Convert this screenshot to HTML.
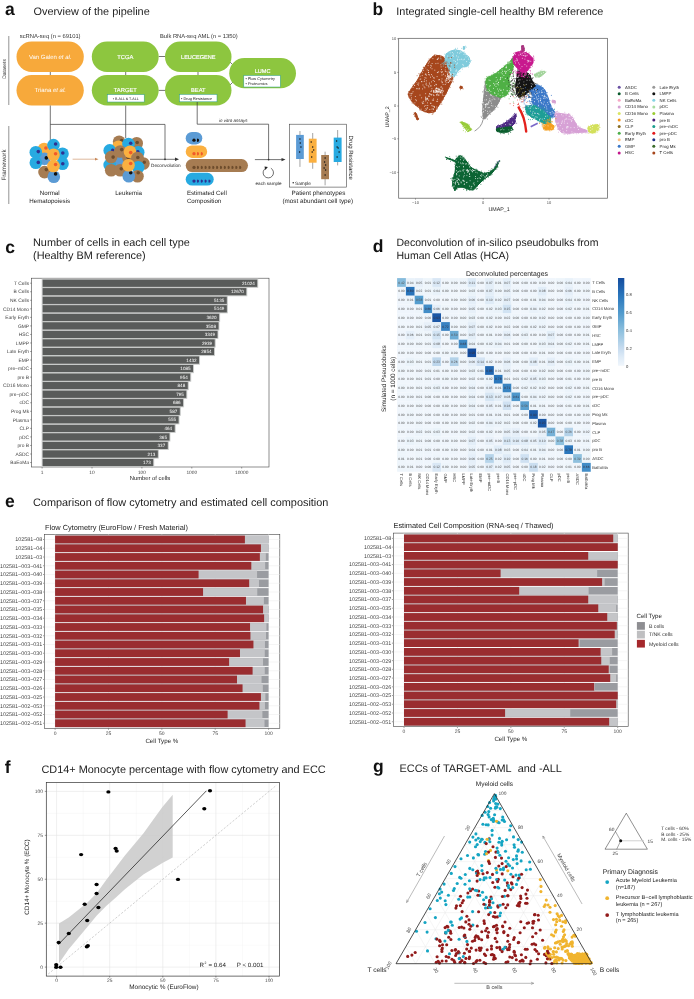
<!DOCTYPE html>
<html><head><meta charset="utf-8"><style>
html,body{margin:0;padding:0;background:#fff;}
svg{display:block;font-family:"Liberation Sans",sans-serif;will-change:transform;text-rendering:geometricPrecision;}
</style></head><body>
<svg width="694" height="999" viewBox="0 0 694 999">
<rect width="694" height="999" fill="#fff"/>
<text x="4.9" y="15.2" font-size="17.5" fill="#111" font-weight="bold">a</text>
<text x="33.5" y="14.75" font-size="10.9" fill="#222">Overview of the pipeline</text>
<line x1="8.8" y1="36" x2="8.8" y2="105" stroke="#666" stroke-width="0.7"/>
<line x1="8.8" y1="126" x2="8.8" y2="204" stroke="#666" stroke-width="0.7"/>
<text x="6.4" y="69" font-size="5.0" fill="#333" text-anchor="middle" transform="rotate(-90 6.4 69)">Datasets</text>
<text x="6.2" y="165" font-size="6.2" fill="#333" text-anchor="middle" transform="rotate(-90 6.2 165)">Framework</text>
<text x="19.8" y="38" font-size="5.8" fill="#333">scRNA-seq (n = 69101)</text>
<text x="160" y="38" font-size="5.8" fill="#333">Bulk RNA-seq AML (n = 1350)</text>
<line x1="50.3" y1="72" x2="50.3" y2="75" stroke="#3a3a3a" stroke-width="0.7"/>
<line x1="125.7" y1="72" x2="125.7" y2="75" stroke="#3a3a3a" stroke-width="0.7"/>
<line x1="198" y1="72" x2="198" y2="75" stroke="#3a3a3a" stroke-width="0.7"/>
<line x1="158.7" y1="56.5" x2="165" y2="56.5" stroke="#3a3a3a" stroke-width="0.7"/>
<line x1="158.7" y1="90.4" x2="165" y2="90.4" stroke="#3a3a3a" stroke-width="0.7"/>
<line x1="229" y1="61" x2="234" y2="66" stroke="#3a3a3a" stroke-width="0.7"/>
<line x1="229" y1="86" x2="234" y2="81" stroke="#3a3a3a" stroke-width="0.7"/>
<rect x="16.5" y="41.5" width="67.3" height="30.5" rx="15.25" fill="#f7a93b"/>
<rect x="16.5" y="75" width="67.3" height="30.5" rx="15.25" fill="#f7a93b"/>
<rect x="91.8" y="41.5" width="66.9" height="30.5" rx="15.25" fill="#8dc63f"/>
<rect x="91.8" y="75" width="66.9" height="30.5" rx="15.25" fill="#8dc63f"/>
<rect x="165" y="41.5" width="66.5" height="30.5" rx="15.25" fill="#8dc63f"/>
<rect x="165" y="75" width="66.5" height="30.5" rx="15.25" fill="#8dc63f"/>
<rect x="229.2" y="58" width="66.8" height="30.3" rx="15.15" fill="#8dc63f"/>
<text x="50.2" y="58.6" font-size="6.0" fill="#fff" text-anchor="middle">Van Galen <tspan font-style="italic">et al.</tspan></text>
<text x="50.2" y="92.2" font-size="6.0" fill="#fff" text-anchor="middle">Triana <tspan font-style="italic">et al.</tspan></text>
<text x="125.3" y="58.6" font-size="5.8" fill="#fff" text-anchor="middle" stroke="#fff" stroke-width="0.15">TCGA</text>
<text x="125.3" y="92.1" font-size="5.8" fill="#fff" text-anchor="middle" stroke="#fff" stroke-width="0.15">TARGET</text>
<text x="198.3" y="58.6" font-size="5.6" fill="#fff" text-anchor="middle" stroke="#fff" stroke-width="0.15">LEUCEGENE</text>
<text x="198.3" y="92.1" font-size="5.8" fill="#fff" text-anchor="middle" stroke="#fff" stroke-width="0.15">BEAT</text>
<text x="262.6" y="73.2" font-size="5.6" fill="#fff" text-anchor="middle" stroke="#fff" stroke-width="0.15">LUMC</text>
<rect x="107.3" y="94.6" width="36.9" height="7.4" fill="#fff" stroke="#2a9d8f" stroke-width="0.5"/>
<text x="125.7" y="99.8" font-size="3.6" fill="#222" text-anchor="middle">• B-ALL &amp; T-ALL</text>
<rect x="179.5" y="94.4" width="37.5" height="7.4" fill="#fff" stroke="#2a9d8f" stroke-width="0.5"/>
<text x="181" y="99.7" font-size="3.9" fill="#222">• Drug Resistance</text>
<rect x="243.8" y="75.5" width="36.5" height="11.5" fill="#fff" stroke="#2a9d8f" stroke-width="0.5"/>
<text x="245.5" y="80.4" font-size="3.9" fill="#222">• Flow Cytometry</text>
<text x="245.5" y="85.4" font-size="3.9" fill="#222">• Proteomics</text>
<polyline points="50.3,105.5 50.3,141" fill="none" stroke="#3a3a3a" stroke-width="0.7"/>
<polyline points="125.7,105.5 125.7,138" fill="none" stroke="#3a3a3a" stroke-width="0.7"/>
<polyline points="50.3,124.4 165,124.4 165,159.3" fill="none" stroke="#3a3a3a" stroke-width="0.7"/>
<polyline points="197.2,102 197.2,124.2 268.6,124.2 268.6,159.6" fill="none" stroke="#3a3a3a" stroke-width="0.7"/>
<polyline points="150,159.3 176,159.3" fill="none" stroke="#3a3a3a" stroke-width="0.7"/>
<path d="M179,159.3 L175,157.6 L175,161 Z" fill="#333"/>
<circle cx="165" cy="159.3" r="0.9" fill="#333"/>
<text x="151" y="166.6" font-size="4.7" fill="#222">Deconvolution</text>
<polyline points="254.9,159.6 282,159.6" fill="none" stroke="#3a3a3a" stroke-width="0.7"/>
<path d="M285.5,159.6 L281.5,157.9 L281.5,161.3 Z" fill="#333"/>
<circle cx="268.6" cy="159.6" r="0.9" fill="#333"/>
<text x="219" y="121.8" font-size="4.5" fill="#222" font-style="italic">in vitro assays</text>
<path d="M270.9,168.2 A5.2,5.2 0 1 1 265.7,168.2" fill="none" stroke="#222" stroke-width="0.65"/>
<path d="M267.9,167 L265.3,169.9 L264.5,166.6 Z" fill="#222"/>
<text x="268.6" y="184.6" font-size="4.6" fill="#222" text-anchor="middle">each sample</text>
<line x1="72.6" y1="159.2" x2="96" y2="159.2" stroke="#c8895a" stroke-width="0.6"/>
<path d="M98.5,159.2 L95,157.8 L95,160.6 Z" fill="#c8895a"/>
<circle cx="44.1" cy="149" r="6.3" fill="#fbb040"/>
<circle cx="45.9" cy="148" r="1.8" fill="#f15a29"/>
<circle cx="44.5" cy="158.8" r="6.3" fill="#5b9bd5"/>
<circle cx="46.3" cy="157.9" r="1.8" fill="#111"/>
<circle cx="35.8" cy="152.3" r="6.3" fill="#27aae1"/>
<circle cx="38.3" cy="151.6" r="1.8" fill="#2e3192"/>
<circle cx="35.8" cy="162.7" r="6.3" fill="#27aae1"/>
<circle cx="38.3" cy="162.4" r="1.8" fill="#2e3192"/>
<circle cx="62.5" cy="153.7" r="6.3" fill="#27aae1"/>
<circle cx="62.8" cy="153" r="1.8" fill="#2e3192"/>
<circle cx="62.5" cy="163.8" r="6.3" fill="#27aae1"/>
<circle cx="62.8" cy="163.8" r="1.8" fill="#2e3192"/>
<circle cx="53.5" cy="145.1" r="6.3" fill="#27aae1"/>
<circle cx="55.6" cy="144" r="1.8" fill="#2e3192"/>
<circle cx="44.5" cy="172.1" r="6.3" fill="#a67c52"/>
<circle cx="46.3" cy="169.6" r="1.8" fill="#6d4c2c"/>
<circle cx="53.8" cy="176.8" r="6.3" fill="#5b9bd5"/>
<circle cx="55.6" cy="173.9" r="1.8" fill="#111"/>
<circle cx="53.5" cy="154.8" r="6.3" fill="#fbb040"/>
<circle cx="55.6" cy="153.7" r="1.8" fill="#f15a29"/>
<circle cx="53.5" cy="166" r="6.3" fill="#fbb040"/>
<circle cx="55.6" cy="164.5" r="1.8" fill="#f15a29"/>
<circle cx="119.1" cy="141.7" r="6.3" fill="#a67c52"/>
<circle cx="121.7" cy="140.6" r="1.8" fill="#6d4c2c"/>
<circle cx="136.7" cy="143.2" r="6.3" fill="#a67c52"/>
<circle cx="137.2" cy="142.5" r="1.8" fill="#6d4c2c"/>
<circle cx="119.1" cy="161.2" r="6.3" fill="#5b9bd5"/>
<circle cx="118.4" cy="146.8" r="6.3" fill="#fbb040"/>
<circle cx="109.7" cy="150.4" r="6.3" fill="#27aae1"/>
<circle cx="112.7" cy="150.4" r="1.8" fill="#2e3192"/>
<circle cx="109.7" cy="165" r="6.3" fill="#27aae1"/>
<circle cx="111.2" cy="170.2" r="6.3" fill="#a67c52"/>
<circle cx="143.4" cy="163.5" r="6.3" fill="#a67c52"/>
<circle cx="144.2" cy="162.3" r="1.8" fill="#6d4c2c"/>
<circle cx="138.2" cy="152.2" r="6.3" fill="#27aae1"/>
<circle cx="137.8" cy="151.9" r="1.8" fill="#2e3192"/>
<circle cx="128.5" cy="144" r="6.3" fill="#27aae1"/>
<circle cx="130.7" cy="143.2" r="1.8" fill="#2e3192"/>
<circle cx="120.2" cy="151.5" r="6.3" fill="#a67c52"/>
<circle cx="121.7" cy="149.6" r="1.8" fill="#6d4c2c"/>
<circle cx="128.5" cy="157.8" r="6.3" fill="#a67c52"/>
<circle cx="128.2" cy="157.5" r="1.8" fill="#6d4c2c"/>
<circle cx="130" cy="151.8" r="6.3" fill="#fbb040"/>
<circle cx="130.7" cy="152.6" r="1.8" fill="#f15a29"/>
<circle cx="111.2" cy="157.1" r="6.3" fill="#a67c52"/>
<circle cx="113.1" cy="157.1" r="1.8" fill="#6d4c2c"/>
<circle cx="137.5" cy="158" r="6.3" fill="#a67c52"/>
<circle cx="137.8" cy="157.5" r="1.8" fill="#6d4c2c"/>
<circle cx="138.2" cy="167.2" r="6.3" fill="#27aae1"/>
<circle cx="120.2" cy="170.2" r="6.3" fill="#a67c52"/>
<circle cx="121.3" cy="168.7" r="1.8" fill="#6d4c2c"/>
<circle cx="137.5" cy="176.2" r="6.3" fill="#a67c52"/>
<circle cx="138.2" cy="172.8" r="1.8" fill="#6d4c2c"/>
<circle cx="128.8" cy="176.2" r="6.3" fill="#5b9bd5"/>
<circle cx="130.7" cy="172.8" r="1.8" fill="#111"/>
<circle cx="128.5" cy="165.3" r="6.3" fill="#fbb040"/>
<circle cx="130.7" cy="163.5" r="1.8" fill="#f15a29"/>
<text x="49.7" y="194.6" font-size="6.2" fill="#222" text-anchor="middle">Normal</text>
<text x="49.7" y="202.6" font-size="6.2" fill="#222" text-anchor="middle">Hematopoiesis</text>
<text x="128.6" y="194.6" font-size="6.2" fill="#222" text-anchor="middle">Leukemia</text>
<rect x="185.7" y="131.9" width="16.6" height="12.5" rx="6.25" fill="#5b9bd5"/>
<rect x="185.7" y="145.4" width="21.5" height="12.5" rx="6.25" fill="#fbb040"/>
<rect x="185.7" y="159.1" width="62.3" height="13" rx="6.5" fill="#a67c52"/>
<rect x="185.7" y="172.8" width="28" height="12.8" rx="6.4" fill="#27aae1"/>
<circle cx="194" cy="140.2" r="1.65" fill="#111"/>
<path d="M197.40,138.50 A1.7,1.7 0 0 1 197.40,141.90 A0.5,1.7 0 0 1 197.40,138.50 Z" fill="#111"/>
<circle cx="194" cy="153.7" r="1.65" fill="#f15a29"/>
<path d="M197.40,152.00 A1.7,1.7 0 0 1 197.40,155.40 A0.5,1.7 0 0 1 197.40,152.00 Z" fill="#f15a29"/>
<path d="M201.24,152.00 A1.7,1.7 0 0 1 201.24,155.40 A0.5,1.7 0 0 1 201.24,152.00 Z" fill="#f15a29"/>
<circle cx="194" cy="167.4" r="1.65" fill="#6d4c2c"/>
<path d="M197.40,165.70 A1.7,1.7 0 0 1 197.40,169.10 A0.5,1.7 0 0 1 197.40,165.70 Z" fill="#6d4c2c"/>
<path d="M201.24,165.70 A1.7,1.7 0 0 1 201.24,169.10 A0.5,1.7 0 0 1 201.24,165.70 Z" fill="#6d4c2c"/>
<path d="M205.08,165.70 A1.7,1.7 0 0 1 205.08,169.10 A0.5,1.7 0 0 1 205.08,165.70 Z" fill="#6d4c2c"/>
<path d="M208.92,165.70 A1.7,1.7 0 0 1 208.92,169.10 A0.5,1.7 0 0 1 208.92,165.70 Z" fill="#6d4c2c"/>
<path d="M212.76,165.70 A1.7,1.7 0 0 1 212.76,169.10 A0.5,1.7 0 0 1 212.76,165.70 Z" fill="#6d4c2c"/>
<path d="M216.60,165.70 A1.7,1.7 0 0 1 216.60,169.10 A0.5,1.7 0 0 1 216.60,165.70 Z" fill="#6d4c2c"/>
<path d="M220.44,165.70 A1.7,1.7 0 0 1 220.44,169.10 A0.5,1.7 0 0 1 220.44,165.70 Z" fill="#6d4c2c"/>
<path d="M224.28,165.70 A1.7,1.7 0 0 1 224.28,169.10 A0.5,1.7 0 0 1 224.28,165.70 Z" fill="#6d4c2c"/>
<path d="M228.12,165.70 A1.7,1.7 0 0 1 228.12,169.10 A0.5,1.7 0 0 1 228.12,165.70 Z" fill="#6d4c2c"/>
<path d="M231.96,165.70 A1.7,1.7 0 0 1 231.96,169.10 A0.5,1.7 0 0 1 231.96,165.70 Z" fill="#6d4c2c"/>
<path d="M235.80,165.70 A1.7,1.7 0 0 1 235.80,169.10 A0.5,1.7 0 0 1 235.80,165.70 Z" fill="#6d4c2c"/>
<path d="M239.64,165.70 A1.7,1.7 0 0 1 239.64,169.10 A0.5,1.7 0 0 1 239.64,165.70 Z" fill="#6d4c2c"/>
<circle cx="194" cy="181.1" r="1.65" fill="#2e3192"/>
<path d="M197.40,179.40 A1.7,1.7 0 0 1 197.40,182.80 A0.5,1.7 0 0 1 197.40,179.40 Z" fill="#2e3192"/>
<path d="M201.24,179.40 A1.7,1.7 0 0 1 201.24,182.80 A0.5,1.7 0 0 1 201.24,179.40 Z" fill="#2e3192"/>
<path d="M205.08,179.40 A1.7,1.7 0 0 1 205.08,182.80 A0.5,1.7 0 0 1 205.08,179.40 Z" fill="#2e3192"/>
<path d="M208.92,179.40 A1.7,1.7 0 0 1 208.92,182.80 A0.5,1.7 0 0 1 208.92,179.40 Z" fill="#2e3192"/>
<text x="186.9" y="195.2" font-size="6.2" fill="#222">Estimated Cell</text>
<text x="186.9" y="203.3" font-size="6.2" fill="#222">Composition</text>
<rect x="289.4" y="124.2" width="57.1" height="62.9" fill="none" stroke="#444" stroke-width="0.6"/>
<line x1="299.95000000000005" y1="131" x2="299.95000000000005" y2="166.9" stroke="#666" stroke-width="0.6"/>
<rect x="296.1" y="134.9" width="7.699999999999989" height="24.099999999999994" fill="#5b9bd5"/>
<circle cx="299.95000000000005" cy="139" r="0.75" fill="#111"/>
<circle cx="300.25000000000006" cy="143" r="0.75" fill="#111"/>
<circle cx="300.95000000000005" cy="147" r="0.75" fill="#111"/>
<circle cx="299.65000000000003" cy="152" r="0.75" fill="#111"/>
<line x1="312.70000000000005" y1="133" x2="312.70000000000005" y2="168.8" stroke="#666" stroke-width="0.6"/>
<rect x="308.8" y="138.7" width="7.800000000000011" height="24.0" fill="#fbb040"/>
<circle cx="311.20000000000005" cy="142" r="0.75" fill="#111"/>
<circle cx="312.70000000000005" cy="147" r="0.75" fill="#111"/>
<circle cx="313.70000000000005" cy="150" r="0.75" fill="#111"/>
<circle cx="312.20000000000005" cy="152" r="0.75" fill="#111"/>
<circle cx="311.70000000000005" cy="157" r="0.75" fill="#111"/>
<line x1="325.1" y1="151.7" x2="325.1" y2="185.3" stroke="#666" stroke-width="0.6"/>
<rect x="321.2" y="155" width="7.800000000000011" height="24.19999999999999" fill="#a67c52"/>
<circle cx="325.1" cy="158" r="0.75" fill="#111"/>
<circle cx="324.6" cy="162" r="0.75" fill="#111"/>
<circle cx="325.6" cy="165" r="0.75" fill="#111"/>
<circle cx="324.1" cy="168" r="0.75" fill="#111"/>
<circle cx="325.6" cy="170" r="0.75" fill="#111"/>
<circle cx="325.1" cy="175" r="0.75" fill="#111"/>
<line x1="337.65" y1="130" x2="337.65" y2="165.4" stroke="#666" stroke-width="0.6"/>
<rect x="333.7" y="137.6" width="7.900000000000034" height="24.400000000000006" fill="#27aae1"/>
<circle cx="336.65" cy="141" r="0.75" fill="#111"/>
<circle cx="337.15" cy="147" r="0.75" fill="#111"/>
<circle cx="338.15" cy="148" r="0.75" fill="#111"/>
<circle cx="339.15" cy="152" r="0.75" fill="#111"/>
<circle cx="337.15" cy="157" r="0.75" fill="#111"/>
<circle cx="293.2" cy="182.8" r="0.7" fill="#111"/>
<text x="295" y="184.6" font-size="4.7" fill="#222">Sample</text>
<text x="318.4" y="195.3" font-size="6.3" fill="#222" text-anchor="middle">Patient phenotypes</text>
<text x="317.8" y="203.4" font-size="6.3" fill="#222" text-anchor="middle">(most abundant cell type)</text>
<text x="348.6" y="157.8" font-size="6.0" fill="#222" text-anchor="middle" transform="rotate(90 348.6 157.8)">Drug Resistance</text>
<text x="372.6" y="15" font-size="17.5" fill="#111" font-weight="bold">b</text>
<text x="396.3" y="14.9" font-size="10.9" fill="#222">Integrated single-cell healthy BM reference</text>
<rect x="398.7" y="38.3" width="208.7" height="159.89999999999998" fill="none" stroke="#555" stroke-width="0.7"/>
<line x1="397.2" y1="38.8" x2="398.7" y2="38.8" stroke="#555" stroke-width="0.5"/>
<text x="396.2" y="40.199999999999996" font-size="4.0" fill="#444" text-anchor="end">10</text>
<line x1="397.2" y1="72.4" x2="398.7" y2="72.4" stroke="#555" stroke-width="0.5"/>
<text x="396.2" y="73.80000000000001" font-size="4.0" fill="#444" text-anchor="end">5</text>
<line x1="397.2" y1="106" x2="398.7" y2="106" stroke="#555" stroke-width="0.5"/>
<text x="396.2" y="107.4" font-size="4.0" fill="#444" text-anchor="end">0</text>
<line x1="397.2" y1="138.8" x2="398.7" y2="138.8" stroke="#555" stroke-width="0.5"/>
<text x="396.2" y="140.20000000000002" font-size="4.0" fill="#444" text-anchor="end">−5</text>
<line x1="397.2" y1="172.4" x2="398.7" y2="172.4" stroke="#555" stroke-width="0.5"/>
<text x="396.2" y="173.8" font-size="4.0" fill="#444" text-anchor="end">−10</text>
<line x1="415.5" y1="198.2" x2="415.5" y2="199.7" stroke="#555" stroke-width="0.5"/>
<text x="415.5" y="204.0" font-size="4.0" fill="#444" text-anchor="middle">−10</text>
<line x1="483.2" y1="198.2" x2="483.2" y2="199.7" stroke="#555" stroke-width="0.5"/>
<text x="483.2" y="204.0" font-size="4.0" fill="#444" text-anchor="middle">0</text>
<line x1="549" y1="198.2" x2="549" y2="199.7" stroke="#555" stroke-width="0.5"/>
<text x="549" y="204.0" font-size="4.0" fill="#444" text-anchor="middle">10</text>
<text x="499" y="210.8" font-size="5.3" fill="#222" text-anchor="middle">UMAP_1</text>
<text x="388.5" y="117" font-size="5.3" fill="#222" text-anchor="middle" transform="rotate(-90 388.5 117)">UMAP_2</text>
<polygon points="434.6,55.0 441.5,56.1 446.1,59.6 450.7,66.5 453.3,73.4 452.4,79.2 449.6,86.1 445.5,94.2 441.5,101.1 436.9,108.0 434.6,112.0 428.8,112.9 421.9,110.3 415.0,104.6 409.2,97.6 408.3,93.6 411.5,88.4 417.3,80.3 423.1,70.0 428.8,60.7" fill="#a6461c" stroke="#a6461c" stroke-width="1.0" stroke-linejoin="round" opacity="1"/>
<path d="M437.6 59.2h0M432.4 76.2h0M427.4 102.9h0M434.3 78.0h0M446.9 71.8h0M422.2 102.3h0M416.4 88.7h0M437.1 76.6h0M432.9 58.6h0M438.9 79.8h0M422.4 88.9h0M428.7 72.4h0M444.0 95.5h0M419.3 88.3h0M431.9 105.7h0M441.1 71.7h0M427.1 98.8h0M410.1 93.7h0M442.7 88.2h0M447.7 73.2h0M439.6 89.4h0M434.4 81.4h0M429.6 93.5h0M411.0 95.6h0M445.3 71.5h0M425.7 93.7h0M411.0 99.5h0M425.9 105.5h0M433.0 106.1h0M420.8 79.0h0M424.4 106.2h0M418.8 83.1h0M434.8 70.2h0M424.9 87.8h0M431.5 90.8h0M438.7 58.1h0M426.0 78.1h0M413.0 91.7h0M435.9 63.6h0M429.3 83.0h0M423.7 70.3h0M445.6 64.3h0M432.1 63.5h0M432.1 111.7h0M420.1 76.2h0M415.8 99.7h0M432.3 100.1h0M418.5 85.0h0M420.0 95.1h0M451.3 80.9h0M451.3 76.1h0M436.4 107.1h0M446.1 82.8h0M437.7 101.3h0M412.1 93.2h0M442.1 82.7h0M416.3 100.7h0M423.3 101.4h0M452.0 77.9h0M426.4 109.8h0M440.9 64.8h0M414.9 102.9h0M424.1 86.8h0M432.0 109.1h0M427.8 105.5h0M445.5 67.2h0M419.1 89.0h0M420.0 79.3h0M424.2 81.5h0M434.6 107.4h0M427.2 108.1h0M430.9 85.8h0M428.1 65.6h0M416.1 82.4h0M440.9 87.2h0M423.0 85.0h0M433.3 100.4h0M413.1 87.4h0M443.1 84.4h0M433.6 99.0h0M449.4 80.7h0M435.9 84.3h0M431.3 95.1h0M428.7 85.9h0M429.8 109.5h0M450.7 70.0h0M433.5 109.6h0M446.1 62.9h0M411.6 93.8h0M415.3 96.5h0M438.0 63.3h0M426.2 83.2h0M431.5 74.6h0M440.8 56.1h0M433.2 80.5h0M436.4 84.7h0M427.3 107.8h0M445.2 70.0h0M434.0 95.6h0M439.3 79.6h0M436.8 101.4h0M428.7 74.6h0M433.2 108.7h0M432.0 68.8h0M422.3 72.7h0M442.5 71.8h0M430.8 65.3h0M441.3 86.9h0M416.8 82.5h0M445.2 80.0h0M430.6 103.3h0M426.0 84.3h0M423.7 103.2h0M440.1 91.8h0M426.5 75.1h0M411.5 97.9h0M421.5 81.6h0M422.2 75.6h0M429.7 84.1h0M417.3 84.2h0M434.7 85.6h0M442.1 93.1h0M425.8 73.9h0M440.9 92.2h0M414.6 85.3h0M431.0 103.3h0M434.6 106.7h0M439.0 95.1h0M433.4 91.3h0M436.5 94.4h0M430.9 86.0h0M438.0 58.8h0M441.5 69.6h0M441.1 66.9h0M430.5 77.2h0M429.9 94.6h0M442.8 90.7h0M437.2 59.5h0M441.7 72.6h0M438.5 95.1h0M438.7 71.8h0M431.5 81.9h0M429.3 61.9h0M448.5 66.5h0M428.5 70.6h0M417.8 88.7h0M414.7 85.3h0M445.2 84.5h0M418.7 107.0h0M428.6 72.5h0M422.5 103.6h0M446.1 62.0h0M448.9 71.8h0M425.0 77.7h0M424.5 79.8h0M421.2 109.2h0M431.3 66.0h0M425.1 110.4h0M436.7 107.9h0M440.7 57.9h0M441.3 81.1h0M442.2 92.3h0M429.5 74.9h0M421.7 97.8h0M437.8 72.4h0M433.4 77.8h0M430.7 67.7h0M428.5 63.1h0M433.9 106.4h0M442.0 78.9h0M426.9 85.3h0M425.3 74.6h0M431.0 91.5h0M447.1 67.5h0M426.3 80.8h0M409.8 96.1h0M448.6 82.4h0M425.9 108.7h0M431.8 94.5h0M437.4 99.3h0M428.9 86.9h0M437.3 72.6h0M436.9 95.4h0M431.9 88.7h0M425.8 67.9h0M435.3 55.6h0M421.9 81.7h0M448.1 82.5h0M430.7 94.1h0M427.2 69.9h0" stroke="#fff" stroke-width="0.8" stroke-linecap="round" fill="none"/>
<path d="M439.8 55.4h0M434.3 55.8h0M439.8 57.3h0M439.1 55.8h0M440.7 57.6h0M436.5 56.8h0M443.9 56.8h0M442.5 57.7h0M445.0 58.3h0M443.9 59.8h0M442.5 56.7h0M449.4 61.2h0M451.6 64.6h0M448.4 63.8h0M450.8 65.0h0M447.3 62.8h0M447.6 60.8h0M448.2 61.9h0M450.8 67.1h0M453.3 71.3h0M450.0 67.0h0M453.4 73.6h0M453.9 72.9h0M452.8 71.8h0M452.7 67.5h0M451.3 66.3h0M452.7 77.6h0M452.6 78.4h0M453.0 75.3h0M453.7 77.1h0M453.1 79.0h0M453.2 81.9h0M451.3 82.8h0M451.5 82.4h0M450.0 83.1h0M449.6 84.0h0M450.5 82.6h0M452.7 81.2h0M448.8 88.2h0M446.2 92.8h0M446.7 93.2h0M450.1 87.4h0M446.1 92.1h0M446.9 88.6h0M447.3 91.1h0M449.5 86.4h0M446.2 91.7h0M444.7 96.2h0M445.8 94.5h0M442.0 98.2h0M443.7 99.3h0M443.3 98.7h0M444.3 95.9h0M442.6 100.7h0M441.8 104.2h0M439.6 104.8h0M436.9 107.3h0M438.3 106.3h0M438.3 104.8h0M440.2 104.1h0M439.3 102.1h0M441.4 102.6h0M435.6 111.4h0M436.8 107.7h0M437.5 108.8h0M435.4 109.9h0M433.3 111.3h0M432.2 114.3h0M432.0 111.9h0M434.2 110.1h0M433.0 113.7h0M429.3 112.4h0M426.3 111.0h0M422.2 110.7h0M427.5 112.5h0M423.6 111.2h0M425.7 111.9h0M424.8 111.9h0M419.5 109.8h0M415.4 105.2h0M416.4 104.8h0M422.3 109.6h0M414.4 104.0h0M420.9 108.8h0M420.1 106.6h0M420.8 110.1h0M411.7 101.3h0M413.3 101.0h0M413.4 103.7h0M415.0 104.0h0M410.3 100.0h0M412.2 103.0h0M412.0 100.8h0M413.7 101.7h0M412.3 102.7h0M408.0 94.6h0M409.1 96.0h0M409.6 96.4h0M410.0 95.9h0M408.4 91.6h0M410.9 91.3h0M410.0 91.5h0M412.5 89.1h0M411.8 91.8h0M411.8 90.5h0M413.0 85.0h0M411.0 89.1h0M413.0 86.7h0M416.9 82.6h0M417.0 81.6h0M414.3 84.5h0M413.7 88.7h0M415.9 82.6h0M416.9 82.8h0M419.8 75.2h0M418.9 73.7h0M419.2 79.2h0M419.8 75.6h0M422.3 69.7h0M421.2 72.6h0M423.2 73.1h0M417.1 75.7h0M420.3 73.6h0M417.8 80.4h0M419.9 74.4h0M428.6 62.1h0M426.9 63.9h0M425.8 67.2h0M423.3 67.3h0M423.5 67.4h0M424.5 68.5h0M425.0 69.3h0M428.2 61.0h0M425.9 67.6h0M425.5 65.8h0M432.7 57.6h0M430.5 59.1h0M431.3 58.0h0M429.2 60.2h0M432.5 57.4h0M429.1 58.9h0M432.7 56.5h0M430.5 59.2h0" stroke="#a6461c" stroke-width="0.8" stroke-linecap="round" fill="none"/>
<polygon points="446.1,53.8 450.7,51.0 455.3,49.8 461.1,51.0 464.6,53.8 469.2,57.3 470.3,61.9 468.0,65.9 462.2,67.1 457.6,71.1 454.2,76.9 450.7,74.6 448.4,67.7 445.0,59.6" fill="#7fcbdc" stroke="#7fcbdc" stroke-width="1.0" stroke-linejoin="round" opacity="1"/>
<path d="M456.8 69.9h0M456.4 55.9h0M447.7 56.1h0M446.0 58.9h0M451.7 64.8h0M456.0 71.2h0M458.2 57.0h0M450.5 73.6h0M451.0 70.0h0M453.3 73.7h0M453.3 56.3h0M469.8 62.5h0M466.7 61.6h0M463.3 65.3h0M452.8 55.5h0M460.8 51.9h0M468.5 59.1h0M459.9 59.6h0M450.2 52.8h0M452.3 52.5h0M450.2 58.4h0M455.7 50.4h0M451.5 57.5h0M463.1 59.8h0M453.1 75.9h0M455.4 61.6h0M464.6 59.2h0M462.8 64.4h0M450.5 73.2h0M450.1 70.5h0M457.4 63.1h0M465.2 54.8h0M457.5 59.2h0M466.0 56.9h0M468.9 57.5h0M450.4 68.8h0M457.6 52.8h0M461.1 52.0h0M454.0 60.7h0M455.0 73.9h0M451.7 74.2h0M457.7 60.1h0M467.4 56.1h0M456.7 64.2h0M461.4 59.2h0M453.3 54.0h0M463.8 54.4h0M456.1 70.8h0M459.7 53.2h0" stroke="#fff" stroke-width="0.8" stroke-linecap="round" fill="none"/>
<path d="M448.7 52.1h0M446.5 54.6h0M450.3 51.9h0M446.7 54.1h0M446.6 53.9h0M455.1 49.4h0M455.8 50.4h0M455.6 48.4h0M453.1 51.7h0M456.2 50.8h0M454.2 50.8h0M458.0 50.6h0M458.8 51.3h0M457.5 48.3h0M461.3 51.5h0M462.8 53.6h0M464.4 52.1h0M463.5 52.2h0M466.2 56.6h0M463.7 54.9h0M467.4 55.8h0M465.3 55.6h0M465.5 53.4h0M468.5 56.9h0M467.2 59.2h0M468.7 57.3h0M471.1 60.5h0M469.1 61.8h0M467.4 64.7h0M467.5 65.1h0M468.5 67.0h0M465.8 65.9h0M462.1 67.3h0M466.3 66.3h0M464.3 67.1h0M465.9 67.0h0M459.8 69.7h0M461.5 67.1h0M462.3 69.1h0M457.8 69.6h0M460.0 71.6h0M459.5 67.2h0M454.1 76.0h0M456.9 75.5h0M456.8 72.6h0M456.3 74.2h0M458.4 72.2h0M456.7 73.5h0M451.4 76.4h0M450.5 77.0h0M452.8 75.5h0M451.1 74.3h0M448.7 68.7h0M451.9 74.1h0M450.5 73.2h0M450.3 72.2h0M451.7 72.6h0M451.3 72.7h0M448.0 67.5h0M446.0 60.8h0M444.6 61.8h0M447.8 63.4h0M447.5 66.0h0M447.7 64.1h0M446.9 66.6h0M446.6 63.3h0M444.4 61.1h0M446.2 55.0h0M445.8 57.1h0M445.6 55.7h0M444.8 54.2h0M446.4 57.6h0" stroke="#7fcbdc" stroke-width="0.8" stroke-linecap="round" fill="none"/>
<path d="M443.6 66.8h0M454.7 67.3h0M448.1 63.4h0M451.8 63.1h0M446.4 66.8h0M450.3 63.3h0M447.1 67.7h0M444.7 63.5h0M448.5 73.2h0M447.1 68.7h0M449.5 70.7h0M454.3 65.1h0M450.7 62.5h0M449.0 69.1h0M446.4 63.1h0M450.2 64.9h0M448.9 57.8h0M449.1 65.6h0M449.9 66.4h0M452.5 74.4h0M446.6 62.3h0M451.6 57.5h0M446.8 62.4h0M446.8 61.6h0M446.3 62.6h0" stroke="#a6461c" stroke-width="1.0" stroke-linecap="round" fill="none"/>
<path d="M448.0 66.3h0M442.1 63.3h0M448.5 63.1h0M452.0 63.2h0M450.8 59.7h0M443.2 66.1h0M447.9 58.2h0M446.9 64.5h0M444.7 63.2h0M443.1 63.8h0M447.9 61.6h0M446.2 61.7h0M451.0 65.7h0M441.0 58.9h0M446.5 62.2h0M444.0 64.6h0M454.8 58.8h0M443.9 62.5h0M450.5 64.6h0M447.4 63.7h0" stroke="#7fcbdc" stroke-width="1.0" stroke-linecap="round" fill="none"/>
<polygon points="460.0,86.5 462.5,86.8 462.0,88.5 459.8,88.2" fill="#a6461c" stroke="#a6461c" stroke-width="1.0" stroke-linejoin="round" opacity="1"/>
<path d="M461.4 86.5h0M460.7 86.5h0M462.2 88.4h0M460.5 89.7h0M463.1 88.9h0M460.8 85.8h0" stroke="#a6461c" stroke-width="0.8" stroke-linecap="round" fill="none"/>
<polygon points="414.2,112.5 416.0,113.0 418.5,119.5 417.0,120.0" fill="#a6461c" stroke="#a6461c" stroke-width="1.0" stroke-linejoin="round" opacity="1"/>
<path d="M414.2 112.6h0" stroke="#fff" stroke-width="0.8" stroke-linecap="round" fill="none"/>
<path d="M415.5 112.5h0M416.7 114.5h0M417.8 118.6h0M416.1 115.0h0M418.7 118.7h0M416.1 114.4h0M415.9 116.8h0M417.3 118.8h0M418.4 118.7h0M415.4 114.0h0M417.0 115.2h0M415.0 116.4h0M413.5 114.3h0M416.6 114.5h0M416.9 117.9h0M414.4 116.0h0" stroke="#a6461c" stroke-width="0.8" stroke-linecap="round" fill="none"/>
<polygon points="463.5,46.5 464.8,46.8 464.2,49.5 463.2,49.2" fill="#7fcbdc" stroke="#7fcbdc" stroke-width="1.0" stroke-linejoin="round" opacity="1"/>
<path d="M466.3 47.2h0M465.1 48.1h0M465.6 46.2h0M464.2 48.9h0M461.7 48.4h0M463.3 46.6h0" stroke="#7fcbdc" stroke-width="0.8" stroke-linecap="round" fill="none"/>
<polygon points="485.8,81.5 490.7,88.4 496.5,94.2 500.7,97.6 498.8,102.2 495.4,108.0 490.7,112.6 486.1,117.2 483.5,119.8 482.7,111.5 483.5,100.0 484.5,90.0" fill="#8c8c8c" stroke="#8c8c8c" stroke-width="1.0" stroke-linejoin="round" opacity="1"/>
<path d="M483,120 Q481.5,127 474.6,131.1" fill="none" stroke="#8c8c8c" stroke-width="0.9"/>
<path d="M486.9 104.7h0M494.9 99.3h0M486.4 91.3h0M486.9 103.7h0M492.1 99.8h0M486.2 88.4h0M495.3 95.4h0M492.9 96.9h0M483.5 119.7h0M485.5 104.4h0M488.9 101.4h0M491.5 103.2h0M487.4 111.3h0M486.0 84.7h0M483.6 102.8h0M498.4 99.1h0M483.9 104.4h0M492.9 106.0h0M489.8 98.7h0M483.5 111.6h0M495.5 106.3h0M485.3 110.4h0M488.1 104.2h0M488.5 91.3h0M484.9 99.9h0M485.7 90.6h0M485.3 107.5h0M482.9 109.0h0M486.2 82.9h0M494.0 98.8h0M488.8 113.0h0M491.3 105.6h0M485.3 90.0h0M483.7 108.8h0M487.6 113.7h0M488.7 87.9h0M491.5 93.7h0M486.5 99.8h0M487.9 91.4h0M486.3 95.5h0M483.7 109.3h0M483.0 112.4h0" stroke="#fff" stroke-width="0.8" stroke-linecap="round" fill="none"/>
<path d="M487.5 83.9h0M489.3 87.1h0M488.5 84.2h0M489.0 85.9h0M489.4 86.2h0M487.2 82.7h0M488.1 85.5h0M488.4 84.1h0M494.2 92.1h0M493.7 93.4h0M491.3 88.0h0M496.3 92.5h0M491.7 87.9h0M495.7 94.0h0M495.2 93.6h0M492.8 90.5h0M497.7 96.3h0M496.6 93.0h0M499.5 98.4h0M498.1 95.2h0M501.2 96.9h0M498.6 99.7h0M501.3 97.6h0M500.9 98.8h0M499.5 101.4h0M496.5 106.4h0M495.8 105.2h0M497.9 107.4h0M496.8 106.5h0M496.4 105.1h0M498.0 103.2h0M492.9 110.3h0M492.7 110.1h0M492.3 111.5h0M494.0 109.0h0M495.0 109.3h0M493.9 110.4h0M490.3 114.4h0M487.2 115.2h0M488.2 112.6h0M486.4 117.8h0M487.1 116.3h0M489.4 113.4h0M487.6 119.1h0M485.3 118.7h0M485.4 118.1h0M483.0 119.0h0M482.8 115.3h0M482.3 111.7h0M481.1 116.4h0M482.8 118.6h0M481.5 117.5h0M483.0 116.5h0M483.3 115.7h0M482.6 110.9h0M482.9 108.6h0M483.8 104.2h0M482.8 104.5h0M482.2 103.6h0M482.4 104.6h0M483.1 109.8h0M482.9 107.0h0M483.4 106.9h0M482.4 105.1h0M483.1 101.6h0M485.3 99.2h0M484.8 95.9h0M483.9 95.2h0M485.2 97.4h0M483.2 99.2h0M482.9 92.1h0M482.9 91.6h0M484.3 91.5h0M483.8 90.2h0M483.7 98.7h0M484.6 82.9h0M484.9 81.4h0M486.4 82.5h0M484.0 87.1h0M485.2 84.7h0M484.6 85.8h0M486.1 82.5h0M485.4 86.9h0" stroke="#8c8c8c" stroke-width="0.8" stroke-linecap="round" fill="none"/>
<polygon points="513.4,57.3 508.8,63.0 503.1,67.7 496.1,73.4 486.9,78.0 485.8,81.5 486.9,88.4 491.5,94.2 500.7,97.6 506.5,95.3 510.0,88.4 508.8,78.0 512.3,70.0 514.6,63.0" fill="#4fb045" stroke="#4fb045" stroke-width="1.0" stroke-linejoin="round" opacity="1"/>
<path d="M490.0 80.5h0M513.4 65.5h0M498.1 94.0h0M502.1 77.3h0M500.7 78.1h0M505.5 73.0h0M496.1 81.3h0M495.9 95.5h0M505.3 78.5h0M497.3 79.9h0M502.3 92.8h0M498.5 82.5h0M501.1 90.2h0M500.5 77.6h0M503.9 81.6h0M497.6 89.0h0M494.6 85.1h0M500.1 79.6h0M493.5 83.4h0M502.3 73.9h0M500.8 90.5h0M503.5 89.8h0M508.0 70.3h0M506.4 71.6h0M502.6 71.4h0M498.8 72.8h0M502.6 96.0h0M498.5 82.3h0M494.9 93.5h0M509.3 69.5h0M503.2 96.0h0M500.1 95.6h0M506.5 66.2h0M494.7 92.6h0M499.8 89.2h0M501.2 72.8h0M489.4 90.6h0M504.9 71.1h0M490.3 85.7h0M509.8 62.5h0M498.6 91.0h0M509.0 63.7h0M496.0 86.4h0M496.7 95.9h0M506.1 67.8h0M510.9 62.2h0M500.6 79.2h0M493.6 88.4h0M496.9 83.8h0M502.1 69.8h0M490.9 91.6h0M495.0 84.0h0M488.9 79.9h0M496.2 77.5h0M489.4 86.2h0M486.7 84.7h0M504.9 71.5h0M497.7 83.9h0M505.9 67.3h0M510.2 71.5h0M506.9 86.0h0M506.4 67.6h0M498.3 84.9h0M509.8 88.6h0M489.0 89.2h0M491.9 94.2h0M505.8 73.2h0M507.3 90.7h0M507.1 90.7h0M503.9 75.5h0" stroke="#fff" stroke-width="0.8" stroke-linecap="round" fill="none"/>
<path d="M512.8 56.7h0M511.5 60.0h0M511.2 62.0h0M509.6 63.0h0M508.2 62.0h0M513.0 59.0h0M511.7 60.4h0M507.7 62.3h0M507.5 65.2h0M507.0 64.8h0M507.5 64.1h0M504.8 67.1h0M505.7 65.0h0M504.2 65.6h0M498.0 71.7h0M500.7 69.8h0M502.6 68.6h0M497.8 71.8h0M500.0 69.7h0M502.0 68.7h0M496.2 73.0h0M499.2 71.6h0M501.4 68.4h0M494.2 74.2h0M486.9 76.6h0M487.1 77.1h0M494.0 74.7h0M489.4 76.3h0M493.3 72.9h0M488.3 79.0h0M488.4 76.4h0M494.8 73.5h0M491.9 74.8h0M486.0 81.2h0M485.1 78.8h0M487.9 79.3h0M485.8 84.9h0M485.8 83.4h0M487.1 87.1h0M487.1 88.3h0M486.8 85.9h0M486.8 80.0h0M489.9 93.3h0M489.0 92.2h0M487.2 90.9h0M491.1 92.9h0M487.2 90.5h0M488.6 90.8h0M486.1 90.9h0M501.5 95.5h0M499.1 96.3h0M491.5 93.3h0M492.2 94.2h0M495.5 95.2h0M494.8 95.2h0M492.8 94.0h0M491.8 93.8h0M495.9 96.7h0M503.6 96.6h0M502.6 96.5h0M501.8 96.8h0M500.6 97.2h0M502.9 96.3h0M504.8 97.0h0M509.4 91.7h0M505.1 95.5h0M508.1 90.0h0M508.3 94.4h0M507.3 93.8h0M508.2 93.8h0M510.2 91.1h0M510.0 88.7h0M509.5 87.9h0M509.4 84.4h0M507.6 77.9h0M510.9 81.6h0M509.8 85.8h0M508.4 78.9h0M508.8 88.2h0M508.8 78.3h0M510.2 82.8h0M513.2 72.9h0M511.1 73.2h0M511.0 73.4h0M509.6 77.1h0M512.1 72.6h0M509.5 74.9h0M510.1 76.1h0M512.0 70.4h0M512.0 70.3h0M514.6 65.3h0M513.1 71.3h0M513.1 65.9h0M513.2 68.1h0M514.0 63.7h0M513.5 69.6h0M514.4 59.8h0M513.0 61.2h0M514.1 60.9h0M513.8 59.9h0M514.3 60.4h0M515.1 93.0h0M516.1 90.9h0M510.8 88.5h0M510.8 81.0h0M511.5 78.2h0M511.4 93.6h0M512.8 94.4h0M513.3 74.7h0M511.7 94.6h0M515.2 84.1h0M512.6 92.2h0M514.0 83.8h0M515.3 85.4h0M511.1 76.4h0M509.1 98.8h0M513.5 95.0h0M513.4 85.8h0M513.5 86.6h0M510.5 84.9h0M515.0 97.9h0M512.2 87.6h0M514.4 93.8h0M514.0 83.3h0M516.4 86.9h0M513.3 102.0h0M510.2 85.1h0M511.0 93.9h0M511.3 86.3h0M513.8 83.4h0M512.9 82.8h0" stroke="#4fb045" stroke-width="0.8" stroke-linecap="round" fill="none"/>
<path d="M514.8 92.1h0M512.8 89.7h0M511.4 85.0h0M510.8 81.9h0M519.0 80.0h0M515.5 86.6h0M513.5 72.9h0M513.4 76.6h0M511.7 80.7h0M512.3 95.5h0M516.3 74.8h0M512.3 80.4h0M513.3 75.2h0M510.2 84.5h0M511.5 91.1h0M512.4 86.2h0M512.1 89.5h0M515.3 84.5h0M512.0 88.3h0M513.2 90.5h0M513.2 85.5h0M514.5 80.2h0M510.6 87.6h0M512.6 88.5h0M514.5 87.1h0M511.8 94.0h0M508.5 80.5h0M510.6 96.4h0M512.3 83.8h0M514.1 92.1h0M514.9 84.6h0M513.3 78.7h0M513.5 83.3h0M508.7 86.2h0M512.8 89.6h0M514.2 85.5h0M512.6 94.3h0M513.4 90.9h0M513.8 92.8h0M514.9 78.5h0M514.1 94.2h0M515.6 83.1h0M516.2 90.2h0M514.3 81.1h0M513.8 87.9h0M509.0 82.2h0M510.1 74.5h0M513.4 90.2h0M513.0 76.3h0M510.5 90.1h0M512.6 86.8h0M512.5 85.9h0M511.7 81.1h0M510.3 85.3h0M512.9 91.7h0M517.5 86.2h0M507.6 78.0h0M515.6 87.9h0M512.7 79.7h0M514.0 86.9h0" stroke="#222" stroke-width="0.8" stroke-linecap="round" fill="none"/>
<polygon points="531.6,85.2 538.5,85.2 544.6,89.5 548.0,97.3 550.6,105.9 555.0,112.9 556.7,116.3 551.5,117.2 546.3,113.7 540.3,108.5 534.2,105.1 531.6,101.6 532.5,95.6 529.9,90.4" fill="#3b78c8" stroke="#3b78c8" stroke-width="1.0" stroke-linejoin="round" opacity="1"/>
<path d="M547.2 98.1h0M545.0 98.3h0M554.5 115.4h0M536.7 93.6h0M541.5 92.6h0M553.0 113.0h0M538.8 100.7h0M548.2 104.3h0M542.0 103.7h0M550.8 112.8h0M530.6 88.8h0M553.5 116.5h0M551.1 107.3h0M536.1 99.0h0M532.7 85.8h0M543.0 89.5h0M541.4 90.9h0M532.9 96.5h0M539.3 92.1h0M534.6 93.7h0M531.7 86.6h0M543.5 98.3h0M544.8 96.8h0M547.4 102.6h0M544.6 107.3h0M538.4 98.6h0M540.2 98.3h0M546.3 97.3h0M536.4 91.5h0M550.9 114.3h0M538.6 105.9h0M544.6 95.3h0M549.9 112.5h0M543.6 104.2h0M546.8 109.0h0M540.1 108.0h0M540.4 102.0h0M546.3 106.9h0M538.5 105.3h0M544.5 92.3h0M546.3 93.7h0M549.2 101.9h0M542.7 92.3h0M544.1 102.0h0M544.0 111.2h0M536.3 90.7h0M547.1 111.7h0M553.9 113.0h0M552.2 111.4h0M533.2 90.1h0" stroke="#fff" stroke-width="0.8" stroke-linecap="round" fill="none"/>
<path d="M534.0 85.7h0M536.2 85.1h0M529.8 87.1h0M535.4 85.5h0M537.1 84.7h0M535.6 86.0h0M539.4 86.8h0M541.4 86.9h0M542.5 87.9h0M542.8 89.1h0M540.2 85.9h0M542.8 87.5h0M541.4 85.8h0M546.8 92.7h0M545.7 91.6h0M545.0 91.4h0M544.9 93.0h0M548.6 99.0h0M546.1 96.0h0M547.1 92.7h0M544.8 92.3h0M550.4 104.8h0M548.6 102.6h0M549.3 105.0h0M549.3 105.3h0M549.9 100.5h0M549.7 103.8h0M548.3 102.6h0M550.5 104.4h0M551.1 106.1h0M551.0 105.4h0M550.2 105.0h0M554.0 109.7h0M549.7 107.2h0M554.5 111.3h0M552.0 108.2h0M554.8 113.5h0M555.5 115.7h0M555.0 114.7h0M554.5 114.8h0M553.0 116.5h0M556.7 116.8h0M553.7 116.9h0M552.6 118.0h0M556.7 115.9h0M550.8 118.0h0M548.6 115.5h0M550.3 115.5h0M548.2 113.6h0M550.0 115.2h0M547.8 114.5h0M544.2 110.9h0M545.4 113.0h0M539.3 108.3h0M542.7 109.9h0M544.9 113.8h0M546.0 112.6h0M547.0 114.1h0M533.4 105.9h0M539.9 106.9h0M540.7 108.5h0M540.4 107.7h0M538.2 107.3h0M538.0 108.2h0M533.6 103.5h0M533.0 102.2h0M533.2 105.9h0M533.2 104.2h0M531.9 97.9h0M533.5 98.6h0M534.4 99.5h0M531.7 95.8h0M531.9 98.5h0M533.3 96.6h0M529.3 90.5h0M532.7 95.7h0M530.5 90.4h0M531.3 91.0h0M528.8 92.4h0M531.8 87.2h0M530.7 89.5h0M530.4 88.7h0M529.6 89.9h0M531.1 86.4h0" stroke="#3b78c8" stroke-width="0.8" stroke-linecap="round" fill="none"/>
<polygon points="518.0,71.1 526.1,72.3 529.6,74.6 531.9,80.3 535.3,86.1 531.6,88.6 525.6,94.7 518.6,97.3 516.9,94.2 515.7,86.1 516.9,78.0" fill="#151515" stroke="#151515" stroke-width="1.0" stroke-linejoin="round" opacity="1"/>
<path d="M525.8 73.6h0M528.4 74.6h0M527.0 80.3h0M523.0 88.5h0M518.9 75.5h0M525.1 75.0h0M517.5 94.1h0M518.0 84.1h0M526.2 74.2h0M524.9 75.4h0M526.2 84.4h0M522.9 76.3h0M523.6 76.4h0M518.2 77.4h0M532.8 84.2h0M531.2 86.0h0M529.2 77.1h0M520.9 71.9h0M523.4 84.7h0M521.4 94.4h0M517.4 86.3h0M520.3 86.7h0M516.5 87.3h0M522.4 92.3h0M523.8 81.8h0M517.4 77.5h0M530.1 88.9h0M518.7 80.1h0M518.5 76.3h0M520.0 79.8h0M531.2 83.7h0M525.4 91.5h0M528.2 76.3h0M529.8 80.2h0M518.9 96.4h0M528.9 90.6h0M518.3 92.8h0M531.4 86.6h0M524.2 92.7h0M519.6 83.1h0" stroke="#fff" stroke-width="0.8" stroke-linecap="round" fill="none"/>
<path d="M518.0 71.5h0M523.3 71.1h0M524.7 70.7h0M526.0 71.4h0M517.7 69.8h0M519.3 70.5h0M525.5 72.1h0M519.4 72.2h0M526.8 72.7h0M527.5 73.9h0M528.5 73.7h0M526.2 73.9h0M529.8 75.7h0M529.8 75.0h0M531.8 79.9h0M531.4 80.5h0M530.2 78.5h0M528.3 76.9h0M534.2 83.2h0M535.3 86.1h0M532.9 82.2h0M533.7 82.3h0M534.0 83.0h0M534.0 85.2h0M532.9 87.6h0M534.3 85.6h0M530.9 89.5h0M532.2 88.4h0M528.4 92.1h0M529.7 90.8h0M526.1 92.6h0M528.9 89.4h0M527.2 92.8h0M531.1 92.3h0M527.0 95.0h0M529.0 92.4h0M519.9 96.1h0M520.0 97.8h0M523.9 95.6h0M519.6 96.0h0M518.5 95.9h0M524.3 96.4h0M520.0 96.0h0M516.5 96.7h0M518.3 96.2h0M518.8 96.6h0M518.7 90.6h0M515.9 94.7h0M516.2 93.5h0M516.7 94.2h0M517.1 90.9h0M517.5 92.0h0M514.9 86.2h0M517.4 92.9h0M515.0 81.8h0M516.5 80.8h0M516.1 78.5h0M516.4 82.5h0M516.3 84.7h0M516.8 83.0h0M517.0 84.6h0M516.2 79.2h0M518.4 72.9h0M518.9 73.3h0M517.8 72.3h0M517.9 70.7h0M517.6 74.5h0M517.9 75.9h0" stroke="#151515" stroke-width="0.8" stroke-linecap="round" fill="none"/>
<path d="M518.1 94.4h0M525.7 94.1h0M523.2 95.9h0M520.0 96.8h0M527.5 91.4h0M520.4 93.6h0M521.1 93.9h0M528.0 90.6h0M525.2 93.5h0M520.8 90.6h0M515.4 95.0h0M529.3 92.1h0M526.5 91.1h0M525.5 93.9h0M522.2 90.5h0M521.6 93.4h0M529.0 96.7h0M525.4 92.9h0M524.7 97.1h0M529.0 97.5h0M531.1 94.1h0M520.1 98.6h0M530.9 97.5h0M523.8 95.2h0M522.5 93.8h0M523.8 96.0h0M519.2 96.3h0M524.4 94.2h0M524.9 93.7h0M524.9 99.2h0M522.1 97.3h0M521.5 94.1h0M524.7 93.0h0M527.9 90.4h0M523.0 94.8h0M524.2 94.3h0M519.8 94.9h0M529.2 96.6h0M523.2 91.1h0M520.1 97.1h0" stroke="#151515" stroke-width="1.0" stroke-linecap="round" fill="none"/>
<polygon points="515.7,52.7 521.5,51.0 528.4,53.8 533.0,58.4 533.0,63.0 529.6,67.7 526.1,72.3 521.5,72.3 516.9,67.7 513.4,63.0 513.4,57.3" fill="#c8198e" stroke="#c8198e" stroke-width="1.0" stroke-linejoin="round" opacity="1"/>
<path d="M524.9 55.8h0M514.8 61.2h0M516.0 60.7h0M526.8 66.1h0M522.3 58.3h0M517.1 59.6h0M518.9 55.1h0M527.8 62.0h0M522.0 55.2h0M527.2 55.2h0M518.6 62.9h0M530.3 66.4h0M525.8 56.6h0M520.4 54.5h0M525.8 72.1h0M519.4 51.9h0M516.8 58.6h0M522.3 53.2h0M515.5 54.3h0M528.6 61.0h0M529.0 61.1h0M515.5 63.0h0M523.4 55.5h0M522.0 66.6h0M520.9 68.3h0M524.9 59.1h0M528.8 60.9h0M523.9 52.5h0M519.7 64.3h0M530.8 61.3h0M525.9 55.4h0M520.9 53.2h0M525.0 53.7h0M517.3 60.7h0M524.9 64.6h0M527.3 60.4h0" stroke="#fff" stroke-width="0.8" stroke-linecap="round" fill="none"/>
<path d="M516.0 52.3h0M517.3 52.7h0M519.9 52.8h0M519.2 51.6h0M520.7 51.0h0M517.7 52.2h0M524.6 50.5h0M525.9 52.5h0M523.8 51.0h0M522.4 51.3h0M528.2 54.9h0M526.6 52.1h0M523.4 51.9h0M533.8 58.8h0M532.3 58.6h0M528.7 54.5h0M533.6 56.1h0M529.1 52.9h0M530.9 57.6h0M533.1 60.8h0M532.3 58.4h0M534.5 60.3h0M533.8 57.1h0M532.4 66.1h0M531.9 64.2h0M528.9 67.3h0M532.5 61.7h0M530.8 67.5h0M528.6 68.6h0M529.0 70.3h0M530.0 67.9h0M526.3 70.3h0M527.0 70.5h0M524.4 71.6h0M523.9 71.4h0M524.1 72.6h0M520.5 73.1h0M521.6 71.1h0M518.2 69.8h0M519.7 71.1h0M520.8 70.1h0M517.3 66.3h0M516.9 67.0h0M515.9 66.6h0M517.6 65.3h0M515.9 64.6h0M514.1 62.5h0M516.9 66.5h0M512.6 60.3h0M514.0 58.4h0M511.3 58.8h0M514.6 60.0h0M513.9 57.8h0M514.2 55.9h0M513.4 53.4h0M512.5 57.0h0M515.0 52.6h0M514.0 56.4h0" stroke="#c8198e" stroke-width="0.8" stroke-linecap="round" fill="none"/>
<path d="M522.0 68.4h0M522.4 76.4h0M519.7 67.4h0M520.0 67.2h0M521.8 68.0h0M524.4 70.4h0M526.8 70.2h0M524.2 71.0h0M512.4 70.3h0M521.8 68.2h0M523.3 68.4h0M525.7 71.2h0M517.9 72.1h0M516.9 71.4h0M530.7 73.3h0M518.9 74.0h0M530.4 70.9h0M524.2 74.9h0M524.9 66.5h0M522.9 70.3h0M526.2 75.0h0M526.2 73.1h0M518.0 68.1h0M523.9 71.3h0M532.3 74.1h0M518.7 72.4h0M520.4 69.2h0M523.6 70.2h0M524.3 68.9h0M526.7 69.5h0M522.6 68.7h0M523.7 68.2h0M519.8 72.3h0M525.3 71.2h0M523.9 68.0h0M518.0 72.9h0M523.4 71.6h0M523.8 72.4h0M519.2 72.7h0M515.1 70.9h0" stroke="#c8198e" stroke-width="1.0" stroke-linecap="round" fill="none"/>
<polygon points="521.5,45.8 523.5,45.6 524.4,50.4 522.0,51.0" fill="#a8327f" stroke="#a8327f" stroke-width="1.0" stroke-linejoin="round" opacity="1"/>
<path d="M521.8 48.1h0" stroke="#fff" stroke-width="0.8" stroke-linecap="round" fill="none"/>
<path d="M523.3 45.9h0M522.8 46.3h0M524.1 47.9h0M521.8 47.7h0M524.6 48.5h0M522.5 48.5h0M522.4 50.6h0M521.5 50.9h0M522.3 49.6h0M521.8 52.6h0M521.7 48.3h0M521.5 49.2h0M521.4 47.9h0" stroke="#a8327f" stroke-width="0.8" stroke-linecap="round" fill="none"/>
<path d="M525.0 73.8h0M521.2 74.3h0M518.6 72.0h0M524.9 74.3h0M520.7 71.5h0M521.4 76.3h0M517.0 72.2h0M524.9 76.9h0M526.4 72.9h0M523.1 72.5h0M522.8 73.3h0M521.7 76.7h0M522.2 73.5h0M521.2 74.5h0M519.2 74.4h0M523.1 77.1h0M513.8 71.6h0M516.7 75.7h0M529.5 74.4h0M521.4 76.3h0M512.5 73.6h0M510.2 74.3h0M519.2 73.0h0M522.2 72.8h0M524.9 74.0h0M522.3 79.0h0M519.4 75.8h0M518.1 76.5h0M524.4 74.3h0M524.4 77.2h0M525.8 74.0h0M520.8 76.2h0M515.9 72.8h0M522.7 75.1h0M527.5 77.5h0M522.1 74.9h0M516.4 73.6h0M521.9 73.6h0M521.2 75.2h0M517.7 72.9h0" stroke="#c8198e" stroke-width="1.0" stroke-linecap="round" fill="none"/>
<path d="M518.2 91.7h0M521.8 77.6h0M530.8 84.9h0M531.8 84.2h0M537.5 89.5h0M527.7 86.6h0M526.0 90.0h0M536.9 83.9h0M521.6 89.0h0M532.3 78.6h0M523.6 81.1h0M529.8 88.5h0M523.4 80.4h0M530.4 75.8h0M530.2 85.2h0M536.5 90.9h0M524.1 84.6h0M525.6 82.4h0M527.4 90.8h0M519.6 84.9h0M534.4 89.7h0M523.0 82.0h0M522.8 78.1h0M532.7 86.3h0M523.6 78.9h0M525.1 83.5h0M535.5 83.7h0M527.6 91.3h0M530.3 85.1h0M516.3 92.9h0M529.9 83.9h0M526.6 81.3h0M522.6 78.7h0M529.5 88.5h0M527.9 89.8h0M529.6 86.6h0M522.7 88.9h0M532.8 89.1h0M533.1 83.7h0M522.2 92.1h0M524.1 87.2h0M526.1 86.1h0M525.7 83.4h0M518.2 95.4h0M528.0 76.6h0M522.5 80.5h0M523.4 73.5h0M529.8 94.0h0M525.8 89.6h0M529.9 79.9h0M533.0 77.7h0M524.2 84.2h0M533.2 86.6h0M526.4 82.1h0M527.4 86.2h0M530.6 92.8h0M530.6 86.1h0M526.3 93.8h0M528.0 85.9h0M535.8 93.7h0" stroke="#151515" stroke-width="0.9" stroke-linecap="round" fill="none"/>
<path d="M524.8 91.6h0M518.9 96.2h0M519.8 95.8h0M518.2 92.4h0M524.0 92.6h0M523.1 93.5h0M516.5 87.7h0M521.3 99.1h0M521.4 88.4h0M518.8 92.1h0M527.8 89.8h0M524.7 92.7h0M520.3 88.3h0M521.3 89.2h0M524.6 85.1h0M527.5 95.0h0M524.8 97.9h0M524.9 85.3h0M522.3 93.8h0M518.7 87.6h0M524.1 94.0h0M519.9 91.1h0M519.5 89.8h0M521.7 96.2h0M514.1 90.7h0M529.9 93.2h0M522.8 95.3h0M517.1 87.3h0M513.9 86.3h0M523.2 95.3h0" stroke="#8a7a2a" stroke-width="0.8" stroke-linecap="round" fill="none"/>
<path d="M526.0 96.7h0M530.0 103.0h0M529.3 90.7h0M525.3 87.7h0M529.2 95.9h0M524.8 107.3h0M534.4 102.3h0M529.3 100.8h0M525.1 99.8h0M537.3 95.7h0M524.8 100.8h0M532.3 104.1h0M523.3 99.4h0M526.7 94.0h0M528.4 97.7h0M532.5 102.1h0M524.2 100.4h0M526.3 96.9h0M525.6 105.2h0M526.0 91.7h0M524.2 103.9h0M538.5 94.9h0M526.3 98.4h0M521.2 102.0h0M527.8 101.4h0M538.9 98.7h0M531.9 104.1h0M524.9 97.1h0M535.6 103.5h0M528.7 94.7h0M532.3 102.6h0M538.7 107.2h0M531.9 101.3h0M528.3 97.3h0M529.5 101.2h0M531.2 105.3h0M529.5 97.4h0M531.9 107.5h0M523.9 102.0h0M530.7 102.6h0" stroke="#3b78c8" stroke-width="0.9" stroke-linecap="round" fill="none"/>
<path d="M522.0 101.6h0M519.6 108.6h0M526.7 96.6h0M510.1 103.7h0M517.4 100.0h0M513.8 103.4h0M519.8 99.9h0M523.5 111.5h0M525.7 106.6h0M518.4 104.6h0M519.9 106.5h0M522.3 101.9h0M522.1 99.2h0M523.1 107.8h0M518.6 104.2h0M513.5 105.6h0M523.4 98.0h0M526.8 102.4h0M513.3 96.7h0M523.4 100.9h0M524.3 96.0h0M519.6 105.8h0M517.4 104.6h0M518.6 103.3h0M521.3 110.7h0" stroke="#e3211c" stroke-width="0.7" stroke-linecap="round" fill="none"/>
<polygon points="534.2,74.6 540.0,72.0 544.6,71.1 545.5,72.5 540.0,76.9 535.0,76.5" fill="#a3d49c" stroke="#a3d49c" stroke-width="1.0" stroke-linejoin="round" opacity="1"/>
<path d="M538.8 74.8h0M537.0 76.4h0M543.4 72.6h0M541.6 73.3h0" stroke="#fff" stroke-width="0.8" stroke-linecap="round" fill="none"/>
<path d="M539.8 73.3h0M536.5 73.0h0M540.2 70.9h0M536.4 73.7h0M538.0 72.6h0M538.3 72.0h0M541.9 70.2h0M544.2 72.0h0M541.8 72.2h0M540.3 71.4h0M546.0 71.8h0M543.5 73.6h0M541.8 75.8h0M542.8 74.7h0M540.5 75.7h0M540.3 76.2h0M542.8 74.1h0M541.2 75.6h0M536.9 77.5h0M539.5 76.4h0M539.6 76.7h0M535.7 77.3h0M538.8 77.3h0M534.5 74.1h0M534.8 74.5h0" stroke="#a3d49c" stroke-width="0.8" stroke-linecap="round" fill="none"/>
<polygon points="525.6,106.8 532.5,105.1 538.5,107.7 544.6,112.0 550.6,117.2 550.6,123.2 544.6,124.1 538.5,120.6 531.6,117.2 526.4,112.9" fill="#1e9e96" stroke="#1e9e96" stroke-width="1.0" stroke-linejoin="round" opacity="1"/>
<path d="M535.1 118.6h0M533.1 111.4h0M539.3 114.6h0M539.6 120.2h0M539.4 119.5h0M548.1 122.2h0M545.7 113.2h0M540.7 110.0h0M532.5 113.1h0M538.4 114.0h0M532.0 114.9h0M540.2 118.8h0M544.3 118.6h0M546.6 122.7h0M537.1 117.2h0M530.6 108.2h0M535.9 116.8h0M533.2 108.2h0M531.1 106.7h0M530.4 111.1h0M538.2 108.6h0M537.6 113.5h0M529.2 108.3h0M534.5 113.2h0M534.4 118.2h0M535.4 108.0h0M547.2 116.0h0M543.8 111.8h0M535.6 113.3h0M533.1 115.6h0M542.2 119.1h0M545.4 116.3h0" stroke="#fff" stroke-width="0.8" stroke-linecap="round" fill="none"/>
<path d="M529.1 107.5h0M528.9 106.2h0M527.7 105.6h0M525.3 107.7h0M527.8 107.4h0M526.0 105.8h0M529.2 105.8h0M533.6 105.1h0M533.5 106.4h0M535.6 105.5h0M533.3 107.3h0M533.4 105.3h0M535.2 106.2h0M539.4 108.6h0M540.0 107.4h0M545.1 111.2h0M545.9 112.8h0M541.7 111.0h0M543.4 111.7h0M543.9 110.2h0M550.8 117.2h0M546.7 112.8h0M548.8 115.6h0M544.6 112.1h0M548.8 119.0h0M546.7 114.7h0M548.9 112.7h0M550.9 121.9h0M549.7 119.3h0M549.3 117.3h0M549.1 118.0h0M548.8 121.2h0M550.1 121.6h0M546.2 122.5h0M547.6 124.1h0M548.3 123.5h0M546.0 122.9h0M550.8 122.3h0M545.3 123.2h0M544.3 122.1h0M538.3 120.3h0M542.1 124.7h0M540.2 119.7h0M538.3 119.9h0M539.9 122.7h0M544.3 122.7h0M536.9 119.5h0M532.1 116.9h0M531.5 117.1h0M532.6 119.5h0M538.0 119.9h0M538.0 120.9h0M535.3 118.4h0M527.6 113.7h0M528.9 114.5h0M528.0 115.2h0M529.8 112.1h0M527.9 114.7h0M525.9 114.4h0M527.0 110.1h0M526.3 111.7h0M528.4 109.6h0M525.9 109.1h0M525.4 109.5h0M526.8 108.1h0" stroke="#1e9e96" stroke-width="0.8" stroke-linecap="round" fill="none"/>
<path d="M548.0 116.1h0M539.2 111.3h0M531.4 113.0h0M536.1 105.7h0M530.3 119.7h0M539.3 114.0h0M539.2 110.1h0M540.8 116.3h0M536.1 114.0h0M544.2 110.1h0M539.0 109.0h0M541.6 110.5h0M544.9 108.9h0M548.1 110.8h0M533.0 108.4h0M542.0 108.6h0M548.8 117.1h0M541.1 106.3h0M537.9 109.1h0M527.1 113.7h0M551.2 109.9h0M542.9 117.1h0M532.2 110.6h0M539.6 113.9h0M531.1 112.9h0M537.4 115.8h0M528.4 109.7h0M535.0 110.7h0M542.3 109.5h0M554.4 109.2h0M543.0 116.1h0M543.8 111.2h0M533.0 111.0h0M542.0 112.5h0M541.5 114.3h0M532.7 108.3h0M546.6 110.1h0M528.5 119.4h0M533.0 108.3h0M543.8 107.5h0" stroke="#1e9e96" stroke-width="1.0" stroke-linecap="round" fill="none"/>
<path d="M531.6 105.2h0M531.9 112.5h0M536.5 113.4h0M536.6 100.3h0M532.8 98.9h0M533.5 99.9h0M539.9 93.6h0M531.4 89.5h0M543.5 99.6h0M535.9 99.7h0M541.0 101.6h0M540.3 99.2h0M535.4 99.7h0M526.7 105.4h0M528.1 95.0h0M539.4 100.3h0M540.1 108.5h0M545.3 106.9h0M534.9 110.2h0M531.6 99.6h0M541.0 98.9h0M535.4 98.2h0M542.8 87.7h0M542.4 105.3h0M535.6 102.8h0M531.2 105.5h0M551.3 95.4h0M543.0 99.7h0M534.3 97.6h0M535.1 93.7h0M529.2 108.3h0M535.9 102.8h0M537.6 102.4h0M528.4 95.3h0M539.2 105.0h0M530.3 97.1h0M530.7 103.3h0M537.7 100.2h0M532.8 101.7h0M536.2 96.3h0M537.7 96.7h0M540.8 103.1h0M532.6 102.9h0M536.3 96.5h0M531.4 91.7h0M530.3 101.7h0M542.0 96.9h0M536.8 101.7h0M539.9 102.2h0M542.1 103.8h0" stroke="#3b78c8" stroke-width="1.0" stroke-linecap="round" fill="none"/>
<polygon points="555.0,112.9 561.9,113.7 568.8,114.6 572.0,117.0 575.0,122.0 578.0,127.5 586.5,130.3 588.0,131.8 578.0,132.5 569.0,133.2 561.9,132.7 558.4,129.3 555.8,121.5" fill="#d7a1d6" stroke="#d7a1d6" stroke-width="1.0" stroke-linejoin="round" opacity="1"/>
<path d="M569.0 119.2h0M571.9 131.9h0M563.1 116.0h0M565.1 119.5h0M569.2 116.3h0M556.5 115.4h0M560.2 125.6h0M556.9 123.2h0M566.1 115.0h0M562.3 121.0h0M561.5 114.7h0M566.1 118.3h0M568.2 126.9h0M569.2 116.1h0M557.3 123.9h0M587.7 131.6h0M558.3 123.1h0M571.1 116.8h0M577.6 127.1h0M574.1 132.7h0M574.2 127.6h0M566.5 127.0h0M567.1 127.4h0M564.1 132.8h0M558.0 127.6h0M560.1 130.6h0M567.6 126.5h0M555.1 113.8h0M566.7 130.7h0M561.5 123.4h0M570.9 119.7h0M567.3 123.3h0M564.2 123.1h0M571.6 121.4h0M572.6 118.5h0M563.2 131.7h0M571.9 120.5h0M564.6 121.1h0M578.4 129.5h0M570.9 127.7h0M562.0 122.1h0M566.8 119.1h0M566.9 128.2h0M562.7 128.8h0" stroke="#fff" stroke-width="0.8" stroke-linecap="round" fill="none"/>
<path d="M558.9 112.3h0M559.7 113.8h0M559.7 113.7h0M557.5 111.3h0M560.7 114.4h0M556.2 111.6h0M564.8 114.7h0M564.8 112.3h0M568.4 113.7h0M563.9 116.3h0M563.6 114.5h0M568.7 113.9h0M572.3 116.0h0M569.5 114.2h0M570.0 114.3h0M569.5 115.2h0M571.4 117.7h0M571.0 118.2h0M572.5 117.5h0M573.9 118.1h0M573.7 120.6h0M578.1 126.4h0M576.1 124.9h0M574.5 123.4h0M576.3 125.3h0M575.3 124.0h0M576.5 123.7h0M586.5 132.0h0M579.3 127.7h0M578.8 126.0h0M580.5 127.2h0M587.2 130.6h0M578.8 127.0h0M584.3 129.6h0M585.3 130.2h0M585.0 132.5h0M586.0 130.6h0M588.3 132.0h0M583.3 132.5h0M584.8 131.0h0M578.7 133.4h0M581.8 133.4h0M586.5 131.4h0M583.8 131.3h0M587.1 133.1h0M585.3 132.9h0M582.3 132.9h0M569.9 133.9h0M568.8 133.9h0M575.8 131.5h0M573.4 133.2h0M569.3 133.5h0M574.6 132.5h0M577.3 132.3h0M570.9 133.0h0M576.8 133.8h0M564.0 134.1h0M567.6 132.8h0M564.9 134.0h0M566.8 133.3h0M567.6 134.4h0M564.0 131.9h0M565.1 133.9h0M557.6 129.3h0M558.4 132.2h0M558.8 129.6h0M561.8 131.1h0M555.8 121.0h0M556.9 124.2h0M558.9 125.4h0M557.9 124.7h0M557.4 124.7h0M556.0 122.5h0M557.8 126.8h0M557.2 124.8h0M555.2 121.0h0M556.9 111.7h0M555.7 117.0h0M555.6 112.2h0M557.3 120.7h0M554.0 115.6h0M555.4 119.3h0M554.6 114.9h0" stroke="#d7a1d6" stroke-width="0.8" stroke-linecap="round" fill="none"/>
<polygon points="587.9,127.5 592.2,125.3 598.0,124.6 599.4,127.5 596.5,131.8 592.2,133.2 588.6,131.8" fill="#d3e05a" stroke="#d3e05a" stroke-width="1.0" stroke-linejoin="round" opacity="1"/>
<path d="M598.9 127.0h0M596.5 131.7h0M590.7 130.6h0M592.5 126.5h0M592.1 129.0h0M596.6 131.0h0M598.0 127.7h0M590.3 127.6h0" stroke="#fff" stroke-width="0.8" stroke-linecap="round" fill="none"/>
<path d="M590.5 125.1h0M591.3 128.0h0M588.3 126.4h0M588.6 126.2h0M597.5 125.1h0M595.0 125.0h0M595.8 125.8h0M592.4 124.6h0M595.9 124.3h0M600.0 127.5h0M599.4 124.2h0M599.3 125.7h0M598.0 130.2h0M598.2 128.5h0M599.3 129.9h0M598.6 129.6h0M598.1 130.9h0M593.2 132.9h0M595.0 133.2h0M597.1 132.4h0M593.4 132.4h0M588.9 133.5h0M590.2 132.3h0M590.5 132.7h0M588.0 128.5h0M588.2 129.0h0M588.2 128.0h0M589.0 131.1h0" stroke="#d3e05a" stroke-width="0.8" stroke-linecap="round" fill="none"/>
<polygon points="542.9,125.0 549.8,123.2 554.1,125.8 553.2,129.3 546.3,130.1 543.3,128.4" fill="#f59f1f" stroke="#f59f1f" stroke-width="1.0" stroke-linejoin="round" opacity="1"/>
<path d="M518.6,107.4 Q521.5,112 523.6,118 Q525.4,124 526.2,131.5" fill="none" stroke="#e3211c" stroke-width="2.4" stroke-linejoin="round" stroke-linecap="round"/>
<path d="M530.7,126.7 L537.7,123.2" stroke="#7b68c8" stroke-width="1.6"/>
<path d="M543.9 126.6h0M545.7 125.3h0M548.1 125.8h0M551.7 128.2h0M544.2 124.7h0M543.0 125.5h0" stroke="#fff" stroke-width="0.8" stroke-linecap="round" fill="none"/>
<path d="M543.1 123.3h0M549.8 123.4h0M546.4 124.7h0M545.5 124.6h0M548.5 123.2h0M546.1 122.5h0M546.6 125.0h0M552.5 126.2h0M551.1 124.9h0M549.2 123.2h0M548.9 124.8h0M555.3 125.8h0M554.1 127.2h0M553.5 127.6h0M553.8 129.6h0M548.6 129.7h0M549.6 130.7h0M551.8 130.5h0M551.4 128.8h0M549.6 129.3h0M550.1 130.8h0M546.1 129.2h0M544.9 130.4h0M545.8 130.2h0M544.0 127.2h0M543.5 129.3h0M542.1 126.0h0" stroke="#f59f1f" stroke-width="0.8" stroke-linecap="round" fill="none"/>
<path d="M542.7 124.1h0M547.7 122.4h0M552.2 121.9h0M549.9 119.6h0M541.7 122.9h0M547.6 122.7h0M543.8 120.6h0M555.9 118.6h0M548.4 124.8h0M547.1 121.4h0M539.6 123.3h0M546.3 124.8h0M547.6 120.0h0M549.7 120.3h0M546.0 125.5h0M551.9 121.4h0M551.2 123.4h0M550.3 121.2h0M548.3 122.2h0M550.2 122.1h0M545.8 120.8h0M549.8 118.2h0M548.0 123.2h0M548.7 120.2h0M547.9 119.6h0" stroke="#f59f1f" stroke-width="1.0" stroke-linecap="round" fill="none"/>
<polygon points="552.0,100.8 555.0,100.5 555.5,102.5 552.5,102.8" fill="#d6a2d0" stroke="#d6a2d0" stroke-width="1.0" stroke-linejoin="round" opacity="1"/>
<path d="M553.8 101.2h0M554.9 100.7h0M552.9 99.8h0M554.6 101.1h0M555.0 102.5h0M554.4 103.9h0M555.6 101.5h0M555.6 103.3h0M552.1 100.9h0M552.9 101.5h0" stroke="#d6a2d0" stroke-width="0.8" stroke-linecap="round" fill="none"/>
<polygon points="496.5,126.5 503.4,124.2 509.2,119.6 513.8,116.1 516.1,113.8 514.9,123.1 511.5,126.5 504.6,127.7 496.5,128.8" fill="#4f2a85" stroke="#4f2a85" stroke-width="1.0" stroke-linejoin="round" opacity="1"/>
<path d="M501.5 126.0h0M512.4 122.2h0M498.1 126.7h0M505.6 124.5h0M509.2 124.1h0M515.3 119.7h0M510.1 124.9h0M509.2 119.8h0M507.7 121.5h0M500.2 128.0h0M512.9 117.4h0M511.1 124.5h0" stroke="#fff" stroke-width="0.8" stroke-linecap="round" fill="none"/>
<path d="M503.9 122.7h0M498.6 124.9h0M497.6 127.0h0M503.1 123.5h0M498.3 127.1h0M497.7 126.4h0M497.4 125.5h0M507.5 121.8h0M505.1 123.7h0M502.7 124.5h0M504.0 123.5h0M504.0 124.0h0M505.3 123.1h0M506.6 120.4h0M509.8 121.1h0M512.8 118.2h0M509.9 119.0h0M513.0 115.8h0M511.9 117.2h0M515.0 115.8h0M513.9 114.5h0M514.7 113.4h0M515.4 121.3h0M516.5 116.5h0M515.3 116.0h0M514.2 121.4h0M515.1 121.6h0M515.6 117.3h0M514.8 113.7h0M515.0 114.4h0M516.6 115.8h0M516.7 123.3h0M513.7 123.4h0M514.9 123.6h0M514.5 123.4h0M506.3 128.3h0M509.6 125.7h0M507.5 128.0h0M507.1 127.9h0M507.5 128.2h0M504.9 128.5h0M511.7 126.7h0M501.9 127.0h0M497.4 127.7h0M500.8 128.4h0M502.2 127.8h0M499.5 129.0h0M502.5 129.0h0M497.8 128.3h0M501.6 126.4h0M498.3 127.6h0M496.2 129.3h0" stroke="#4f2a85" stroke-width="0.8" stroke-linecap="round" fill="none"/>
<polygon points="496.5,128.8 504.6,127.7 511.5,126.5 512.6,130.0 506.9,132.3 499.9,132.3 496.5,131.1" fill="#0c5e2e" stroke="#0c5e2e" stroke-width="1.0" stroke-linejoin="round" opacity="1"/>
<path d="M500.5 129.8h0M502.6 128.2h0M508.8 130.1h0M501.8 129.6h0M511.4 129.8h0M511.2 129.8h0M503.9 129.7h0" stroke="#fff" stroke-width="0.8" stroke-linecap="round" fill="none"/>
<path d="M503.6 127.8h0M499.6 127.4h0M502.4 128.0h0M499.3 128.2h0M504.2 128.2h0M503.0 128.8h0M498.0 127.5h0M500.9 129.2h0M511.6 124.4h0M505.4 127.3h0M507.2 126.8h0M508.8 124.9h0M504.6 128.7h0M512.0 128.1h0M505.4 126.6h0M511.3 127.2h0M511.2 128.3h0M513.3 129.7h0M510.7 132.5h0M508.4 134.0h0M508.0 131.9h0M507.8 131.6h0M508.4 130.5h0M508.7 131.8h0M501.7 131.9h0M501.4 130.7h0M502.8 133.0h0M504.3 133.6h0M500.7 133.7h0M503.3 133.4h0M501.4 132.7h0M499.1 131.0h0M497.4 131.7h0M499.1 131.5h0M496.5 130.5h0M497.1 129.9h0" stroke="#0c5e2e" stroke-width="0.8" stroke-linecap="round" fill="none"/>
<polygon points="460.7,121.9 465.4,123.1 468.8,125.4 471.1,130.0 467.7,131.7 465.4,128.8 463.1,125.4" fill="#98cc3a" stroke="#98cc3a" stroke-width="1.0" stroke-linejoin="round" opacity="1"/>
<path d="M467.6 130.5h0M465.0 126.3h0M468.1 129.6h0M466.2 128.8h0" stroke="#fff" stroke-width="0.8" stroke-linecap="round" fill="none"/>
<path d="M460.7 122.5h0M462.0 121.6h0M461.9 124.1h0M462.8 122.8h0M469.4 124.9h0M467.8 123.9h0M467.1 124.3h0M468.5 125.7h0M470.2 130.1h0M471.4 128.7h0M468.1 124.8h0M470.5 129.0h0M469.8 128.7h0M471.2 129.8h0M465.6 131.9h0M471.8 129.6h0M463.3 130.6h0M468.6 130.3h0M467.1 130.1h0M462.8 126.4h0M465.4 126.7h0M465.8 128.4h0M463.5 128.1h0M462.2 121.9h0M462.5 124.3h0M461.0 123.1h0M460.0 122.4h0" stroke="#98cc3a" stroke-width="0.8" stroke-linecap="round" fill="none"/>
<polygon points="445.8,157.3 455.0,160.7 457.3,157.3 460.2,155.6 464.2,158.4 467.7,163.1 471.1,167.7 478.0,171.1 483.8,173.4 489.6,172.3 494.2,168.8 497.6,163.1 499.4,160.7 496.5,167.7 490.7,174.6 483.8,179.2 478.0,185.0 473.4,190.1 468.8,189.6 463.1,187.3 457.3,187.3 455.0,190.7 452.7,186.1 452.7,179.2 455.0,172.3 456.1,163.1 455.0,161.3 446.9,158.4" fill="#0b6433" stroke="#0b6433" stroke-width="1.0" stroke-linejoin="round" opacity="1"/>
<line x1="494.2" y1="167.7" x2="499.4" y2="160.2" stroke="#5b3f99" stroke-width="0.8"/>
<path d="M474.9 170.5h0M459.2 166.7h0M472.3 171.3h0M458.5 183.0h0M469.5 174.5h0M462.0 157.9h0M475.5 178.6h0M457.8 157.1h0M485.3 177.6h0M460.8 171.2h0M458.3 162.1h0M455.5 184.2h0M470.1 180.7h0M464.4 183.9h0M477.7 178.6h0M466.9 175.3h0M481.8 174.3h0M463.7 163.7h0M469.6 186.1h0M462.0 163.8h0M486.6 175.7h0M466.6 182.6h0M462.7 162.9h0M487.8 174.9h0M457.5 172.2h0M456.8 174.4h0M477.8 181.2h0M456.4 166.5h0M464.2 159.0h0M464.5 181.2h0M461.0 181.9h0M483.1 175.3h0M463.5 166.9h0M456.4 170.7h0M460.4 163.0h0M459.2 175.9h0M469.7 166.3h0M474.0 182.8h0M475.9 172.3h0M463.5 160.3h0M474.5 184.9h0M464.6 173.1h0M498.5 162.2h0M460.5 159.7h0M455.2 183.5h0M457.5 182.4h0M471.0 188.3h0M463.9 169.6h0M456.5 174.8h0M486.0 176.7h0M484.8 176.9h0M469.3 176.5h0M460.3 157.0h0M453.7 187.1h0M481.4 176.1h0M473.3 183.8h0M452.8 186.4h0M468.3 164.9h0M458.6 171.7h0M480.5 175.6h0M463.4 166.6h0M471.8 186.4h0M475.5 176.5h0M464.2 184.5h0M487.6 173.7h0M480.5 178.6h0M477.4 172.9h0M486.4 175.7h0M468.4 170.8h0M466.8 170.6h0M469.9 176.4h0M465.5 164.0h0M496.1 165.6h0M459.5 180.1h0M466.6 163.8h0M471.2 186.9h0M468.4 164.4h0M464.2 175.7h0M463.2 171.0h0M463.4 176.9h0M479.2 178.0h0M459.8 171.0h0M456.1 160.2h0M457.3 167.3h0M467.0 182.3h0M467.4 172.3h0" stroke="#fff" stroke-width="0.8" stroke-linecap="round" fill="none"/>
<path d="M449.7 156.7h0M450.3 158.4h0M453.5 160.4h0M449.2 159.1h0M453.1 161.4h0M449.4 158.8h0M446.7 159.1h0M452.2 159.2h0M450.4 159.1h0M456.0 159.0h0M455.8 160.3h0M454.7 161.1h0M456.2 156.2h0M459.4 156.4h0M457.7 158.1h0M458.9 155.4h0M462.7 156.1h0M464.0 157.3h0M461.5 155.9h0M461.6 158.9h0M465.7 160.2h0M468.3 162.0h0M466.4 162.3h0M464.8 158.8h0M466.0 161.7h0M469.8 164.8h0M467.4 162.9h0M470.2 167.1h0M468.4 164.2h0M468.3 165.6h0M476.9 169.5h0M471.5 167.7h0M474.1 169.7h0M477.0 170.9h0M476.8 170.2h0M476.1 169.1h0M471.7 167.6h0M479.2 172.2h0M477.9 172.1h0M479.9 173.3h0M477.5 173.1h0M484.4 172.4h0M481.4 171.2h0M484.5 173.7h0M488.5 173.3h0M488.1 173.6h0M488.9 170.7h0M486.6 174.3h0M492.2 170.5h0M490.8 170.9h0M492.9 170.1h0M491.9 168.6h0M490.9 170.2h0M497.2 162.7h0M495.2 168.6h0M496.8 164.6h0M495.1 167.6h0M495.8 164.0h0M495.1 166.3h0M498.1 162.7h0M497.2 161.6h0M496.3 164.4h0M499.9 161.1h0M497.8 167.1h0M497.8 167.0h0M496.8 166.1h0M497.6 166.3h0M496.8 165.5h0M490.7 172.9h0M495.4 169.3h0M492.4 170.2h0M493.5 171.3h0M491.1 172.9h0M492.1 174.2h0M492.7 171.8h0M490.6 174.3h0M496.8 169.1h0M488.4 177.1h0M491.6 174.0h0M486.1 177.4h0M485.1 179.4h0M483.9 177.3h0M490.8 175.5h0M487.5 176.4h0M485.6 178.3h0M483.2 180.6h0M482.7 179.4h0M478.8 182.7h0M481.9 179.6h0M478.7 183.5h0M483.1 181.1h0M480.9 184.4h0M479.7 183.0h0M476.1 188.1h0M475.0 188.7h0M477.5 185.7h0M476.6 189.2h0M477.1 186.3h0M477.6 188.6h0M470.8 189.5h0M470.6 187.3h0M469.8 190.2h0M466.6 189.1h0M469.5 189.4h0M466.5 188.7h0M467.5 187.4h0M463.7 189.3h0M466.8 190.6h0M466.6 189.9h0M461.4 186.0h0M462.9 187.1h0M458.8 187.7h0M464.3 187.3h0M461.1 185.0h0M454.5 190.3h0M457.6 188.9h0M456.3 188.8h0M456.4 188.7h0M454.1 186.9h0M454.9 189.7h0M454.4 189.5h0M453.6 188.0h0M454.7 189.8h0M453.3 182.7h0M452.7 180.1h0M452.0 180.4h0M452.1 186.2h0M453.3 182.0h0M452.6 185.2h0M450.8 178.6h0M453.0 177.9h0M451.9 178.9h0M453.6 176.4h0M452.2 177.8h0M456.0 173.8h0M453.9 174.9h0M455.7 165.7h0M455.0 166.8h0M455.9 169.3h0M457.9 165.5h0M455.3 167.7h0M455.6 165.8h0M456.7 165.9h0M454.8 164.2h0M456.2 165.1h0M455.7 161.6h0M455.5 161.0h0M447.4 158.6h0M455.4 161.3h0M453.5 161.0h0M453.9 160.0h0M446.4 159.5h0M450.5 161.3h0M455.0 162.1h0M447.6 158.7h0M445.3 157.0h0" stroke="#0b6433" stroke-width="0.8" stroke-linecap="round" fill="none"/>
<path d="M440.0 92.8h0M434.9 92.2h0M434.9 91.8h0M441.9 90.8h0M440.1 89.7h0M436.6 90.2h0M441.0 91.7h0M435.6 89.0h0M436.3 92.2h0M439.4 90.1h0M439.0 91.2h0M436.5 91.5h0M441.7 90.5h0M437.1 90.9h0M436.1 91.4h0M436.4 88.1h0M438.0 88.3h0M437.3 91.2h0M440.5 92.7h0M438.3 89.3h0M437.4 94.1h0M438.4 92.0h0M443.3 91.1h0M433.7 92.4h0M437.9 89.0h0M440.8 90.8h0M442.1 89.2h0M440.2 92.3h0M437.3 92.4h0M433.4 95.0h0M439.2 91.6h0M442.3 95.0h0M433.6 91.1h0M433.3 90.7h0M435.8 92.4h0M436.9 88.5h0M438.4 90.1h0M439.1 88.9h0M435.0 90.3h0M436.2 90.7h0M438.6 91.8h0M437.5 91.4h0M436.3 88.5h0M435.9 90.3h0M436.3 88.1h0M448.2 76.0h0M447.6 76.2h0M448.9 78.1h0M450.4 74.9h0M449.8 76.5h0M448.8 79.4h0M450.2 77.6h0M447.3 76.4h0M450.7 75.6h0M447.7 75.0h0M449.3 75.1h0M453.2 77.0h0M449.2 76.0h0M449.8 77.9h0M448.6 76.1h0M450.7 77.3h0M450.2 77.1h0M448.2 77.9h0M450.2 77.0h0M449.1 78.8h0M447.8 78.0h0M448.9 77.4h0M450.3 74.2h0M448.9 77.0h0M449.3 81.3h0M425.7 99.3h0M428.8 96.1h0M428.7 100.2h0M426.1 98.7h0M425.8 100.9h0M425.7 97.1h0M425.6 98.0h0M427.3 99.1h0M429.1 96.4h0M427.7 98.7h0M427.1 98.1h0M426.2 99.8h0M449.5 72.7h0M447.5 74.4h0M448.1 76.1h0M442.0 75.0h0M446.3 79.9h0M450.3 80.2h0M446.7 78.5h0M445.3 81.2h0M443.6 74.2h0M449.0 73.0h0M446.9 80.6h0M447.1 79.0h0M446.7 78.0h0M442.3 82.1h0M445.3 75.9h0M458.8 184.3h0M457.3 180.9h0M461.2 182.8h0M457.0 180.4h0M458.3 179.2h0M454.9 179.4h0M454.1 186.1h0M455.5 182.6h0M452.4 179.8h0M463.1 180.7h0M453.4 180.0h0M453.1 176.2h0M463.0 180.2h0M458.8 184.2h0M456.0 181.7h0M458.4 179.3h0M457.1 178.2h0M453.8 182.7h0M456.6 173.5h0M463.4 181.0h0M469.6 173.7h0M462.9 170.2h0M467.3 170.8h0M473.3 170.5h0M467.5 169.6h0M472.7 171.8h0M471.7 170.7h0M467.4 170.8h0M466.3 170.0h0M468.8 170.9h0M473.8 170.4h0M472.4 169.6h0M468.4 171.8h0M469.8 167.1h0M470.1 169.8h0M540.3 100.5h0M534.6 101.7h0M528.2 106.6h0M531.9 100.4h0M545.0 96.4h0M530.2 92.7h0M537.3 99.2h0M544.0 96.4h0M536.4 97.1h0M537.8 93.2h0M535.5 94.8h0M542.2 95.6h0M536.3 108.5h0M538.7 101.9h0M524.0 99.2h0M540.6 100.3h0M538.6 96.1h0M530.5 102.5h0M535.9 89.4h0M545.8 105.1h0M532.3 105.2h0M527.6 99.9h0M534.2 98.5h0M541.4 102.8h0M540.8 98.9h0M489.8 100.4h0M488.7 102.8h0M485.8 105.7h0M489.2 107.5h0M490.8 101.2h0M485.3 104.6h0M491.2 95.5h0M487.5 104.1h0M488.8 102.8h0M488.1 107.7h0M485.4 104.5h0M485.8 106.4h0M490.0 111.2h0M486.3 104.0h0M490.4 94.8h0" stroke="#fff" stroke-width="0.9" stroke-linecap="round" fill="none"/>
<circle cx="619.2" cy="87.2" r="1.5" fill="#6a51a3"/>
<text x="625.0" y="88.7" font-size="4.3" fill="#1a1a1a">ASDC</text>
<circle cx="619.2" cy="93.77000000000001" r="1.5" fill="#0b5a2e"/>
<text x="625.0" y="95.27000000000001" font-size="4.3" fill="#1a1a1a">B Cells</text>
<circle cx="619.2" cy="100.34" r="1.5" fill="#f7a8c6"/>
<text x="625.0" y="101.84" font-size="4.3" fill="#1a1a1a">BaEoMa</text>
<circle cx="619.2" cy="106.91" r="1.5" fill="#d5a2d4"/>
<text x="625.0" y="108.41" font-size="4.3" fill="#1a1a1a">CD14 Mono</text>
<circle cx="619.2" cy="113.48" r="1.5" fill="#d9e562"/>
<text x="625.0" y="114.98" font-size="4.3" fill="#1a1a1a">CD16 Mono</text>
<circle cx="619.2" cy="120.05000000000001" r="1.5" fill="#f7941d"/>
<text x="625.0" y="121.55000000000001" font-size="4.3" fill="#1a1a1a">cDC</text>
<circle cx="619.2" cy="126.62" r="1.5" fill="#8a6d23"/>
<text x="625.0" y="128.12" font-size="4.3" fill="#1a1a1a">CLP</text>
<circle cx="619.2" cy="133.19" r="1.5" fill="#4daf4a"/>
<text x="625.0" y="134.69" font-size="4.3" fill="#1a1a1a">Early Eryth</text>
<circle cx="619.2" cy="139.76" r="1.5" fill="#fdc086"/>
<text x="625.0" y="141.26" font-size="4.3" fill="#1a1a1a">EMP</text>
<circle cx="619.2" cy="146.33" r="1.5" fill="#3a76c6"/>
<text x="625.0" y="147.83" font-size="4.3" fill="#1a1a1a">GMP</text>
<circle cx="619.2" cy="152.9" r="1.5" fill="#c2188d"/>
<text x="625.0" y="154.4" font-size="4.3" fill="#1a1a1a">HSC</text>
<circle cx="653.8" cy="87.2" r="1.5" fill="#999999"/>
<text x="659.5999999999999" y="88.7" font-size="4.3" fill="#1a1a1a">Late Eryth</text>
<circle cx="653.8" cy="93.77000000000001" r="1.5" fill="#111111"/>
<text x="659.5999999999999" y="95.27000000000001" font-size="4.3" fill="#1a1a1a">LMPP</text>
<circle cx="653.8" cy="100.34" r="1.5" fill="#86d3e3"/>
<text x="659.5999999999999" y="101.84" font-size="4.3" fill="#1a1a1a">NK Cells</text>
<circle cx="653.8" cy="106.91" r="1.5" fill="#a6dba0"/>
<text x="659.5999999999999" y="108.41" font-size="4.3" fill="#1a1a1a">pDC</text>
<circle cx="653.8" cy="113.48" r="1.5" fill="#9acd32"/>
<text x="659.5999999999999" y="114.98" font-size="4.3" fill="#1a1a1a">Plasma</text>
<circle cx="653.8" cy="120.05000000000001" r="1.5" fill="#4a1f7a"/>
<text x="659.5999999999999" y="121.55000000000001" font-size="4.3" fill="#1a1a1a">pre B</text>
<circle cx="653.8" cy="126.62" r="1.5" fill="#1b9e8e"/>
<text x="659.5999999999999" y="128.12" font-size="4.3" fill="#1a1a1a">pre−mDC</text>
<circle cx="653.8" cy="133.19" r="1.5" fill="#e41a1c"/>
<text x="659.5999999999999" y="134.69" font-size="4.3" fill="#1a1a1a">pre−pDC</text>
<circle cx="653.8" cy="139.76" r="1.5" fill="#1f2f86"/>
<text x="659.5999999999999" y="141.26" font-size="4.3" fill="#1a1a1a">pro B</text>
<circle cx="653.8" cy="146.33" r="1.5" fill="#3b6b2a"/>
<text x="659.5999999999999" y="147.83" font-size="4.3" fill="#1a1a1a">Prog Mk</text>
<circle cx="653.8" cy="152.9" r="1.5" fill="#a6461c"/>
<text x="659.5999999999999" y="154.4" font-size="4.3" fill="#1a1a1a">T Cells</text>
<text x="5.2" y="252.5" font-size="17.5" fill="#111" font-weight="bold">c</text>
<text x="33" y="245.8" font-size="10.9" fill="#222">Number of cells in each cell type</text>
<text x="33" y="258.9" font-size="10.9" fill="#222">(Healthy BM reference)</text>
<rect x="31.6" y="278.2" width="237.4" height="188.8" fill="#fff" stroke="#444" stroke-width="0.6"/>
<rect x="42.1" y="279.10" width="215.70" height="8.2" fill="#595b5a" stroke="#ced0cf" stroke-width="0.9"/>
<text x="254.80349585919635" y="284.8" font-size="4.6" fill="#fff" text-anchor="end">21024</text>
<line x1="30.1" y1="283.20" x2="31.6" y2="283.20" stroke="#444" stroke-width="0.5"/>
<text x="29.1" y="284.9" font-size="4.9" fill="#444" text-anchor="end">T Cells</text>
<rect x="42.1" y="287.64" width="204.73" height="8.2" fill="#595b5a" stroke="#ced0cf" stroke-width="0.9"/>
<text x="243.82855308268373" y="293.34000000000003" font-size="4.6" fill="#fff" text-anchor="end">12670</text>
<line x1="30.1" y1="291.74" x2="31.6" y2="291.74" stroke="#444" stroke-width="0.5"/>
<text x="29.1" y="293.44" font-size="4.9" fill="#444" text-anchor="end">B Cells</text>
<rect x="42.1" y="296.18" width="185.16" height="8.2" fill="#595b5a" stroke="#ced0cf" stroke-width="0.9"/>
<text x="224.2559683518715" y="301.88" font-size="4.6" fill="#fff" text-anchor="end">5135</text>
<line x1="30.1" y1="300.28" x2="31.6" y2="300.28" stroke="#444" stroke-width="0.5"/>
<text x="29.1" y="301.97999999999996" font-size="4.9" fill="#444" text-anchor="end">NK Cells</text>
<rect x="42.1" y="304.72" width="185.21" height="8.2" fill="#595b5a" stroke="#ced0cf" stroke-width="0.9"/>
<text x="224.314972302179" y="310.42" font-size="4.6" fill="#fff" text-anchor="end">5149</text>
<line x1="30.1" y1="308.82" x2="31.6" y2="308.82" stroke="#444" stroke-width="0.5"/>
<text x="29.1" y="310.52" font-size="4.9" fill="#444" text-anchor="end">CD14 Mono</text>
<rect x="42.1" y="313.26" width="177.58" height="8.2" fill="#595b5a" stroke="#ced0cf" stroke-width="0.9"/>
<text x="216.67955766960497" y="318.96000000000004" font-size="4.6" fill="#fff" text-anchor="end">3620</text>
<line x1="30.1" y1="317.36" x2="31.6" y2="317.36" stroke="#444" stroke-width="0.5"/>
<text x="29.1" y="319.06" font-size="4.9" fill="#444" text-anchor="end">Early Eryth</text>
<rect x="42.1" y="321.80" width="176.90" height="8.2" fill="#595b5a" stroke="#ced0cf" stroke-width="0.9"/>
<text x="215.99847327623073" y="327.5" font-size="4.6" fill="#fff" text-anchor="end">3508</text>
<line x1="30.1" y1="325.90" x2="31.6" y2="325.90" stroke="#444" stroke-width="0.5"/>
<text x="29.1" y="327.59999999999997" font-size="4.9" fill="#444" text-anchor="end">GMP</text>
<rect x="42.1" y="330.34" width="175.89" height="8.2" fill="#595b5a" stroke="#ced0cf" stroke-width="0.9"/>
<text x="214.99326586223935" y="336.04" font-size="4.6" fill="#fff" text-anchor="end">3349</text>
<line x1="30.1" y1="334.44" x2="31.6" y2="334.44" stroke="#444" stroke-width="0.5"/>
<text x="29.1" y="336.14" font-size="4.9" fill="#444" text-anchor="end">HSC</text>
<rect x="42.1" y="338.88" width="173.06" height="8.2" fill="#595b5a" stroke="#ced0cf" stroke-width="0.9"/>
<text x="212.16315934502336" y="344.58" font-size="4.6" fill="#fff" text-anchor="end">2939</text>
<line x1="30.1" y1="342.98" x2="31.6" y2="342.98" stroke="#444" stroke-width="0.5"/>
<text x="29.1" y="344.67999999999995" font-size="4.9" fill="#444" text-anchor="end">LMPP</text>
<rect x="42.1" y="347.42" width="172.43" height="8.2" fill="#595b5a" stroke="#ced0cf" stroke-width="0.9"/>
<text x="211.52715304205356" y="353.12" font-size="4.6" fill="#fff" text-anchor="end">2854</text>
<line x1="30.1" y1="351.52" x2="31.6" y2="351.52" stroke="#444" stroke-width="0.5"/>
<text x="29.1" y="353.21999999999997" font-size="4.9" fill="#444" text-anchor="end">Late Eryth</text>
<rect x="42.1" y="355.96" width="157.48" height="8.2" fill="#595b5a" stroke="#ced0cf" stroke-width="0.9"/>
<text x="196.58155659679463" y="361.65999999999997" font-size="4.6" fill="#fff" text-anchor="end">1432</text>
<line x1="30.1" y1="360.06" x2="31.6" y2="360.06" stroke="#444" stroke-width="0.5"/>
<text x="29.1" y="361.75999999999993" font-size="4.9" fill="#444" text-anchor="end">EMP</text>
<rect x="42.1" y="364.50" width="151.47" height="8.2" fill="#595b5a" stroke="#ced0cf" stroke-width="0.9"/>
<text x="190.56794393540895" y="370.2" font-size="4.6" fill="#fff" text-anchor="end">1085</text>
<line x1="30.1" y1="368.60" x2="31.6" y2="368.60" stroke="#444" stroke-width="0.5"/>
<text x="29.1" y="370.29999999999995" font-size="4.9" fill="#444" text-anchor="end">pre−mDC</text>
<rect x="42.1" y="373.04" width="148.68" height="8.2" fill="#595b5a" stroke="#ced0cf" stroke-width="0.9"/>
<text x="187.77946389773433" y="378.74" font-size="4.6" fill="#fff" text-anchor="end">954</text>
<line x1="30.1" y1="377.14" x2="31.6" y2="377.14" stroke="#444" stroke-width="0.5"/>
<text x="29.1" y="378.84" font-size="4.9" fill="#444" text-anchor="end">pre B</text>
<rect x="42.1" y="381.58" width="146.13" height="8.2" fill="#595b5a" stroke="#ced0cf" stroke-width="0.9"/>
<text x="185.22695302761" y="387.28" font-size="4.6" fill="#fff" text-anchor="end">848</text>
<line x1="30.1" y1="385.68" x2="31.6" y2="385.68" stroke="#444" stroke-width="0.5"/>
<text x="29.1" y="387.37999999999994" font-size="4.9" fill="#444" text-anchor="end">CD16 Mono</text>
<rect x="42.1" y="390.12" width="144.73" height="8.2" fill="#595b5a" stroke="#ced0cf" stroke-width="0.9"/>
<text x="183.82831971995788" y="395.82" font-size="4.6" fill="#fff" text-anchor="end">795</text>
<line x1="30.1" y1="394.22" x2="31.6" y2="394.22" stroke="#444" stroke-width="0.5"/>
<text x="29.1" y="395.91999999999996" font-size="4.9" fill="#444" text-anchor="end">pre−pDC</text>
<rect x="42.1" y="398.66" width="141.53" height="8.2" fill="#595b5a" stroke="#ced0cf" stroke-width="0.9"/>
<text x="180.6325733737669" y="404.36" font-size="4.6" fill="#fff" text-anchor="end">686</text>
<line x1="30.1" y1="402.76" x2="31.6" y2="402.76" stroke="#444" stroke-width="0.5"/>
<text x="29.1" y="404.46" font-size="4.9" fill="#444" text-anchor="end">cDC</text>
<rect x="42.1" y="407.20" width="138.16" height="8.2" fill="#595b5a" stroke="#ced0cf" stroke-width="0.9"/>
<text x="177.25504125225595" y="412.9" font-size="4.6" fill="#fff" text-anchor="end">587</text>
<line x1="30.1" y1="411.30" x2="31.6" y2="411.30" stroke="#444" stroke-width="0.5"/>
<text x="29.1" y="412.99999999999994" font-size="4.9" fill="#444" text-anchor="end">Prog Mk</text>
<rect x="42.1" y="415.74" width="136.94" height="8.2" fill="#595b5a" stroke="#ced0cf" stroke-width="0.9"/>
<text x="176.04021985782154" y="421.44" font-size="4.6" fill="#fff" text-anchor="end">555</text>
<line x1="30.1" y1="419.84" x2="31.6" y2="419.84" stroke="#444" stroke-width="0.5"/>
<text x="29.1" y="421.53999999999996" font-size="4.9" fill="#444" text-anchor="end">Plasma</text>
<rect x="42.1" y="424.28" width="133.06" height="8.2" fill="#595b5a" stroke="#ced0cf" stroke-width="0.9"/>
<text x="172.15924722968853" y="429.98" font-size="4.6" fill="#fff" text-anchor="end">464</text>
<line x1="30.1" y1="428.38" x2="31.6" y2="428.38" stroke="#444" stroke-width="0.5"/>
<text x="29.1" y="430.08" font-size="4.9" fill="#444" text-anchor="end">CLP</text>
<rect x="42.1" y="432.82" width="127.86" height="8.2" fill="#595b5a" stroke="#ced0cf" stroke-width="0.9"/>
<text x="166.9584139363781" y="438.52" font-size="4.6" fill="#fff" text-anchor="end">365</text>
<line x1="30.1" y1="436.92" x2="31.6" y2="436.92" stroke="#444" stroke-width="0.5"/>
<text x="29.1" y="438.61999999999995" font-size="4.9" fill="#444" text-anchor="end">pDC</text>
<rect x="42.1" y="441.36" width="126.13" height="8.2" fill="#595b5a" stroke="#ced0cf" stroke-width="0.9"/>
<text x="165.2287320534798" y="447.06" font-size="4.6" fill="#fff" text-anchor="end">337</text>
<line x1="30.1" y1="445.46" x2="31.6" y2="445.46" stroke="#444" stroke-width="0.5"/>
<text x="29.1" y="447.15999999999997" font-size="4.9" fill="#444" text-anchor="end">pro B</text>
<rect x="42.1" y="449.90" width="116.19" height="8.2" fill="#595b5a" stroke="#ced0cf" stroke-width="0.9"/>
<text x="155.28614221159302" y="455.6" font-size="4.6" fill="#fff" text-anchor="end">213</text>
<line x1="30.1" y1="454.00" x2="31.6" y2="454.00" stroke="#444" stroke-width="0.5"/>
<text x="29.1" y="455.7" font-size="4.9" fill="#444" text-anchor="end">ASDC</text>
<rect x="42.1" y="458.44" width="111.68" height="8.2" fill="#595b5a" stroke="#ced0cf" stroke-width="0.9"/>
<text x="150.7785005461269" y="464.14" font-size="4.6" fill="#fff" text-anchor="end">173</text>
<line x1="30.1" y1="462.54" x2="31.6" y2="462.54" stroke="#444" stroke-width="0.5"/>
<text x="29.1" y="464.23999999999995" font-size="4.9" fill="#444" text-anchor="end">BaEoMa</text>
<line x1="42.1" y1="467" x2="42.1" y2="468.5" stroke="#444" stroke-width="0.5"/>
<text x="42.1" y="473.6" font-size="4.8" fill="#444" text-anchor="middle">1</text>
<line x1="92.0" y1="467" x2="92.0" y2="468.5" stroke="#444" stroke-width="0.5"/>
<text x="92.0" y="473.6" font-size="4.8" fill="#444" text-anchor="middle">10</text>
<line x1="141.9" y1="467" x2="141.9" y2="468.5" stroke="#444" stroke-width="0.5"/>
<text x="141.9" y="473.6" font-size="4.8" fill="#444" text-anchor="middle">100</text>
<line x1="191.79999999999998" y1="467" x2="191.79999999999998" y2="468.5" stroke="#444" stroke-width="0.5"/>
<text x="191.79999999999998" y="473.6" font-size="4.8" fill="#444" text-anchor="middle">1000</text>
<line x1="241.7" y1="467" x2="241.7" y2="468.5" stroke="#444" stroke-width="0.5"/>
<text x="241.7" y="473.6" font-size="4.8" fill="#444" text-anchor="middle">10000</text>
<text x="150" y="479.6" font-size="5.8" fill="#222" text-anchor="middle">Number of cells</text>
<text x="372.8" y="252.3" font-size="17.5" fill="#111" font-weight="bold">d</text>
<text x="396.5" y="245.7" font-size="10.5" fill="#222">Deconvolution of in-silico pseudobulks from</text>
<text x="396.5" y="259.1" font-size="10.5" fill="#222">Human Cell Atlas (HCA)</text>
<text x="507" y="275.6" font-size="6.9" fill="#222" text-anchor="middle">Deconvoluted percentages</text>
<rect x="397.10" y="278.10" width="8.85" height="8.85" fill="#85bbdc"/>
<rect x="405.90" y="278.10" width="8.85" height="8.85" fill="#e9f2fa"/>
<rect x="414.70" y="278.10" width="8.85" height="8.85" fill="#e7f0f9"/>
<rect x="423.50" y="278.10" width="8.85" height="8.85" fill="#eef5fb"/>
<rect x="432.30" y="278.10" width="8.85" height="8.85" fill="#d9e7f5"/>
<rect x="441.10" y="278.10" width="8.85" height="8.85" fill="#f0f6fc"/>
<rect x="449.90" y="278.10" width="8.85" height="8.85" fill="#eef5fb"/>
<rect x="458.70" y="278.10" width="8.85" height="8.85" fill="#eef5fb"/>
<rect x="467.50" y="278.10" width="8.85" height="8.85" fill="#dbe9f6"/>
<rect x="476.30" y="278.10" width="8.85" height="8.85" fill="#f0f6fc"/>
<rect x="485.10" y="278.10" width="8.85" height="8.85" fill="#e3eef8"/>
<rect x="493.90" y="278.10" width="8.85" height="8.85" fill="#eef5fb"/>
<rect x="502.70" y="278.10" width="8.85" height="8.85" fill="#e3eef8"/>
<rect x="511.50" y="278.10" width="8.85" height="8.85" fill="#f0f6fc"/>
<rect x="520.30" y="278.10" width="8.85" height="8.85" fill="#eef5fb"/>
<rect x="529.10" y="278.10" width="8.85" height="8.85" fill="#eff5fc"/>
<rect x="537.90" y="278.10" width="8.85" height="8.85" fill="#eef5fb"/>
<rect x="546.70" y="278.10" width="8.85" height="8.85" fill="#f0f6fc"/>
<rect x="555.50" y="278.10" width="8.85" height="8.85" fill="#eef5fb"/>
<rect x="564.30" y="278.10" width="8.85" height="8.85" fill="#e9f2fa"/>
<rect x="573.10" y="278.10" width="8.85" height="8.85" fill="#f0f6fc"/>
<rect x="581.90" y="278.10" width="8.85" height="8.85" fill="#eff5fc"/>
<rect x="397.10" y="286.90" width="8.85" height="8.85" fill="#f0f6fc"/>
<rect x="405.90" y="286.90" width="8.85" height="8.85" fill="#2873ba"/>
<rect x="414.70" y="286.90" width="8.85" height="8.85" fill="#ecf4fb"/>
<rect x="423.50" y="286.90" width="8.85" height="8.85" fill="#eef5fb"/>
<rect x="432.30" y="286.90" width="8.85" height="8.85" fill="#e9f2fa"/>
<rect x="441.10" y="286.90" width="8.85" height="8.85" fill="#eef5fb"/>
<rect x="449.90" y="286.90" width="8.85" height="8.85" fill="#f0f6fc"/>
<rect x="458.70" y="286.90" width="8.85" height="8.85" fill="#f0f6fc"/>
<rect x="467.50" y="286.90" width="8.85" height="8.85" fill="#eaf3fa"/>
<rect x="476.30" y="286.90" width="8.85" height="8.85" fill="#eff5fc"/>
<rect x="485.10" y="286.90" width="8.85" height="8.85" fill="#e3eef8"/>
<rect x="493.90" y="286.90" width="8.85" height="8.85" fill="#eef5fb"/>
<rect x="502.70" y="286.90" width="8.85" height="8.85" fill="#e7f0f9"/>
<rect x="511.50" y="286.90" width="8.85" height="8.85" fill="#eef5fb"/>
<rect x="520.30" y="286.90" width="8.85" height="8.85" fill="#eff5fc"/>
<rect x="529.10" y="286.90" width="8.85" height="8.85" fill="#eff5fc"/>
<rect x="537.90" y="286.90" width="8.85" height="8.85" fill="#e1edf8"/>
<rect x="546.70" y="286.90" width="8.85" height="8.85" fill="#f0f6fc"/>
<rect x="555.50" y="286.90" width="8.85" height="8.85" fill="#f0f6fc"/>
<rect x="564.30" y="286.90" width="8.85" height="8.85" fill="#e5eff9"/>
<rect x="573.10" y="286.90" width="8.85" height="8.85" fill="#f0f6fc"/>
<rect x="581.90" y="286.90" width="8.85" height="8.85" fill="#eef5fb"/>
<rect x="397.10" y="295.70" width="8.85" height="8.85" fill="#eff5fc"/>
<rect x="405.90" y="295.70" width="8.85" height="8.85" fill="#eef5fb"/>
<rect x="414.70" y="295.70" width="8.85" height="8.85" fill="#549dce"/>
<rect x="423.50" y="295.70" width="8.85" height="8.85" fill="#eef5fb"/>
<rect x="432.30" y="295.70" width="8.85" height="8.85" fill="#f0f6fc"/>
<rect x="441.10" y="295.70" width="8.85" height="8.85" fill="#f0f6fc"/>
<rect x="449.90" y="295.70" width="8.85" height="8.85" fill="#f0f6fc"/>
<rect x="458.70" y="295.70" width="8.85" height="8.85" fill="#eef5fb"/>
<rect x="467.50" y="295.70" width="8.85" height="8.85" fill="#e5eff9"/>
<rect x="476.30" y="295.70" width="8.85" height="8.85" fill="#f0f6fc"/>
<rect x="485.10" y="295.70" width="8.85" height="8.85" fill="#deebf7"/>
<rect x="493.90" y="295.70" width="8.85" height="8.85" fill="#ecf4fb"/>
<rect x="502.70" y="295.70" width="8.85" height="8.85" fill="#e3eef8"/>
<rect x="511.50" y="295.70" width="8.85" height="8.85" fill="#f0f6fc"/>
<rect x="520.30" y="295.70" width="8.85" height="8.85" fill="#f0f6fc"/>
<rect x="529.10" y="295.70" width="8.85" height="8.85" fill="#eef5fb"/>
<rect x="537.90" y="295.70" width="8.85" height="8.85" fill="#e9f2fa"/>
<rect x="546.70" y="295.70" width="8.85" height="8.85" fill="#f0f6fc"/>
<rect x="555.50" y="295.70" width="8.85" height="8.85" fill="#eff5fc"/>
<rect x="564.30" y="295.70" width="8.85" height="8.85" fill="#e9f2fa"/>
<rect x="573.10" y="295.70" width="8.85" height="8.85" fill="#eef5fb"/>
<rect x="581.90" y="295.70" width="8.85" height="8.85" fill="#eff5fc"/>
<rect x="397.10" y="304.50" width="8.85" height="8.85" fill="#eff5fc"/>
<rect x="405.90" y="304.50" width="8.85" height="8.85" fill="#eff5fc"/>
<rect x="414.70" y="304.50" width="8.85" height="8.85" fill="#eef5fb"/>
<rect x="423.50" y="304.50" width="8.85" height="8.85" fill="#438dc7"/>
<rect x="432.30" y="304.50" width="8.85" height="8.85" fill="#e5eff9"/>
<rect x="441.10" y="304.50" width="8.85" height="8.85" fill="#eef5fb"/>
<rect x="449.90" y="304.50" width="8.85" height="8.85" fill="#eff5fc"/>
<rect x="458.70" y="304.50" width="8.85" height="8.85" fill="#f0f6fc"/>
<rect x="467.50" y="304.50" width="8.85" height="8.85" fill="#e7f0f9"/>
<rect x="476.30" y="304.50" width="8.85" height="8.85" fill="#f0f6fc"/>
<rect x="485.10" y="304.50" width="8.85" height="8.85" fill="#ecf4fb"/>
<rect x="493.90" y="304.50" width="8.85" height="8.85" fill="#eaf3fa"/>
<rect x="502.70" y="304.50" width="8.85" height="8.85" fill="#d1e3f3"/>
<rect x="511.50" y="304.50" width="8.85" height="8.85" fill="#f0f6fc"/>
<rect x="520.30" y="304.50" width="8.85" height="8.85" fill="#f0f6fc"/>
<rect x="529.10" y="304.50" width="8.85" height="8.85" fill="#e9f2fa"/>
<rect x="537.90" y="304.50" width="8.85" height="8.85" fill="#ecf4fb"/>
<rect x="546.70" y="304.50" width="8.85" height="8.85" fill="#f0f6fc"/>
<rect x="555.50" y="304.50" width="8.85" height="8.85" fill="#eff5fc"/>
<rect x="564.30" y="304.50" width="8.85" height="8.85" fill="#ecf4fb"/>
<rect x="573.10" y="304.50" width="8.85" height="8.85" fill="#f0f6fc"/>
<rect x="581.90" y="304.50" width="8.85" height="8.85" fill="#eef5fb"/>
<rect x="397.10" y="313.30" width="8.85" height="8.85" fill="#f0f6fc"/>
<rect x="405.90" y="313.30" width="8.85" height="8.85" fill="#eff5fc"/>
<rect x="414.70" y="313.30" width="8.85" height="8.85" fill="#f0f6fc"/>
<rect x="423.50" y="313.30" width="8.85" height="8.85" fill="#eff5fc"/>
<rect x="432.30" y="313.30" width="8.85" height="8.85" fill="#1a57a6"/>
<rect x="441.10" y="313.30" width="8.85" height="8.85" fill="#eef5fb"/>
<rect x="449.90" y="313.30" width="8.85" height="8.85" fill="#eff5fc"/>
<rect x="458.70" y="313.30" width="8.85" height="8.85" fill="#eef5fb"/>
<rect x="467.50" y="313.30" width="8.85" height="8.85" fill="#eaf3fa"/>
<rect x="476.30" y="313.30" width="8.85" height="8.85" fill="#f0f6fc"/>
<rect x="485.10" y="313.30" width="8.85" height="8.85" fill="#ecf4fb"/>
<rect x="493.90" y="313.30" width="8.85" height="8.85" fill="#eef5fb"/>
<rect x="502.70" y="313.30" width="8.85" height="8.85" fill="#ecf4fb"/>
<rect x="511.50" y="313.30" width="8.85" height="8.85" fill="#eef5fb"/>
<rect x="520.30" y="313.30" width="8.85" height="8.85" fill="#eff5fc"/>
<rect x="529.10" y="313.30" width="8.85" height="8.85" fill="#eef5fb"/>
<rect x="537.90" y="313.30" width="8.85" height="8.85" fill="#ecf4fb"/>
<rect x="546.70" y="313.30" width="8.85" height="8.85" fill="#f0f6fc"/>
<rect x="555.50" y="313.30" width="8.85" height="8.85" fill="#f0f6fc"/>
<rect x="564.30" y="313.30" width="8.85" height="8.85" fill="#f0f6fc"/>
<rect x="573.10" y="313.30" width="8.85" height="8.85" fill="#f0f6fc"/>
<rect x="581.90" y="313.30" width="8.85" height="8.85" fill="#eef5fb"/>
<rect x="397.10" y="322.10" width="8.85" height="8.85" fill="#f0f6fc"/>
<rect x="405.90" y="322.10" width="8.85" height="8.85" fill="#f0f6fc"/>
<rect x="414.70" y="322.10" width="8.85" height="8.85" fill="#eef5fb"/>
<rect x="423.50" y="322.10" width="8.85" height="8.85" fill="#e7f0f9"/>
<rect x="432.30" y="322.10" width="8.85" height="8.85" fill="#e3eef8"/>
<rect x="441.10" y="322.10" width="8.85" height="8.85" fill="#3782c2"/>
<rect x="449.90" y="322.10" width="8.85" height="8.85" fill="#eef5fb"/>
<rect x="458.70" y="322.10" width="8.85" height="8.85" fill="#eef5fb"/>
<rect x="467.50" y="322.10" width="8.85" height="8.85" fill="#e3eef8"/>
<rect x="476.30" y="322.10" width="8.85" height="8.85" fill="#eef5fb"/>
<rect x="485.10" y="322.10" width="8.85" height="8.85" fill="#ecf4fb"/>
<rect x="493.90" y="322.10" width="8.85" height="8.85" fill="#f0f6fc"/>
<rect x="502.70" y="322.10" width="8.85" height="8.85" fill="#ecf4fb"/>
<rect x="511.50" y="322.10" width="8.85" height="8.85" fill="#f0f6fc"/>
<rect x="520.30" y="322.10" width="8.85" height="8.85" fill="#eef5fb"/>
<rect x="529.10" y="322.10" width="8.85" height="8.85" fill="#ecf4fb"/>
<rect x="537.90" y="322.10" width="8.85" height="8.85" fill="#ecf4fb"/>
<rect x="546.70" y="322.10" width="8.85" height="8.85" fill="#f0f6fc"/>
<rect x="555.50" y="322.10" width="8.85" height="8.85" fill="#f0f6fc"/>
<rect x="564.30" y="322.10" width="8.85" height="8.85" fill="#f0f6fc"/>
<rect x="573.10" y="322.10" width="8.85" height="8.85" fill="#f0f6fc"/>
<rect x="581.90" y="322.10" width="8.85" height="8.85" fill="#eff5fc"/>
<rect x="397.10" y="330.90" width="8.85" height="8.85" fill="#eff5fc"/>
<rect x="405.90" y="330.90" width="8.85" height="8.85" fill="#e5eff9"/>
<rect x="414.70" y="330.90" width="8.85" height="8.85" fill="#eef5fb"/>
<rect x="423.50" y="330.90" width="8.85" height="8.85" fill="#eef5fb"/>
<rect x="432.30" y="330.90" width="8.85" height="8.85" fill="#d1e3f3"/>
<rect x="441.10" y="330.90" width="8.85" height="8.85" fill="#f0f6fc"/>
<rect x="449.90" y="330.90" width="8.85" height="8.85" fill="#6cacd5"/>
<rect x="458.70" y="330.90" width="8.85" height="8.85" fill="#f0f6fc"/>
<rect x="467.50" y="330.90" width="8.85" height="8.85" fill="#e3eef8"/>
<rect x="476.30" y="330.90" width="8.85" height="8.85" fill="#f0f6fc"/>
<rect x="485.10" y="330.90" width="8.85" height="8.85" fill="#eef5fb"/>
<rect x="493.90" y="330.90" width="8.85" height="8.85" fill="#eff5fc"/>
<rect x="502.70" y="330.90" width="8.85" height="8.85" fill="#e5eff9"/>
<rect x="511.50" y="330.90" width="8.85" height="8.85" fill="#f0f6fc"/>
<rect x="520.30" y="330.90" width="8.85" height="8.85" fill="#eaf3fa"/>
<rect x="529.10" y="330.90" width="8.85" height="8.85" fill="#f0f6fc"/>
<rect x="537.90" y="330.90" width="8.85" height="8.85" fill="#f0f6fc"/>
<rect x="546.70" y="330.90" width="8.85" height="8.85" fill="#e3eef8"/>
<rect x="555.50" y="330.90" width="8.85" height="8.85" fill="#eff5fc"/>
<rect x="564.30" y="330.90" width="8.85" height="8.85" fill="#eff5fc"/>
<rect x="573.10" y="330.90" width="8.85" height="8.85" fill="#f0f6fc"/>
<rect x="581.90" y="330.90" width="8.85" height="8.85" fill="#eef5fb"/>
<rect x="397.10" y="339.70" width="8.85" height="8.85" fill="#f0f6fc"/>
<rect x="405.90" y="339.70" width="8.85" height="8.85" fill="#eef5fb"/>
<rect x="414.70" y="339.70" width="8.85" height="8.85" fill="#eef5fb"/>
<rect x="423.50" y="339.70" width="8.85" height="8.85" fill="#eef5fb"/>
<rect x="432.30" y="339.70" width="8.85" height="8.85" fill="#e1edf8"/>
<rect x="441.10" y="339.70" width="8.85" height="8.85" fill="#f0f6fc"/>
<rect x="449.90" y="339.70" width="8.85" height="8.85" fill="#eff5fc"/>
<rect x="458.70" y="339.70" width="8.85" height="8.85" fill="#3f8ac5"/>
<rect x="467.50" y="339.70" width="8.85" height="8.85" fill="#e9f2fa"/>
<rect x="476.30" y="339.70" width="8.85" height="8.85" fill="#eef5fb"/>
<rect x="485.10" y="339.70" width="8.85" height="8.85" fill="#ecf4fb"/>
<rect x="493.90" y="339.70" width="8.85" height="8.85" fill="#e9f2fa"/>
<rect x="502.70" y="339.70" width="8.85" height="8.85" fill="#eef5fb"/>
<rect x="511.50" y="339.70" width="8.85" height="8.85" fill="#f0f6fc"/>
<rect x="520.30" y="339.70" width="8.85" height="8.85" fill="#eef5fb"/>
<rect x="529.10" y="339.70" width="8.85" height="8.85" fill="#f0f6fc"/>
<rect x="537.90" y="339.70" width="8.85" height="8.85" fill="#eaf3fa"/>
<rect x="546.70" y="339.70" width="8.85" height="8.85" fill="#e9f2fa"/>
<rect x="555.50" y="339.70" width="8.85" height="8.85" fill="#eef5fb"/>
<rect x="564.30" y="339.70" width="8.85" height="8.85" fill="#ecf4fb"/>
<rect x="573.10" y="339.70" width="8.85" height="8.85" fill="#f0f6fc"/>
<rect x="581.90" y="339.70" width="8.85" height="8.85" fill="#eef5fb"/>
<rect x="397.10" y="348.50" width="8.85" height="8.85" fill="#f0f6fc"/>
<rect x="405.90" y="348.50" width="8.85" height="8.85" fill="#f0f6fc"/>
<rect x="414.70" y="348.50" width="8.85" height="8.85" fill="#f0f6fc"/>
<rect x="423.50" y="348.50" width="8.85" height="8.85" fill="#f0f6fc"/>
<rect x="432.30" y="348.50" width="8.85" height="8.85" fill="#f0f6fc"/>
<rect x="441.10" y="348.50" width="8.85" height="8.85" fill="#eef5fb"/>
<rect x="449.90" y="348.50" width="8.85" height="8.85" fill="#eef5fb"/>
<rect x="458.70" y="348.50" width="8.85" height="8.85" fill="#f0f6fc"/>
<rect x="467.50" y="348.50" width="8.85" height="8.85" fill="#144c9e"/>
<rect x="476.30" y="348.50" width="8.85" height="8.85" fill="#f0f6fc"/>
<rect x="485.10" y="348.50" width="8.85" height="8.85" fill="#eff5fc"/>
<rect x="493.90" y="348.50" width="8.85" height="8.85" fill="#f0f6fc"/>
<rect x="502.70" y="348.50" width="8.85" height="8.85" fill="#eef5fb"/>
<rect x="511.50" y="348.50" width="8.85" height="8.85" fill="#f0f6fc"/>
<rect x="520.30" y="348.50" width="8.85" height="8.85" fill="#f0f6fc"/>
<rect x="529.10" y="348.50" width="8.85" height="8.85" fill="#f0f6fc"/>
<rect x="537.90" y="348.50" width="8.85" height="8.85" fill="#eef5fb"/>
<rect x="546.70" y="348.50" width="8.85" height="8.85" fill="#f0f6fc"/>
<rect x="555.50" y="348.50" width="8.85" height="8.85" fill="#f0f6fc"/>
<rect x="564.30" y="348.50" width="8.85" height="8.85" fill="#f0f6fc"/>
<rect x="573.10" y="348.50" width="8.85" height="8.85" fill="#f0f6fc"/>
<rect x="581.90" y="348.50" width="8.85" height="8.85" fill="#eff5fc"/>
<rect x="397.10" y="357.30" width="8.85" height="8.85" fill="#eff5fc"/>
<rect x="405.90" y="357.30" width="8.85" height="8.85" fill="#eaf3fa"/>
<rect x="414.70" y="357.30" width="8.85" height="8.85" fill="#eef5fb"/>
<rect x="423.50" y="357.30" width="8.85" height="8.85" fill="#eef5fb"/>
<rect x="432.30" y="357.30" width="8.85" height="8.85" fill="#bcd6ec"/>
<rect x="441.10" y="357.30" width="8.85" height="8.85" fill="#eff5fc"/>
<rect x="449.90" y="357.30" width="8.85" height="8.85" fill="#b3d2e9"/>
<rect x="458.70" y="357.30" width="8.85" height="8.85" fill="#eef5fb"/>
<rect x="467.50" y="357.30" width="8.85" height="8.85" fill="#e5eff9"/>
<rect x="476.30" y="357.30" width="8.85" height="8.85" fill="#d4e4f4"/>
<rect x="485.10" y="357.30" width="8.85" height="8.85" fill="#ecf4fb"/>
<rect x="493.90" y="357.30" width="8.85" height="8.85" fill="#eff5fc"/>
<rect x="502.70" y="357.30" width="8.85" height="8.85" fill="#e5eff9"/>
<rect x="511.50" y="357.30" width="8.85" height="8.85" fill="#eef5fb"/>
<rect x="520.30" y="357.30" width="8.85" height="8.85" fill="#eef5fb"/>
<rect x="529.10" y="357.30" width="8.85" height="8.85" fill="#e1edf8"/>
<rect x="537.90" y="357.30" width="8.85" height="8.85" fill="#eef5fb"/>
<rect x="546.70" y="357.30" width="8.85" height="8.85" fill="#e5eff9"/>
<rect x="555.50" y="357.30" width="8.85" height="8.85" fill="#f0f6fc"/>
<rect x="564.30" y="357.30" width="8.85" height="8.85" fill="#eaf3fa"/>
<rect x="573.10" y="357.30" width="8.85" height="8.85" fill="#eef5fb"/>
<rect x="581.90" y="357.30" width="8.85" height="8.85" fill="#eef5fb"/>
<rect x="397.10" y="366.10" width="8.85" height="8.85" fill="#eef5fb"/>
<rect x="405.90" y="366.10" width="8.85" height="8.85" fill="#f0f6fc"/>
<rect x="414.70" y="366.10" width="8.85" height="8.85" fill="#eff5fc"/>
<rect x="423.50" y="366.10" width="8.85" height="8.85" fill="#eef5fb"/>
<rect x="432.30" y="366.10" width="8.85" height="8.85" fill="#eef5fb"/>
<rect x="441.10" y="366.10" width="8.85" height="8.85" fill="#f0f6fc"/>
<rect x="449.90" y="366.10" width="8.85" height="8.85" fill="#f0f6fc"/>
<rect x="458.70" y="366.10" width="8.85" height="8.85" fill="#eff5fc"/>
<rect x="467.50" y="366.10" width="8.85" height="8.85" fill="#eaf3fa"/>
<rect x="476.30" y="366.10" width="8.85" height="8.85" fill="#eef5fb"/>
<rect x="485.10" y="366.10" width="8.85" height="8.85" fill="#2368b2"/>
<rect x="493.90" y="366.10" width="8.85" height="8.85" fill="#eef5fb"/>
<rect x="502.70" y="366.10" width="8.85" height="8.85" fill="#e7f0f9"/>
<rect x="511.50" y="366.10" width="8.85" height="8.85" fill="#f0f6fc"/>
<rect x="520.30" y="366.10" width="8.85" height="8.85" fill="#eef5fb"/>
<rect x="529.10" y="366.10" width="8.85" height="8.85" fill="#f0f6fc"/>
<rect x="537.90" y="366.10" width="8.85" height="8.85" fill="#ecf4fb"/>
<rect x="546.70" y="366.10" width="8.85" height="8.85" fill="#eef5fb"/>
<rect x="555.50" y="366.10" width="8.85" height="8.85" fill="#f0f6fc"/>
<rect x="564.30" y="366.10" width="8.85" height="8.85" fill="#f0f6fc"/>
<rect x="573.10" y="366.10" width="8.85" height="8.85" fill="#eff5fc"/>
<rect x="581.90" y="366.10" width="8.85" height="8.85" fill="#eef5fb"/>
<rect x="397.10" y="374.90" width="8.85" height="8.85" fill="#f0f6fc"/>
<rect x="405.90" y="374.90" width="8.85" height="8.85" fill="#f0f6fc"/>
<rect x="414.70" y="374.90" width="8.85" height="8.85" fill="#eef5fb"/>
<rect x="423.50" y="374.90" width="8.85" height="8.85" fill="#eef5fb"/>
<rect x="432.30" y="374.90" width="8.85" height="8.85" fill="#eff5fc"/>
<rect x="441.10" y="374.90" width="8.85" height="8.85" fill="#eef5fb"/>
<rect x="449.90" y="374.90" width="8.85" height="8.85" fill="#eef5fb"/>
<rect x="458.70" y="374.90" width="8.85" height="8.85" fill="#f0f6fc"/>
<rect x="467.50" y="374.90" width="8.85" height="8.85" fill="#ecf4fb"/>
<rect x="476.30" y="374.90" width="8.85" height="8.85" fill="#f0f6fc"/>
<rect x="485.10" y="374.90" width="8.85" height="8.85" fill="#ecf4fb"/>
<rect x="493.90" y="374.90" width="8.85" height="8.85" fill="#2b77bc"/>
<rect x="502.70" y="374.90" width="8.85" height="8.85" fill="#eef5fb"/>
<rect x="511.50" y="374.90" width="8.85" height="8.85" fill="#eef5fb"/>
<rect x="520.30" y="374.90" width="8.85" height="8.85" fill="#ecf4fb"/>
<rect x="529.10" y="374.90" width="8.85" height="8.85" fill="#e7f0f9"/>
<rect x="537.90" y="374.90" width="8.85" height="8.85" fill="#eaf3fa"/>
<rect x="546.70" y="374.90" width="8.85" height="8.85" fill="#f0f6fc"/>
<rect x="555.50" y="374.90" width="8.85" height="8.85" fill="#eff5fc"/>
<rect x="564.30" y="374.90" width="8.85" height="8.85" fill="#eef5fb"/>
<rect x="573.10" y="374.90" width="8.85" height="8.85" fill="#f0f6fc"/>
<rect x="581.90" y="374.90" width="8.85" height="8.85" fill="#f0f6fc"/>
<rect x="397.10" y="383.70" width="8.85" height="8.85" fill="#eef5fb"/>
<rect x="405.90" y="383.70" width="8.85" height="8.85" fill="#f0f6fc"/>
<rect x="414.70" y="383.70" width="8.85" height="8.85" fill="#eef5fb"/>
<rect x="423.50" y="383.70" width="8.85" height="8.85" fill="#eef5fb"/>
<rect x="432.30" y="383.70" width="8.85" height="8.85" fill="#eaf3fa"/>
<rect x="441.10" y="383.70" width="8.85" height="8.85" fill="#eff5fc"/>
<rect x="449.90" y="383.70" width="8.85" height="8.85" fill="#f0f6fc"/>
<rect x="458.70" y="383.70" width="8.85" height="8.85" fill="#eef5fb"/>
<rect x="467.50" y="383.70" width="8.85" height="8.85" fill="#e9f2fa"/>
<rect x="476.30" y="383.70" width="8.85" height="8.85" fill="#f0f6fc"/>
<rect x="485.10" y="383.70" width="8.85" height="8.85" fill="#e7f0f9"/>
<rect x="493.90" y="383.70" width="8.85" height="8.85" fill="#eef5fb"/>
<rect x="502.70" y="383.70" width="8.85" height="8.85" fill="#3984c2"/>
<rect x="511.50" y="383.70" width="8.85" height="8.85" fill="#f0f6fc"/>
<rect x="520.30" y="383.70" width="8.85" height="8.85" fill="#ecf4fb"/>
<rect x="529.10" y="383.70" width="8.85" height="8.85" fill="#ecf4fb"/>
<rect x="537.90" y="383.70" width="8.85" height="8.85" fill="#ecf4fb"/>
<rect x="546.70" y="383.70" width="8.85" height="8.85" fill="#f0f6fc"/>
<rect x="555.50" y="383.70" width="8.85" height="8.85" fill="#f0f6fc"/>
<rect x="564.30" y="383.70" width="8.85" height="8.85" fill="#ecf4fb"/>
<rect x="573.10" y="383.70" width="8.85" height="8.85" fill="#eff5fc"/>
<rect x="581.90" y="383.70" width="8.85" height="8.85" fill="#eef5fb"/>
<rect x="397.10" y="392.50" width="8.85" height="8.85" fill="#f0f6fc"/>
<rect x="405.90" y="392.50" width="8.85" height="8.85" fill="#eef5fb"/>
<rect x="414.70" y="392.50" width="8.85" height="8.85" fill="#eef5fb"/>
<rect x="423.50" y="392.50" width="8.85" height="8.85" fill="#eef5fb"/>
<rect x="432.30" y="392.50" width="8.85" height="8.85" fill="#f0f6fc"/>
<rect x="441.10" y="392.50" width="8.85" height="8.85" fill="#f0f6fc"/>
<rect x="449.90" y="392.50" width="8.85" height="8.85" fill="#f0f6fc"/>
<rect x="458.70" y="392.50" width="8.85" height="8.85" fill="#f0f6fc"/>
<rect x="467.50" y="392.50" width="8.85" height="8.85" fill="#e9f2fa"/>
<rect x="476.30" y="392.50" width="8.85" height="8.85" fill="#f0f6fc"/>
<rect x="485.10" y="392.50" width="8.85" height="8.85" fill="#d6e6f4"/>
<rect x="493.90" y="392.50" width="8.85" height="8.85" fill="#e3eef8"/>
<rect x="502.70" y="392.50" width="8.85" height="8.85" fill="#e1edf8"/>
<rect x="511.50" y="392.50" width="8.85" height="8.85" fill="#4e97cb"/>
<rect x="520.30" y="392.50" width="8.85" height="8.85" fill="#f0f6fc"/>
<rect x="529.10" y="392.50" width="8.85" height="8.85" fill="#e9f2fa"/>
<rect x="537.90" y="392.50" width="8.85" height="8.85" fill="#ecf4fb"/>
<rect x="546.70" y="392.50" width="8.85" height="8.85" fill="#eef5fb"/>
<rect x="555.50" y="392.50" width="8.85" height="8.85" fill="#f0f6fc"/>
<rect x="564.30" y="392.50" width="8.85" height="8.85" fill="#ecf4fb"/>
<rect x="573.10" y="392.50" width="8.85" height="8.85" fill="#f0f6fc"/>
<rect x="581.90" y="392.50" width="8.85" height="8.85" fill="#eff5fc"/>
<rect x="397.10" y="401.30" width="8.85" height="8.85" fill="#f0f6fc"/>
<rect x="405.90" y="401.30" width="8.85" height="8.85" fill="#f0f6fc"/>
<rect x="414.70" y="401.30" width="8.85" height="8.85" fill="#eef5fb"/>
<rect x="423.50" y="401.30" width="8.85" height="8.85" fill="#f0f6fc"/>
<rect x="432.30" y="401.30" width="8.85" height="8.85" fill="#f0f6fc"/>
<rect x="441.10" y="401.30" width="8.85" height="8.85" fill="#eef5fb"/>
<rect x="449.90" y="401.30" width="8.85" height="8.85" fill="#f0f6fc"/>
<rect x="458.70" y="401.30" width="8.85" height="8.85" fill="#f0f6fc"/>
<rect x="467.50" y="401.30" width="8.85" height="8.85" fill="#e9f2fa"/>
<rect x="476.30" y="401.30" width="8.85" height="8.85" fill="#f0f6fc"/>
<rect x="485.10" y="401.30" width="8.85" height="8.85" fill="#e7f0f9"/>
<rect x="493.90" y="401.30" width="8.85" height="8.85" fill="#eef5fb"/>
<rect x="502.70" y="401.30" width="8.85" height="8.85" fill="#cfe1f2"/>
<rect x="511.50" y="401.30" width="8.85" height="8.85" fill="#f0f6fc"/>
<rect x="520.30" y="401.30" width="8.85" height="8.85" fill="#5aa0cf"/>
<rect x="529.10" y="401.30" width="8.85" height="8.85" fill="#eef5fb"/>
<rect x="537.90" y="401.30" width="8.85" height="8.85" fill="#eef5fb"/>
<rect x="546.70" y="401.30" width="8.85" height="8.85" fill="#f0f6fc"/>
<rect x="555.50" y="401.30" width="8.85" height="8.85" fill="#eff5fc"/>
<rect x="564.30" y="401.30" width="8.85" height="8.85" fill="#eef5fb"/>
<rect x="573.10" y="401.30" width="8.85" height="8.85" fill="#f0f6fc"/>
<rect x="581.90" y="401.30" width="8.85" height="8.85" fill="#eef5fb"/>
<rect x="397.10" y="410.10" width="8.85" height="8.85" fill="#f0f6fc"/>
<rect x="405.90" y="410.10" width="8.85" height="8.85" fill="#eef5fb"/>
<rect x="414.70" y="410.10" width="8.85" height="8.85" fill="#f0f6fc"/>
<rect x="423.50" y="410.10" width="8.85" height="8.85" fill="#f0f6fc"/>
<rect x="432.30" y="410.10" width="8.85" height="8.85" fill="#f0f6fc"/>
<rect x="441.10" y="410.10" width="8.85" height="8.85" fill="#eff5fc"/>
<rect x="449.90" y="410.10" width="8.85" height="8.85" fill="#f0f6fc"/>
<rect x="458.70" y="410.10" width="8.85" height="8.85" fill="#f0f6fc"/>
<rect x="467.50" y="410.10" width="8.85" height="8.85" fill="#eef5fb"/>
<rect x="476.30" y="410.10" width="8.85" height="8.85" fill="#f0f6fc"/>
<rect x="485.10" y="410.10" width="8.85" height="8.85" fill="#eef5fb"/>
<rect x="493.90" y="410.10" width="8.85" height="8.85" fill="#eef5fb"/>
<rect x="502.70" y="410.10" width="8.85" height="8.85" fill="#eef5fb"/>
<rect x="511.50" y="410.10" width="8.85" height="8.85" fill="#f0f6fc"/>
<rect x="520.30" y="410.10" width="8.85" height="8.85" fill="#eef5fb"/>
<rect x="529.10" y="410.10" width="8.85" height="8.85" fill="#1d5daa"/>
<rect x="537.90" y="410.10" width="8.85" height="8.85" fill="#eff5fc"/>
<rect x="546.70" y="410.10" width="8.85" height="8.85" fill="#f0f6fc"/>
<rect x="555.50" y="410.10" width="8.85" height="8.85" fill="#f0f6fc"/>
<rect x="564.30" y="410.10" width="8.85" height="8.85" fill="#f0f6fc"/>
<rect x="573.10" y="410.10" width="8.85" height="8.85" fill="#f0f6fc"/>
<rect x="581.90" y="410.10" width="8.85" height="8.85" fill="#eef5fb"/>
<rect x="397.10" y="418.90" width="8.85" height="8.85" fill="#f0f6fc"/>
<rect x="405.90" y="418.90" width="8.85" height="8.85" fill="#f0f6fc"/>
<rect x="414.70" y="418.90" width="8.85" height="8.85" fill="#eef5fb"/>
<rect x="423.50" y="418.90" width="8.85" height="8.85" fill="#f0f6fc"/>
<rect x="432.30" y="418.90" width="8.85" height="8.85" fill="#f0f6fc"/>
<rect x="441.10" y="418.90" width="8.85" height="8.85" fill="#f0f6fc"/>
<rect x="449.90" y="418.90" width="8.85" height="8.85" fill="#f0f6fc"/>
<rect x="458.70" y="418.90" width="8.85" height="8.85" fill="#eef5fb"/>
<rect x="467.50" y="418.90" width="8.85" height="8.85" fill="#ecf4fb"/>
<rect x="476.30" y="418.90" width="8.85" height="8.85" fill="#f0f6fc"/>
<rect x="485.10" y="418.90" width="8.85" height="8.85" fill="#e9f2fa"/>
<rect x="493.90" y="418.90" width="8.85" height="8.85" fill="#ecf4fb"/>
<rect x="502.70" y="418.90" width="8.85" height="8.85" fill="#ecf4fb"/>
<rect x="511.50" y="418.90" width="8.85" height="8.85" fill="#eef5fb"/>
<rect x="520.30" y="418.90" width="8.85" height="8.85" fill="#f0f6fc"/>
<rect x="529.10" y="418.90" width="8.85" height="8.85" fill="#ecf4fb"/>
<rect x="537.90" y="418.90" width="8.85" height="8.85" fill="#1a57a6"/>
<rect x="546.70" y="418.90" width="8.85" height="8.85" fill="#eff5fc"/>
<rect x="555.50" y="418.90" width="8.85" height="8.85" fill="#f0f6fc"/>
<rect x="564.30" y="418.90" width="8.85" height="8.85" fill="#eef5fb"/>
<rect x="573.10" y="418.90" width="8.85" height="8.85" fill="#f0f6fc"/>
<rect x="581.90" y="418.90" width="8.85" height="8.85" fill="#eff5fc"/>
<rect x="397.10" y="427.70" width="8.85" height="8.85" fill="#f0f6fc"/>
<rect x="405.90" y="427.70" width="8.85" height="8.85" fill="#eff5fc"/>
<rect x="414.70" y="427.70" width="8.85" height="8.85" fill="#ecf4fb"/>
<rect x="423.50" y="427.70" width="8.85" height="8.85" fill="#eef5fb"/>
<rect x="432.30" y="427.70" width="8.85" height="8.85" fill="#eaf3fa"/>
<rect x="441.10" y="427.70" width="8.85" height="8.85" fill="#f0f6fc"/>
<rect x="449.90" y="427.70" width="8.85" height="8.85" fill="#eff5fc"/>
<rect x="458.70" y="427.70" width="8.85" height="8.85" fill="#eef5fb"/>
<rect x="467.50" y="427.70" width="8.85" height="8.85" fill="#ecf4fb"/>
<rect x="476.30" y="427.70" width="8.85" height="8.85" fill="#eff5fc"/>
<rect x="485.10" y="427.70" width="8.85" height="8.85" fill="#ecf4fb"/>
<rect x="493.90" y="427.70" width="8.85" height="8.85" fill="#f0f6fc"/>
<rect x="502.70" y="427.70" width="8.85" height="8.85" fill="#e7f0f9"/>
<rect x="511.50" y="427.70" width="8.85" height="8.85" fill="#e5eff9"/>
<rect x="520.30" y="427.70" width="8.85" height="8.85" fill="#eff5fc"/>
<rect x="529.10" y="427.70" width="8.85" height="8.85" fill="#f0f6fc"/>
<rect x="537.90" y="427.70" width="8.85" height="8.85" fill="#e7f0f9"/>
<rect x="546.70" y="427.70" width="8.85" height="8.85" fill="#76b1d7"/>
<rect x="555.50" y="427.70" width="8.85" height="8.85" fill="#f0f6fc"/>
<rect x="564.30" y="427.70" width="8.85" height="8.85" fill="#b3d2e9"/>
<rect x="573.10" y="427.70" width="8.85" height="8.85" fill="#f0f6fc"/>
<rect x="581.90" y="427.70" width="8.85" height="8.85" fill="#ecf4fb"/>
<rect x="397.10" y="436.50" width="8.85" height="8.85" fill="#eff5fc"/>
<rect x="405.90" y="436.50" width="8.85" height="8.85" fill="#eaf3fa"/>
<rect x="414.70" y="436.50" width="8.85" height="8.85" fill="#eef5fb"/>
<rect x="423.50" y="436.50" width="8.85" height="8.85" fill="#eef5fb"/>
<rect x="432.30" y="436.50" width="8.85" height="8.85" fill="#eef5fb"/>
<rect x="441.10" y="436.50" width="8.85" height="8.85" fill="#eff5fc"/>
<rect x="449.90" y="436.50" width="8.85" height="8.85" fill="#eef5fb"/>
<rect x="458.70" y="436.50" width="8.85" height="8.85" fill="#f0f6fc"/>
<rect x="467.50" y="436.50" width="8.85" height="8.85" fill="#e3eef8"/>
<rect x="476.30" y="436.50" width="8.85" height="8.85" fill="#f0f6fc"/>
<rect x="485.10" y="436.50" width="8.85" height="8.85" fill="#e7f0f9"/>
<rect x="493.90" y="436.50" width="8.85" height="8.85" fill="#eff5fc"/>
<rect x="502.70" y="436.50" width="8.85" height="8.85" fill="#d6e6f4"/>
<rect x="511.50" y="436.50" width="8.85" height="8.85" fill="#deebf7"/>
<rect x="520.30" y="436.50" width="8.85" height="8.85" fill="#e1edf8"/>
<rect x="529.10" y="436.50" width="8.85" height="8.85" fill="#e7f0f9"/>
<rect x="537.90" y="436.50" width="8.85" height="8.85" fill="#deebf7"/>
<rect x="546.70" y="436.50" width="8.85" height="8.85" fill="#eef5fb"/>
<rect x="555.50" y="436.50" width="8.85" height="8.85" fill="#90c2df"/>
<rect x="564.30" y="436.50" width="8.85" height="8.85" fill="#eaf3fa"/>
<rect x="573.10" y="436.50" width="8.85" height="8.85" fill="#f0f6fc"/>
<rect x="581.90" y="436.50" width="8.85" height="8.85" fill="#eef5fb"/>
<rect x="397.10" y="445.30" width="8.85" height="8.85" fill="#eef5fb"/>
<rect x="405.90" y="445.30" width="8.85" height="8.85" fill="#f0f6fc"/>
<rect x="414.70" y="445.30" width="8.85" height="8.85" fill="#eef5fb"/>
<rect x="423.50" y="445.30" width="8.85" height="8.85" fill="#eef5fb"/>
<rect x="432.30" y="445.30" width="8.85" height="8.85" fill="#f0f6fc"/>
<rect x="441.10" y="445.30" width="8.85" height="8.85" fill="#f0f6fc"/>
<rect x="449.90" y="445.30" width="8.85" height="8.85" fill="#eef5fb"/>
<rect x="458.70" y="445.30" width="8.85" height="8.85" fill="#f0f6fc"/>
<rect x="467.50" y="445.30" width="8.85" height="8.85" fill="#e9f2fa"/>
<rect x="476.30" y="445.30" width="8.85" height="8.85" fill="#f0f6fc"/>
<rect x="485.10" y="445.30" width="8.85" height="8.85" fill="#eef5fb"/>
<rect x="493.90" y="445.30" width="8.85" height="8.85" fill="#e1edf8"/>
<rect x="502.70" y="445.30" width="8.85" height="8.85" fill="#eaf3fa"/>
<rect x="511.50" y="445.30" width="8.85" height="8.85" fill="#f0f6fc"/>
<rect x="520.30" y="445.30" width="8.85" height="8.85" fill="#e9f2fa"/>
<rect x="529.10" y="445.30" width="8.85" height="8.85" fill="#eef5fb"/>
<rect x="537.90" y="445.30" width="8.85" height="8.85" fill="#e9f2fa"/>
<rect x="546.70" y="445.30" width="8.85" height="8.85" fill="#f0f6fc"/>
<rect x="555.50" y="445.30" width="8.85" height="8.85" fill="#f0f6fc"/>
<rect x="564.30" y="445.30" width="8.85" height="8.85" fill="#2b77bc"/>
<rect x="573.10" y="445.30" width="8.85" height="8.85" fill="#eef5fb"/>
<rect x="581.90" y="445.30" width="8.85" height="8.85" fill="#eef5fb"/>
<rect x="397.10" y="454.10" width="8.85" height="8.85" fill="#eef5fb"/>
<rect x="405.90" y="454.10" width="8.85" height="8.85" fill="#f0f6fc"/>
<rect x="414.70" y="454.10" width="8.85" height="8.85" fill="#eef5fb"/>
<rect x="423.50" y="454.10" width="8.85" height="8.85" fill="#eff5fc"/>
<rect x="432.30" y="454.10" width="8.85" height="8.85" fill="#eef5fb"/>
<rect x="441.10" y="454.10" width="8.85" height="8.85" fill="#f0f6fc"/>
<rect x="449.90" y="454.10" width="8.85" height="8.85" fill="#f0f6fc"/>
<rect x="458.70" y="454.10" width="8.85" height="8.85" fill="#eff5fc"/>
<rect x="467.50" y="454.10" width="8.85" height="8.85" fill="#e5eff9"/>
<rect x="476.30" y="454.10" width="8.85" height="8.85" fill="#f0f6fc"/>
<rect x="485.10" y="454.10" width="8.85" height="8.85" fill="#b6d4ea"/>
<rect x="493.90" y="454.10" width="8.85" height="8.85" fill="#ecf4fb"/>
<rect x="502.70" y="454.10" width="8.85" height="8.85" fill="#deebf7"/>
<rect x="511.50" y="454.10" width="8.85" height="8.85" fill="#f0f6fc"/>
<rect x="520.30" y="454.10" width="8.85" height="8.85" fill="#cfe1f2"/>
<rect x="529.10" y="454.10" width="8.85" height="8.85" fill="#eef5fb"/>
<rect x="537.90" y="454.10" width="8.85" height="8.85" fill="#eef5fb"/>
<rect x="546.70" y="454.10" width="8.85" height="8.85" fill="#f0f6fc"/>
<rect x="555.50" y="454.10" width="8.85" height="8.85" fill="#f0f6fc"/>
<rect x="564.30" y="454.10" width="8.85" height="8.85" fill="#f0f6fc"/>
<rect x="573.10" y="454.10" width="8.85" height="8.85" fill="#8ec0de"/>
<rect x="581.90" y="454.10" width="8.85" height="8.85" fill="#eef5fb"/>
<rect x="397.10" y="462.90" width="8.85" height="8.85" fill="#eef5fb"/>
<rect x="405.90" y="462.90" width="8.85" height="8.85" fill="#eef5fb"/>
<rect x="414.70" y="462.90" width="8.85" height="8.85" fill="#eff5fc"/>
<rect x="423.50" y="462.90" width="8.85" height="8.85" fill="#f0f6fc"/>
<rect x="432.30" y="462.90" width="8.85" height="8.85" fill="#d9e7f5"/>
<rect x="441.10" y="462.90" width="8.85" height="8.85" fill="#eef5fb"/>
<rect x="449.90" y="462.90" width="8.85" height="8.85" fill="#f0f6fc"/>
<rect x="458.70" y="462.90" width="8.85" height="8.85" fill="#f0f6fc"/>
<rect x="467.50" y="462.90" width="8.85" height="8.85" fill="#e7f0f9"/>
<rect x="476.30" y="462.90" width="8.85" height="8.85" fill="#f0f6fc"/>
<rect x="485.10" y="462.90" width="8.85" height="8.85" fill="#e3eef8"/>
<rect x="493.90" y="462.90" width="8.85" height="8.85" fill="#ecf4fb"/>
<rect x="502.70" y="462.90" width="8.85" height="8.85" fill="#e7f0f9"/>
<rect x="511.50" y="462.90" width="8.85" height="8.85" fill="#f0f6fc"/>
<rect x="520.30" y="462.90" width="8.85" height="8.85" fill="#eef5fb"/>
<rect x="529.10" y="462.90" width="8.85" height="8.85" fill="#cadef0"/>
<rect x="537.90" y="462.90" width="8.85" height="8.85" fill="#ecf4fb"/>
<rect x="546.70" y="462.90" width="8.85" height="8.85" fill="#eff5fc"/>
<rect x="555.50" y="462.90" width="8.85" height="8.85" fill="#f0f6fc"/>
<rect x="564.30" y="462.90" width="8.85" height="8.85" fill="#eef5fb"/>
<rect x="573.10" y="462.90" width="8.85" height="8.85" fill="#f0f6fc"/>
<rect x="581.90" y="462.90" width="8.85" height="8.85" fill="#438dc7"/>
<text x="401.5" y="283.5" font-size="3.3" fill="#555" text-anchor="middle">0.42</text>
<text x="410.3" y="283.5" font-size="3.3" fill="#555" text-anchor="middle">0.04</text>
<text x="419.1" y="283.5" font-size="3.3" fill="#555" text-anchor="middle">0.05</text>
<text x="427.9" y="283.5" font-size="3.3" fill="#555" text-anchor="middle">0.01</text>
<text x="436.7" y="283.5" font-size="3.3" fill="#555" text-anchor="middle">0.12</text>
<text x="445.5" y="283.5" font-size="3.3" fill="#555" text-anchor="middle">0.00</text>
<text x="454.3" y="283.5" font-size="3.3" fill="#555" text-anchor="middle">0.00</text>
<text x="463.1" y="283.5" font-size="3.3" fill="#555" text-anchor="middle">0.00</text>
<text x="471.9" y="283.5" font-size="3.3" fill="#555" text-anchor="middle">0.11</text>
<text x="480.7" y="283.5" font-size="3.3" fill="#555" text-anchor="middle">0.00</text>
<text x="489.5" y="283.5" font-size="3.3" fill="#555" text-anchor="middle">0.07</text>
<text x="498.3" y="283.5" font-size="3.3" fill="#555" text-anchor="middle">0.01</text>
<text x="507.1" y="283.5" font-size="3.3" fill="#555" text-anchor="middle">0.07</text>
<text x="515.9" y="283.5" font-size="3.3" fill="#555" text-anchor="middle">0.00</text>
<text x="524.7" y="283.5" font-size="3.3" fill="#555" text-anchor="middle">0.00</text>
<text x="533.5" y="283.5" font-size="3.3" fill="#555" text-anchor="middle">0.00</text>
<text x="542.3" y="283.5" font-size="3.3" fill="#555" text-anchor="middle">0.00</text>
<text x="551.1" y="283.5" font-size="3.3" fill="#555" text-anchor="middle">0.00</text>
<text x="559.9" y="283.5" font-size="3.3" fill="#555" text-anchor="middle">0.00</text>
<text x="568.7" y="283.5" font-size="3.3" fill="#555" text-anchor="middle">0.04</text>
<text x="577.5" y="283.5" font-size="3.3" fill="#555" text-anchor="middle">0.00</text>
<text x="586.3" y="283.5" font-size="3.3" fill="#555" text-anchor="middle">0.00</text>
<text x="401.5" y="292.3" font-size="3.3" fill="#555" text-anchor="middle">0.00</text>
<text x="410.3" y="292.3" font-size="3.3" fill="#334" text-anchor="middle">0.80</text>
<text x="419.1" y="292.3" font-size="3.3" fill="#555" text-anchor="middle">0.02</text>
<text x="427.9" y="292.3" font-size="3.3" fill="#555" text-anchor="middle">0.01</text>
<text x="436.7" y="292.3" font-size="3.3" fill="#555" text-anchor="middle">0.04</text>
<text x="445.5" y="292.3" font-size="3.3" fill="#555" text-anchor="middle">0.00</text>
<text x="454.3" y="292.3" font-size="3.3" fill="#555" text-anchor="middle">0.00</text>
<text x="463.1" y="292.3" font-size="3.3" fill="#555" text-anchor="middle">0.00</text>
<text x="471.9" y="292.3" font-size="3.3" fill="#555" text-anchor="middle">0.03</text>
<text x="480.7" y="292.3" font-size="3.3" fill="#555" text-anchor="middle">0.00</text>
<text x="489.5" y="292.3" font-size="3.3" fill="#555" text-anchor="middle">0.07</text>
<text x="498.3" y="292.3" font-size="3.3" fill="#555" text-anchor="middle">0.00</text>
<text x="507.1" y="292.3" font-size="3.3" fill="#555" text-anchor="middle">0.05</text>
<text x="515.9" y="292.3" font-size="3.3" fill="#555" text-anchor="middle">0.00</text>
<text x="524.7" y="292.3" font-size="3.3" fill="#555" text-anchor="middle">0.00</text>
<text x="533.5" y="292.3" font-size="3.3" fill="#555" text-anchor="middle">0.00</text>
<text x="542.3" y="292.3" font-size="3.3" fill="#555" text-anchor="middle">0.08</text>
<text x="551.1" y="292.3" font-size="3.3" fill="#555" text-anchor="middle">0.00</text>
<text x="559.9" y="292.3" font-size="3.3" fill="#555" text-anchor="middle">0.00</text>
<text x="568.7" y="292.3" font-size="3.3" fill="#555" text-anchor="middle">0.06</text>
<text x="577.5" y="292.3" font-size="3.3" fill="#555" text-anchor="middle">0.00</text>
<text x="586.3" y="292.3" font-size="3.3" fill="#555" text-anchor="middle">0.00</text>
<text x="401.5" y="301.1" font-size="3.3" fill="#555" text-anchor="middle">0.00</text>
<text x="410.3" y="301.1" font-size="3.3" fill="#555" text-anchor="middle">0.01</text>
<text x="419.1" y="301.1" font-size="3.3" fill="#555" text-anchor="middle">0.58</text>
<text x="427.9" y="301.1" font-size="3.3" fill="#555" text-anchor="middle">0.01</text>
<text x="436.7" y="301.1" font-size="3.3" fill="#555" text-anchor="middle">0.00</text>
<text x="445.5" y="301.1" font-size="3.3" fill="#555" text-anchor="middle">0.00</text>
<text x="454.3" y="301.1" font-size="3.3" fill="#555" text-anchor="middle">0.00</text>
<text x="463.1" y="301.1" font-size="3.3" fill="#555" text-anchor="middle">0.00</text>
<text x="471.9" y="301.1" font-size="3.3" fill="#555" text-anchor="middle">0.06</text>
<text x="480.7" y="301.1" font-size="3.3" fill="#555" text-anchor="middle">0.00</text>
<text x="489.5" y="301.1" font-size="3.3" fill="#555" text-anchor="middle">0.10</text>
<text x="498.3" y="301.1" font-size="3.3" fill="#555" text-anchor="middle">0.02</text>
<text x="507.1" y="301.1" font-size="3.3" fill="#555" text-anchor="middle">0.07</text>
<text x="515.9" y="301.1" font-size="3.3" fill="#555" text-anchor="middle">0.00</text>
<text x="524.7" y="301.1" font-size="3.3" fill="#555" text-anchor="middle">0.00</text>
<text x="533.5" y="301.1" font-size="3.3" fill="#555" text-anchor="middle">0.01</text>
<text x="542.3" y="301.1" font-size="3.3" fill="#555" text-anchor="middle">0.04</text>
<text x="551.1" y="301.1" font-size="3.3" fill="#555" text-anchor="middle">0.00</text>
<text x="559.9" y="301.1" font-size="3.3" fill="#555" text-anchor="middle">0.00</text>
<text x="568.7" y="301.1" font-size="3.3" fill="#555" text-anchor="middle">0.04</text>
<text x="577.5" y="301.1" font-size="3.3" fill="#555" text-anchor="middle">0.00</text>
<text x="586.3" y="301.1" font-size="3.3" fill="#555" text-anchor="middle">0.00</text>
<text x="401.5" y="309.9" font-size="3.3" fill="#555" text-anchor="middle">0.00</text>
<text x="410.3" y="309.9" font-size="3.3" fill="#555" text-anchor="middle">0.00</text>
<text x="419.1" y="309.9" font-size="3.3" fill="#555" text-anchor="middle">0.01</text>
<text x="427.9" y="309.9" font-size="3.3" fill="#334" text-anchor="middle">0.66</text>
<text x="436.7" y="309.9" font-size="3.3" fill="#555" text-anchor="middle">0.06</text>
<text x="445.5" y="309.9" font-size="3.3" fill="#555" text-anchor="middle">0.00</text>
<text x="454.3" y="309.9" font-size="3.3" fill="#555" text-anchor="middle">0.00</text>
<text x="463.1" y="309.9" font-size="3.3" fill="#555" text-anchor="middle">0.00</text>
<text x="471.9" y="309.9" font-size="3.3" fill="#555" text-anchor="middle">0.05</text>
<text x="480.7" y="309.9" font-size="3.3" fill="#555" text-anchor="middle">0.00</text>
<text x="489.5" y="309.9" font-size="3.3" fill="#555" text-anchor="middle">0.02</text>
<text x="498.3" y="309.9" font-size="3.3" fill="#555" text-anchor="middle">0.03</text>
<text x="507.1" y="309.9" font-size="3.3" fill="#555" text-anchor="middle">0.15</text>
<text x="515.9" y="309.9" font-size="3.3" fill="#555" text-anchor="middle">0.00</text>
<text x="524.7" y="309.9" font-size="3.3" fill="#555" text-anchor="middle">0.00</text>
<text x="533.5" y="309.9" font-size="3.3" fill="#555" text-anchor="middle">0.04</text>
<text x="542.3" y="309.9" font-size="3.3" fill="#555" text-anchor="middle">0.02</text>
<text x="551.1" y="309.9" font-size="3.3" fill="#555" text-anchor="middle">0.00</text>
<text x="559.9" y="309.9" font-size="3.3" fill="#555" text-anchor="middle">0.00</text>
<text x="568.7" y="309.9" font-size="3.3" fill="#555" text-anchor="middle">0.02</text>
<text x="577.5" y="309.9" font-size="3.3" fill="#555" text-anchor="middle">0.00</text>
<text x="586.3" y="309.9" font-size="3.3" fill="#555" text-anchor="middle">0.01</text>
<text x="401.5" y="318.7" font-size="3.3" fill="#555" text-anchor="middle">0.00</text>
<text x="410.3" y="318.7" font-size="3.3" fill="#555" text-anchor="middle">0.00</text>
<text x="419.1" y="318.7" font-size="3.3" fill="#555" text-anchor="middle">0.00</text>
<text x="427.9" y="318.7" font-size="3.3" fill="#555" text-anchor="middle">0.00</text>
<text x="436.7" y="318.7" font-size="3.3" fill="#334" text-anchor="middle">0.93</text>
<text x="445.5" y="318.7" font-size="3.3" fill="#555" text-anchor="middle">0.00</text>
<text x="454.3" y="318.7" font-size="3.3" fill="#555" text-anchor="middle">0.00</text>
<text x="463.1" y="318.7" font-size="3.3" fill="#555" text-anchor="middle">0.00</text>
<text x="471.9" y="318.7" font-size="3.3" fill="#555" text-anchor="middle">0.03</text>
<text x="480.7" y="318.7" font-size="3.3" fill="#555" text-anchor="middle">0.00</text>
<text x="489.5" y="318.7" font-size="3.3" fill="#555" text-anchor="middle">0.02</text>
<text x="498.3" y="318.7" font-size="3.3" fill="#555" text-anchor="middle">0.00</text>
<text x="507.1" y="318.7" font-size="3.3" fill="#555" text-anchor="middle">0.02</text>
<text x="515.9" y="318.7" font-size="3.3" fill="#555" text-anchor="middle">0.00</text>
<text x="524.7" y="318.7" font-size="3.3" fill="#555" text-anchor="middle">0.00</text>
<text x="533.5" y="318.7" font-size="3.3" fill="#555" text-anchor="middle">0.00</text>
<text x="542.3" y="318.7" font-size="3.3" fill="#555" text-anchor="middle">0.02</text>
<text x="551.1" y="318.7" font-size="3.3" fill="#555" text-anchor="middle">0.00</text>
<text x="559.9" y="318.7" font-size="3.3" fill="#555" text-anchor="middle">0.00</text>
<text x="568.7" y="318.7" font-size="3.3" fill="#555" text-anchor="middle">0.00</text>
<text x="577.5" y="318.7" font-size="3.3" fill="#555" text-anchor="middle">0.00</text>
<text x="586.3" y="318.7" font-size="3.3" fill="#555" text-anchor="middle">0.00</text>
<text x="401.5" y="327.5" font-size="3.3" fill="#555" text-anchor="middle">0.00</text>
<text x="410.3" y="327.5" font-size="3.3" fill="#555" text-anchor="middle">0.00</text>
<text x="419.1" y="327.5" font-size="3.3" fill="#555" text-anchor="middle">0.01</text>
<text x="427.9" y="327.5" font-size="3.3" fill="#555" text-anchor="middle">0.05</text>
<text x="436.7" y="327.5" font-size="3.3" fill="#555" text-anchor="middle">0.07</text>
<text x="445.5" y="327.5" font-size="3.3" fill="#334" text-anchor="middle">0.72</text>
<text x="454.3" y="327.5" font-size="3.3" fill="#555" text-anchor="middle">0.00</text>
<text x="463.1" y="327.5" font-size="3.3" fill="#555" text-anchor="middle">0.00</text>
<text x="471.9" y="327.5" font-size="3.3" fill="#555" text-anchor="middle">0.07</text>
<text x="480.7" y="327.5" font-size="3.3" fill="#555" text-anchor="middle">0.00</text>
<text x="489.5" y="327.5" font-size="3.3" fill="#555" text-anchor="middle">0.02</text>
<text x="498.3" y="327.5" font-size="3.3" fill="#555" text-anchor="middle">0.00</text>
<text x="507.1" y="327.5" font-size="3.3" fill="#555" text-anchor="middle">0.02</text>
<text x="515.9" y="327.5" font-size="3.3" fill="#555" text-anchor="middle">0.00</text>
<text x="524.7" y="327.5" font-size="3.3" fill="#555" text-anchor="middle">0.00</text>
<text x="533.5" y="327.5" font-size="3.3" fill="#555" text-anchor="middle">0.02</text>
<text x="542.3" y="327.5" font-size="3.3" fill="#555" text-anchor="middle">0.02</text>
<text x="551.1" y="327.5" font-size="3.3" fill="#555" text-anchor="middle">0.00</text>
<text x="559.9" y="327.5" font-size="3.3" fill="#555" text-anchor="middle">0.00</text>
<text x="568.7" y="327.5" font-size="3.3" fill="#555" text-anchor="middle">0.00</text>
<text x="577.5" y="327.5" font-size="3.3" fill="#555" text-anchor="middle">0.00</text>
<text x="586.3" y="327.5" font-size="3.3" fill="#555" text-anchor="middle">0.00</text>
<text x="401.5" y="336.3" font-size="3.3" fill="#555" text-anchor="middle">0.00</text>
<text x="410.3" y="336.3" font-size="3.3" fill="#555" text-anchor="middle">0.06</text>
<text x="419.1" y="336.3" font-size="3.3" fill="#555" text-anchor="middle">0.01</text>
<text x="427.9" y="336.3" font-size="3.3" fill="#555" text-anchor="middle">0.01</text>
<text x="436.7" y="336.3" font-size="3.3" fill="#555" text-anchor="middle">0.15</text>
<text x="445.5" y="336.3" font-size="3.3" fill="#555" text-anchor="middle">0.00</text>
<text x="454.3" y="336.3" font-size="3.3" fill="#555" text-anchor="middle">0.50</text>
<text x="463.1" y="336.3" font-size="3.3" fill="#555" text-anchor="middle">0.00</text>
<text x="471.9" y="336.3" font-size="3.3" fill="#555" text-anchor="middle">0.07</text>
<text x="480.7" y="336.3" font-size="3.3" fill="#555" text-anchor="middle">0.00</text>
<text x="489.5" y="336.3" font-size="3.3" fill="#555" text-anchor="middle">0.01</text>
<text x="498.3" y="336.3" font-size="3.3" fill="#555" text-anchor="middle">0.00</text>
<text x="507.1" y="336.3" font-size="3.3" fill="#555" text-anchor="middle">0.06</text>
<text x="515.9" y="336.3" font-size="3.3" fill="#555" text-anchor="middle">0.00</text>
<text x="524.7" y="336.3" font-size="3.3" fill="#555" text-anchor="middle">0.03</text>
<text x="533.5" y="336.3" font-size="3.3" fill="#555" text-anchor="middle">0.00</text>
<text x="542.3" y="336.3" font-size="3.3" fill="#555" text-anchor="middle">0.00</text>
<text x="551.1" y="336.3" font-size="3.3" fill="#555" text-anchor="middle">0.07</text>
<text x="559.9" y="336.3" font-size="3.3" fill="#555" text-anchor="middle">0.00</text>
<text x="568.7" y="336.3" font-size="3.3" fill="#555" text-anchor="middle">0.00</text>
<text x="577.5" y="336.3" font-size="3.3" fill="#555" text-anchor="middle">0.00</text>
<text x="586.3" y="336.3" font-size="3.3" fill="#555" text-anchor="middle">0.01</text>
<text x="401.5" y="345.1" font-size="3.3" fill="#555" text-anchor="middle">0.00</text>
<text x="410.3" y="345.1" font-size="3.3" fill="#555" text-anchor="middle">0.00</text>
<text x="419.1" y="345.1" font-size="3.3" fill="#555" text-anchor="middle">0.00</text>
<text x="427.9" y="345.1" font-size="3.3" fill="#555" text-anchor="middle">0.01</text>
<text x="436.7" y="345.1" font-size="3.3" fill="#555" text-anchor="middle">0.08</text>
<text x="445.5" y="345.1" font-size="3.3" fill="#555" text-anchor="middle">0.00</text>
<text x="454.3" y="345.1" font-size="3.3" fill="#555" text-anchor="middle">0.00</text>
<text x="463.1" y="345.1" font-size="3.3" fill="#334" text-anchor="middle">0.68</text>
<text x="471.9" y="345.1" font-size="3.3" fill="#555" text-anchor="middle">0.04</text>
<text x="480.7" y="345.1" font-size="3.3" fill="#555" text-anchor="middle">0.00</text>
<text x="489.5" y="345.1" font-size="3.3" fill="#555" text-anchor="middle">0.02</text>
<text x="498.3" y="345.1" font-size="3.3" fill="#555" text-anchor="middle">0.04</text>
<text x="507.1" y="345.1" font-size="3.3" fill="#555" text-anchor="middle">0.01</text>
<text x="515.9" y="345.1" font-size="3.3" fill="#555" text-anchor="middle">0.00</text>
<text x="524.7" y="345.1" font-size="3.3" fill="#555" text-anchor="middle">0.00</text>
<text x="533.5" y="345.1" font-size="3.3" fill="#555" text-anchor="middle">0.00</text>
<text x="542.3" y="345.1" font-size="3.3" fill="#555" text-anchor="middle">0.03</text>
<text x="551.1" y="345.1" font-size="3.3" fill="#555" text-anchor="middle">0.04</text>
<text x="559.9" y="345.1" font-size="3.3" fill="#555" text-anchor="middle">0.00</text>
<text x="568.7" y="345.1" font-size="3.3" fill="#555" text-anchor="middle">0.02</text>
<text x="577.5" y="345.1" font-size="3.3" fill="#555" text-anchor="middle">0.00</text>
<text x="586.3" y="345.1" font-size="3.3" fill="#555" text-anchor="middle">0.01</text>
<text x="401.5" y="353.9" font-size="3.3" fill="#555" text-anchor="middle">0.00</text>
<text x="410.3" y="353.9" font-size="3.3" fill="#555" text-anchor="middle">0.00</text>
<text x="419.1" y="353.9" font-size="3.3" fill="#555" text-anchor="middle">0.00</text>
<text x="427.9" y="353.9" font-size="3.3" fill="#555" text-anchor="middle">0.00</text>
<text x="436.7" y="353.9" font-size="3.3" fill="#555" text-anchor="middle">0.00</text>
<text x="445.5" y="353.9" font-size="3.3" fill="#555" text-anchor="middle">0.00</text>
<text x="454.3" y="353.9" font-size="3.3" fill="#555" text-anchor="middle">0.00</text>
<text x="463.1" y="353.9" font-size="3.3" fill="#555" text-anchor="middle">0.00</text>
<text x="471.9" y="353.9" font-size="3.3" fill="#334" text-anchor="middle">0.98</text>
<text x="480.7" y="353.9" font-size="3.3" fill="#555" text-anchor="middle">0.00</text>
<text x="489.5" y="353.9" font-size="3.3" fill="#555" text-anchor="middle">0.00</text>
<text x="498.3" y="353.9" font-size="3.3" fill="#555" text-anchor="middle">0.00</text>
<text x="507.1" y="353.9" font-size="3.3" fill="#555" text-anchor="middle">0.00</text>
<text x="515.9" y="353.9" font-size="3.3" fill="#555" text-anchor="middle">0.00</text>
<text x="524.7" y="353.9" font-size="3.3" fill="#555" text-anchor="middle">0.00</text>
<text x="533.5" y="353.9" font-size="3.3" fill="#555" text-anchor="middle">0.00</text>
<text x="542.3" y="353.9" font-size="3.3" fill="#555" text-anchor="middle">0.01</text>
<text x="551.1" y="353.9" font-size="3.3" fill="#555" text-anchor="middle">0.00</text>
<text x="559.9" y="353.9" font-size="3.3" fill="#555" text-anchor="middle">0.00</text>
<text x="568.7" y="353.9" font-size="3.3" fill="#555" text-anchor="middle">0.00</text>
<text x="577.5" y="353.9" font-size="3.3" fill="#555" text-anchor="middle">0.00</text>
<text x="586.3" y="353.9" font-size="3.3" fill="#555" text-anchor="middle">0.00</text>
<text x="401.5" y="362.7" font-size="3.3" fill="#555" text-anchor="middle">0.00</text>
<text x="410.3" y="362.7" font-size="3.3" fill="#555" text-anchor="middle">0.03</text>
<text x="419.1" y="362.7" font-size="3.3" fill="#555" text-anchor="middle">0.01</text>
<text x="427.9" y="362.7" font-size="3.3" fill="#555" text-anchor="middle">0.01</text>
<text x="436.7" y="362.7" font-size="3.3" fill="#555" text-anchor="middle">0.23</text>
<text x="445.5" y="362.7" font-size="3.3" fill="#555" text-anchor="middle">0.00</text>
<text x="454.3" y="362.7" font-size="3.3" fill="#555" text-anchor="middle">0.26</text>
<text x="463.1" y="362.7" font-size="3.3" fill="#555" text-anchor="middle">0.00</text>
<text x="471.9" y="362.7" font-size="3.3" fill="#555" text-anchor="middle">0.06</text>
<text x="480.7" y="362.7" font-size="3.3" fill="#555" text-anchor="middle">0.14</text>
<text x="489.5" y="362.7" font-size="3.3" fill="#555" text-anchor="middle">0.02</text>
<text x="498.3" y="362.7" font-size="3.3" fill="#555" text-anchor="middle">0.00</text>
<text x="507.1" y="362.7" font-size="3.3" fill="#555" text-anchor="middle">0.06</text>
<text x="515.9" y="362.7" font-size="3.3" fill="#555" text-anchor="middle">0.00</text>
<text x="524.7" y="362.7" font-size="3.3" fill="#555" text-anchor="middle">0.00</text>
<text x="533.5" y="362.7" font-size="3.3" fill="#555" text-anchor="middle">0.08</text>
<text x="542.3" y="362.7" font-size="3.3" fill="#555" text-anchor="middle">0.01</text>
<text x="551.1" y="362.7" font-size="3.3" fill="#555" text-anchor="middle">0.06</text>
<text x="559.9" y="362.7" font-size="3.3" fill="#555" text-anchor="middle">0.00</text>
<text x="568.7" y="362.7" font-size="3.3" fill="#555" text-anchor="middle">0.03</text>
<text x="577.5" y="362.7" font-size="3.3" fill="#555" text-anchor="middle">0.00</text>
<text x="586.3" y="362.7" font-size="3.3" fill="#555" text-anchor="middle">0.01</text>
<text x="401.5" y="371.5" font-size="3.3" fill="#555" text-anchor="middle">0.00</text>
<text x="410.3" y="371.5" font-size="3.3" fill="#555" text-anchor="middle">0.00</text>
<text x="419.1" y="371.5" font-size="3.3" fill="#555" text-anchor="middle">0.00</text>
<text x="427.9" y="371.5" font-size="3.3" fill="#555" text-anchor="middle">0.01</text>
<text x="436.7" y="371.5" font-size="3.3" fill="#555" text-anchor="middle">0.01</text>
<text x="445.5" y="371.5" font-size="3.3" fill="#555" text-anchor="middle">0.00</text>
<text x="454.3" y="371.5" font-size="3.3" fill="#555" text-anchor="middle">0.00</text>
<text x="463.1" y="371.5" font-size="3.3" fill="#555" text-anchor="middle">0.00</text>
<text x="471.9" y="371.5" font-size="3.3" fill="#555" text-anchor="middle">0.03</text>
<text x="480.7" y="371.5" font-size="3.3" fill="#555" text-anchor="middle">0.01</text>
<text x="489.5" y="371.5" font-size="3.3" fill="#334" text-anchor="middle">0.85</text>
<text x="498.3" y="371.5" font-size="3.3" fill="#555" text-anchor="middle">0.01</text>
<text x="507.1" y="371.5" font-size="3.3" fill="#555" text-anchor="middle">0.05</text>
<text x="515.9" y="371.5" font-size="3.3" fill="#555" text-anchor="middle">0.00</text>
<text x="524.7" y="371.5" font-size="3.3" fill="#555" text-anchor="middle">0.00</text>
<text x="533.5" y="371.5" font-size="3.3" fill="#555" text-anchor="middle">0.00</text>
<text x="542.3" y="371.5" font-size="3.3" fill="#555" text-anchor="middle">0.02</text>
<text x="551.1" y="371.5" font-size="3.3" fill="#555" text-anchor="middle">0.00</text>
<text x="559.9" y="371.5" font-size="3.3" fill="#555" text-anchor="middle">0.00</text>
<text x="568.7" y="371.5" font-size="3.3" fill="#555" text-anchor="middle">0.00</text>
<text x="577.5" y="371.5" font-size="3.3" fill="#555" text-anchor="middle">0.00</text>
<text x="586.3" y="371.5" font-size="3.3" fill="#555" text-anchor="middle">0.00</text>
<text x="401.5" y="380.3" font-size="3.3" fill="#555" text-anchor="middle">0.00</text>
<text x="410.3" y="380.3" font-size="3.3" fill="#555" text-anchor="middle">0.00</text>
<text x="419.1" y="380.3" font-size="3.3" fill="#555" text-anchor="middle">0.01</text>
<text x="427.9" y="380.3" font-size="3.3" fill="#555" text-anchor="middle">0.01</text>
<text x="436.7" y="380.3" font-size="3.3" fill="#555" text-anchor="middle">0.00</text>
<text x="445.5" y="380.3" font-size="3.3" fill="#555" text-anchor="middle">0.00</text>
<text x="454.3" y="380.3" font-size="3.3" fill="#555" text-anchor="middle">0.00</text>
<text x="463.1" y="380.3" font-size="3.3" fill="#555" text-anchor="middle">0.00</text>
<text x="471.9" y="380.3" font-size="3.3" fill="#555" text-anchor="middle">0.02</text>
<text x="480.7" y="380.3" font-size="3.3" fill="#555" text-anchor="middle">0.00</text>
<text x="489.5" y="380.3" font-size="3.3" fill="#555" text-anchor="middle">0.02</text>
<text x="498.3" y="380.3" font-size="3.3" fill="#334" text-anchor="middle">0.78</text>
<text x="507.1" y="380.3" font-size="3.3" fill="#555" text-anchor="middle">0.01</text>
<text x="515.9" y="380.3" font-size="3.3" fill="#555" text-anchor="middle">0.01</text>
<text x="524.7" y="380.3" font-size="3.3" fill="#555" text-anchor="middle">0.02</text>
<text x="533.5" y="380.3" font-size="3.3" fill="#555" text-anchor="middle">0.05</text>
<text x="542.3" y="380.3" font-size="3.3" fill="#555" text-anchor="middle">0.03</text>
<text x="551.1" y="380.3" font-size="3.3" fill="#555" text-anchor="middle">0.00</text>
<text x="559.9" y="380.3" font-size="3.3" fill="#555" text-anchor="middle">0.00</text>
<text x="568.7" y="380.3" font-size="3.3" fill="#555" text-anchor="middle">0.01</text>
<text x="577.5" y="380.3" font-size="3.3" fill="#555" text-anchor="middle">0.00</text>
<text x="586.3" y="380.3" font-size="3.3" fill="#555" text-anchor="middle">0.00</text>
<text x="401.5" y="389.1" font-size="3.3" fill="#555" text-anchor="middle">0.00</text>
<text x="410.3" y="389.1" font-size="3.3" fill="#555" text-anchor="middle">0.00</text>
<text x="419.1" y="389.1" font-size="3.3" fill="#555" text-anchor="middle">0.01</text>
<text x="427.9" y="389.1" font-size="3.3" fill="#555" text-anchor="middle">0.01</text>
<text x="436.7" y="389.1" font-size="3.3" fill="#555" text-anchor="middle">0.03</text>
<text x="445.5" y="389.1" font-size="3.3" fill="#555" text-anchor="middle">0.00</text>
<text x="454.3" y="389.1" font-size="3.3" fill="#555" text-anchor="middle">0.00</text>
<text x="463.1" y="389.1" font-size="3.3" fill="#555" text-anchor="middle">0.00</text>
<text x="471.9" y="389.1" font-size="3.3" fill="#555" text-anchor="middle">0.04</text>
<text x="480.7" y="389.1" font-size="3.3" fill="#555" text-anchor="middle">0.00</text>
<text x="489.5" y="389.1" font-size="3.3" fill="#555" text-anchor="middle">0.05</text>
<text x="498.3" y="389.1" font-size="3.3" fill="#555" text-anchor="middle">0.01</text>
<text x="507.1" y="389.1" font-size="3.3" fill="#334" text-anchor="middle">0.71</text>
<text x="515.9" y="389.1" font-size="3.3" fill="#555" text-anchor="middle">0.00</text>
<text x="524.7" y="389.1" font-size="3.3" fill="#555" text-anchor="middle">0.02</text>
<text x="533.5" y="389.1" font-size="3.3" fill="#555" text-anchor="middle">0.02</text>
<text x="542.3" y="389.1" font-size="3.3" fill="#555" text-anchor="middle">0.02</text>
<text x="551.1" y="389.1" font-size="3.3" fill="#555" text-anchor="middle">0.00</text>
<text x="559.9" y="389.1" font-size="3.3" fill="#555" text-anchor="middle">0.00</text>
<text x="568.7" y="389.1" font-size="3.3" fill="#555" text-anchor="middle">0.02</text>
<text x="577.5" y="389.1" font-size="3.3" fill="#555" text-anchor="middle">0.00</text>
<text x="586.3" y="389.1" font-size="3.3" fill="#555" text-anchor="middle">0.01</text>
<text x="401.5" y="397.9" font-size="3.3" fill="#555" text-anchor="middle">0.00</text>
<text x="410.3" y="397.9" font-size="3.3" fill="#555" text-anchor="middle">0.00</text>
<text x="419.1" y="397.9" font-size="3.3" fill="#555" text-anchor="middle">0.01</text>
<text x="427.9" y="397.9" font-size="3.3" fill="#555" text-anchor="middle">0.00</text>
<text x="436.7" y="397.9" font-size="3.3" fill="#555" text-anchor="middle">0.00</text>
<text x="445.5" y="397.9" font-size="3.3" fill="#555" text-anchor="middle">0.00</text>
<text x="454.3" y="397.9" font-size="3.3" fill="#555" text-anchor="middle">0.00</text>
<text x="463.1" y="397.9" font-size="3.3" fill="#555" text-anchor="middle">0.00</text>
<text x="471.9" y="397.9" font-size="3.3" fill="#555" text-anchor="middle">0.04</text>
<text x="480.7" y="397.9" font-size="3.3" fill="#555" text-anchor="middle">0.00</text>
<text x="489.5" y="397.9" font-size="3.3" fill="#555" text-anchor="middle">0.13</text>
<text x="498.3" y="397.9" font-size="3.3" fill="#555" text-anchor="middle">0.07</text>
<text x="507.1" y="397.9" font-size="3.3" fill="#555" text-anchor="middle">0.08</text>
<text x="515.9" y="397.9" font-size="3.3" fill="#334" text-anchor="middle">0.61</text>
<text x="524.7" y="397.9" font-size="3.3" fill="#555" text-anchor="middle">0.00</text>
<text x="533.5" y="397.9" font-size="3.3" fill="#555" text-anchor="middle">0.04</text>
<text x="542.3" y="397.9" font-size="3.3" fill="#555" text-anchor="middle">0.02</text>
<text x="551.1" y="397.9" font-size="3.3" fill="#555" text-anchor="middle">0.00</text>
<text x="559.9" y="397.9" font-size="3.3" fill="#555" text-anchor="middle">0.00</text>
<text x="568.7" y="397.9" font-size="3.3" fill="#555" text-anchor="middle">0.02</text>
<text x="577.5" y="397.9" font-size="3.3" fill="#555" text-anchor="middle">0.00</text>
<text x="586.3" y="397.9" font-size="3.3" fill="#555" text-anchor="middle">0.00</text>
<text x="401.5" y="406.7" font-size="3.3" fill="#555" text-anchor="middle">0.00</text>
<text x="410.3" y="406.7" font-size="3.3" fill="#555" text-anchor="middle">0.00</text>
<text x="419.1" y="406.7" font-size="3.3" fill="#555" text-anchor="middle">0.00</text>
<text x="427.9" y="406.7" font-size="3.3" fill="#555" text-anchor="middle">0.00</text>
<text x="436.7" y="406.7" font-size="3.3" fill="#555" text-anchor="middle">0.00</text>
<text x="445.5" y="406.7" font-size="3.3" fill="#555" text-anchor="middle">0.00</text>
<text x="454.3" y="406.7" font-size="3.3" fill="#555" text-anchor="middle">0.00</text>
<text x="463.1" y="406.7" font-size="3.3" fill="#555" text-anchor="middle">0.00</text>
<text x="471.9" y="406.7" font-size="3.3" fill="#555" text-anchor="middle">0.04</text>
<text x="480.7" y="406.7" font-size="3.3" fill="#555" text-anchor="middle">0.00</text>
<text x="489.5" y="406.7" font-size="3.3" fill="#555" text-anchor="middle">0.05</text>
<text x="498.3" y="406.7" font-size="3.3" fill="#555" text-anchor="middle">0.01</text>
<text x="507.1" y="406.7" font-size="3.3" fill="#555" text-anchor="middle">0.16</text>
<text x="515.9" y="406.7" font-size="3.3" fill="#555" text-anchor="middle">0.00</text>
<text x="524.7" y="406.7" font-size="3.3" fill="#555" text-anchor="middle">0.56</text>
<text x="533.5" y="406.7" font-size="3.3" fill="#555" text-anchor="middle">0.01</text>
<text x="542.3" y="406.7" font-size="3.3" fill="#555" text-anchor="middle">0.01</text>
<text x="551.1" y="406.7" font-size="3.3" fill="#555" text-anchor="middle">0.00</text>
<text x="559.9" y="406.7" font-size="3.3" fill="#555" text-anchor="middle">0.00</text>
<text x="568.7" y="406.7" font-size="3.3" fill="#555" text-anchor="middle">0.01</text>
<text x="577.5" y="406.7" font-size="3.3" fill="#555" text-anchor="middle">0.00</text>
<text x="586.3" y="406.7" font-size="3.3" fill="#555" text-anchor="middle">0.01</text>
<text x="401.5" y="415.5" font-size="3.3" fill="#555" text-anchor="middle">0.00</text>
<text x="410.3" y="415.5" font-size="3.3" fill="#555" text-anchor="middle">0.00</text>
<text x="419.1" y="415.5" font-size="3.3" fill="#555" text-anchor="middle">0.00</text>
<text x="427.9" y="415.5" font-size="3.3" fill="#555" text-anchor="middle">0.00</text>
<text x="436.7" y="415.5" font-size="3.3" fill="#555" text-anchor="middle">0.00</text>
<text x="445.5" y="415.5" font-size="3.3" fill="#555" text-anchor="middle">0.00</text>
<text x="454.3" y="415.5" font-size="3.3" fill="#555" text-anchor="middle">0.00</text>
<text x="463.1" y="415.5" font-size="3.3" fill="#555" text-anchor="middle">0.00</text>
<text x="471.9" y="415.5" font-size="3.3" fill="#555" text-anchor="middle">0.01</text>
<text x="480.7" y="415.5" font-size="3.3" fill="#555" text-anchor="middle">0.00</text>
<text x="489.5" y="415.5" font-size="3.3" fill="#555" text-anchor="middle">0.01</text>
<text x="498.3" y="415.5" font-size="3.3" fill="#555" text-anchor="middle">0.01</text>
<text x="507.1" y="415.5" font-size="3.3" fill="#555" text-anchor="middle">0.01</text>
<text x="515.9" y="415.5" font-size="3.3" fill="#555" text-anchor="middle">0.00</text>
<text x="524.7" y="415.5" font-size="3.3" fill="#555" text-anchor="middle">0.00</text>
<text x="533.5" y="415.5" font-size="3.3" fill="#334" text-anchor="middle">0.90</text>
<text x="542.3" y="415.5" font-size="3.3" fill="#555" text-anchor="middle">0.00</text>
<text x="551.1" y="415.5" font-size="3.3" fill="#555" text-anchor="middle">0.00</text>
<text x="559.9" y="415.5" font-size="3.3" fill="#555" text-anchor="middle">0.00</text>
<text x="568.7" y="415.5" font-size="3.3" fill="#555" text-anchor="middle">0.00</text>
<text x="577.5" y="415.5" font-size="3.3" fill="#555" text-anchor="middle">0.00</text>
<text x="586.3" y="415.5" font-size="3.3" fill="#555" text-anchor="middle">0.00</text>
<text x="401.5" y="424.3" font-size="3.3" fill="#555" text-anchor="middle">0.00</text>
<text x="410.3" y="424.3" font-size="3.3" fill="#555" text-anchor="middle">0.00</text>
<text x="419.1" y="424.3" font-size="3.3" fill="#555" text-anchor="middle">0.00</text>
<text x="427.9" y="424.3" font-size="3.3" fill="#555" text-anchor="middle">0.00</text>
<text x="436.7" y="424.3" font-size="3.3" fill="#555" text-anchor="middle">0.00</text>
<text x="445.5" y="424.3" font-size="3.3" fill="#555" text-anchor="middle">0.00</text>
<text x="454.3" y="424.3" font-size="3.3" fill="#555" text-anchor="middle">0.00</text>
<text x="463.1" y="424.3" font-size="3.3" fill="#555" text-anchor="middle">0.00</text>
<text x="471.9" y="424.3" font-size="3.3" fill="#555" text-anchor="middle">0.02</text>
<text x="480.7" y="424.3" font-size="3.3" fill="#555" text-anchor="middle">0.00</text>
<text x="489.5" y="424.3" font-size="3.3" fill="#555" text-anchor="middle">0.04</text>
<text x="498.3" y="424.3" font-size="3.3" fill="#555" text-anchor="middle">0.02</text>
<text x="507.1" y="424.3" font-size="3.3" fill="#555" text-anchor="middle">0.02</text>
<text x="515.9" y="424.3" font-size="3.3" fill="#555" text-anchor="middle">0.00</text>
<text x="524.7" y="424.3" font-size="3.3" fill="#555" text-anchor="middle">0.00</text>
<text x="533.5" y="424.3" font-size="3.3" fill="#555" text-anchor="middle">0.02</text>
<text x="542.3" y="424.3" font-size="3.3" fill="#334" text-anchor="middle">0.93</text>
<text x="551.1" y="424.3" font-size="3.3" fill="#555" text-anchor="middle">0.00</text>
<text x="559.9" y="424.3" font-size="3.3" fill="#555" text-anchor="middle">0.00</text>
<text x="568.7" y="424.3" font-size="3.3" fill="#555" text-anchor="middle">0.00</text>
<text x="577.5" y="424.3" font-size="3.3" fill="#555" text-anchor="middle">0.00</text>
<text x="586.3" y="424.3" font-size="3.3" fill="#555" text-anchor="middle">0.00</text>
<text x="401.5" y="433.1" font-size="3.3" fill="#555" text-anchor="middle">0.00</text>
<text x="410.3" y="433.1" font-size="3.3" fill="#555" text-anchor="middle">0.00</text>
<text x="419.1" y="433.1" font-size="3.3" fill="#555" text-anchor="middle">0.02</text>
<text x="427.9" y="433.1" font-size="3.3" fill="#555" text-anchor="middle">0.01</text>
<text x="436.7" y="433.1" font-size="3.3" fill="#555" text-anchor="middle">0.03</text>
<text x="445.5" y="433.1" font-size="3.3" fill="#555" text-anchor="middle">0.00</text>
<text x="454.3" y="433.1" font-size="3.3" fill="#555" text-anchor="middle">0.00</text>
<text x="463.1" y="433.1" font-size="3.3" fill="#555" text-anchor="middle">0.00</text>
<text x="471.9" y="433.1" font-size="3.3" fill="#555" text-anchor="middle">0.02</text>
<text x="480.7" y="433.1" font-size="3.3" fill="#555" text-anchor="middle">0.00</text>
<text x="489.5" y="433.1" font-size="3.3" fill="#555" text-anchor="middle">0.02</text>
<text x="498.3" y="433.1" font-size="3.3" fill="#555" text-anchor="middle">0.00</text>
<text x="507.1" y="433.1" font-size="3.3" fill="#555" text-anchor="middle">0.05</text>
<text x="515.9" y="433.1" font-size="3.3" fill="#555" text-anchor="middle">0.06</text>
<text x="524.7" y="433.1" font-size="3.3" fill="#555" text-anchor="middle">0.00</text>
<text x="533.5" y="433.1" font-size="3.3" fill="#555" text-anchor="middle">0.00</text>
<text x="542.3" y="433.1" font-size="3.3" fill="#555" text-anchor="middle">0.05</text>
<text x="551.1" y="433.1" font-size="3.3" fill="#555" text-anchor="middle">0.47</text>
<text x="559.9" y="433.1" font-size="3.3" fill="#555" text-anchor="middle">0.00</text>
<text x="568.7" y="433.1" font-size="3.3" fill="#555" text-anchor="middle">0.26</text>
<text x="577.5" y="433.1" font-size="3.3" fill="#555" text-anchor="middle">0.00</text>
<text x="586.3" y="433.1" font-size="3.3" fill="#555" text-anchor="middle">0.02</text>
<text x="401.5" y="441.9" font-size="3.3" fill="#555" text-anchor="middle">0.00</text>
<text x="410.3" y="441.9" font-size="3.3" fill="#555" text-anchor="middle">0.03</text>
<text x="419.1" y="441.9" font-size="3.3" fill="#555" text-anchor="middle">0.01</text>
<text x="427.9" y="441.9" font-size="3.3" fill="#555" text-anchor="middle">0.00</text>
<text x="436.7" y="441.9" font-size="3.3" fill="#555" text-anchor="middle">0.00</text>
<text x="445.5" y="441.9" font-size="3.3" fill="#555" text-anchor="middle">0.00</text>
<text x="454.3" y="441.9" font-size="3.3" fill="#555" text-anchor="middle">0.00</text>
<text x="463.1" y="441.9" font-size="3.3" fill="#555" text-anchor="middle">0.00</text>
<text x="471.9" y="441.9" font-size="3.3" fill="#555" text-anchor="middle">0.07</text>
<text x="480.7" y="441.9" font-size="3.3" fill="#555" text-anchor="middle">0.00</text>
<text x="489.5" y="441.9" font-size="3.3" fill="#555" text-anchor="middle">0.05</text>
<text x="498.3" y="441.9" font-size="3.3" fill="#555" text-anchor="middle">0.00</text>
<text x="507.1" y="441.9" font-size="3.3" fill="#555" text-anchor="middle">0.13</text>
<text x="515.9" y="441.9" font-size="3.3" fill="#555" text-anchor="middle">0.10</text>
<text x="524.7" y="441.9" font-size="3.3" fill="#555" text-anchor="middle">0.08</text>
<text x="533.5" y="441.9" font-size="3.3" fill="#555" text-anchor="middle">0.05</text>
<text x="542.3" y="441.9" font-size="3.3" fill="#555" text-anchor="middle">0.10</text>
<text x="551.1" y="441.9" font-size="3.3" fill="#555" text-anchor="middle">0.00</text>
<text x="559.9" y="441.9" font-size="3.3" fill="#555" text-anchor="middle">0.38</text>
<text x="568.7" y="441.9" font-size="3.3" fill="#555" text-anchor="middle">0.03</text>
<text x="577.5" y="441.9" font-size="3.3" fill="#555" text-anchor="middle">0.00</text>
<text x="586.3" y="441.9" font-size="3.3" fill="#555" text-anchor="middle">0.01</text>
<text x="401.5" y="450.7" font-size="3.3" fill="#555" text-anchor="middle">0.00</text>
<text x="410.3" y="450.7" font-size="3.3" fill="#555" text-anchor="middle">0.00</text>
<text x="419.1" y="450.7" font-size="3.3" fill="#555" text-anchor="middle">0.01</text>
<text x="427.9" y="450.7" font-size="3.3" fill="#555" text-anchor="middle">0.01</text>
<text x="436.7" y="450.7" font-size="3.3" fill="#555" text-anchor="middle">0.00</text>
<text x="445.5" y="450.7" font-size="3.3" fill="#555" text-anchor="middle">0.00</text>
<text x="454.3" y="450.7" font-size="3.3" fill="#555" text-anchor="middle">0.00</text>
<text x="463.1" y="450.7" font-size="3.3" fill="#555" text-anchor="middle">0.00</text>
<text x="471.9" y="450.7" font-size="3.3" fill="#555" text-anchor="middle">0.04</text>
<text x="480.7" y="450.7" font-size="3.3" fill="#555" text-anchor="middle">0.00</text>
<text x="489.5" y="450.7" font-size="3.3" fill="#555" text-anchor="middle">0.01</text>
<text x="498.3" y="450.7" font-size="3.3" fill="#555" text-anchor="middle">0.08</text>
<text x="507.1" y="450.7" font-size="3.3" fill="#555" text-anchor="middle">0.03</text>
<text x="515.9" y="450.7" font-size="3.3" fill="#555" text-anchor="middle">0.00</text>
<text x="524.7" y="450.7" font-size="3.3" fill="#555" text-anchor="middle">0.04</text>
<text x="533.5" y="450.7" font-size="3.3" fill="#555" text-anchor="middle">0.01</text>
<text x="542.3" y="450.7" font-size="3.3" fill="#555" text-anchor="middle">0.04</text>
<text x="551.1" y="450.7" font-size="3.3" fill="#555" text-anchor="middle">0.00</text>
<text x="559.9" y="450.7" font-size="3.3" fill="#555" text-anchor="middle">0.00</text>
<text x="568.7" y="450.7" font-size="3.3" fill="#334" text-anchor="middle">0.78</text>
<text x="577.5" y="450.7" font-size="3.3" fill="#555" text-anchor="middle">0.01</text>
<text x="586.3" y="450.7" font-size="3.3" fill="#555" text-anchor="middle">0.00</text>
<text x="401.5" y="459.5" font-size="3.3" fill="#555" text-anchor="middle">0.01</text>
<text x="410.3" y="459.5" font-size="3.3" fill="#555" text-anchor="middle">0.00</text>
<text x="419.1" y="459.5" font-size="3.3" fill="#555" text-anchor="middle">0.01</text>
<text x="427.9" y="459.5" font-size="3.3" fill="#555" text-anchor="middle">0.00</text>
<text x="436.7" y="459.5" font-size="3.3" fill="#555" text-anchor="middle">0.00</text>
<text x="445.5" y="459.5" font-size="3.3" fill="#555" text-anchor="middle">0.00</text>
<text x="454.3" y="459.5" font-size="3.3" fill="#555" text-anchor="middle">0.00</text>
<text x="463.1" y="459.5" font-size="3.3" fill="#555" text-anchor="middle">0.00</text>
<text x="471.9" y="459.5" font-size="3.3" fill="#555" text-anchor="middle">0.06</text>
<text x="480.7" y="459.5" font-size="3.3" fill="#555" text-anchor="middle">0.00</text>
<text x="489.5" y="459.5" font-size="3.3" fill="#555" text-anchor="middle">0.25</text>
<text x="498.3" y="459.5" font-size="3.3" fill="#555" text-anchor="middle">0.02</text>
<text x="507.1" y="459.5" font-size="3.3" fill="#555" text-anchor="middle">0.10</text>
<text x="515.9" y="459.5" font-size="3.3" fill="#555" text-anchor="middle">0.00</text>
<text x="524.7" y="459.5" font-size="3.3" fill="#555" text-anchor="middle">0.16</text>
<text x="533.5" y="459.5" font-size="3.3" fill="#555" text-anchor="middle">0.00</text>
<text x="542.3" y="459.5" font-size="3.3" fill="#555" text-anchor="middle">0.01</text>
<text x="551.1" y="459.5" font-size="3.3" fill="#555" text-anchor="middle">0.00</text>
<text x="559.9" y="459.5" font-size="3.3" fill="#555" text-anchor="middle">0.00</text>
<text x="568.7" y="459.5" font-size="3.3" fill="#555" text-anchor="middle">0.00</text>
<text x="577.5" y="459.5" font-size="3.3" fill="#555" text-anchor="middle">0.39</text>
<text x="586.3" y="459.5" font-size="3.3" fill="#555" text-anchor="middle">0.00</text>
<text x="401.5" y="468.3" font-size="3.3" fill="#555" text-anchor="middle">0.00</text>
<text x="410.3" y="468.3" font-size="3.3" fill="#555" text-anchor="middle">0.01</text>
<text x="419.1" y="468.3" font-size="3.3" fill="#555" text-anchor="middle">0.00</text>
<text x="427.9" y="468.3" font-size="3.3" fill="#555" text-anchor="middle">0.00</text>
<text x="436.7" y="468.3" font-size="3.3" fill="#555" text-anchor="middle">0.12</text>
<text x="445.5" y="468.3" font-size="3.3" fill="#555" text-anchor="middle">0.00</text>
<text x="454.3" y="468.3" font-size="3.3" fill="#555" text-anchor="middle">0.00</text>
<text x="463.1" y="468.3" font-size="3.3" fill="#555" text-anchor="middle">0.00</text>
<text x="471.9" y="468.3" font-size="3.3" fill="#555" text-anchor="middle">0.05</text>
<text x="480.7" y="468.3" font-size="3.3" fill="#555" text-anchor="middle">0.00</text>
<text x="489.5" y="468.3" font-size="3.3" fill="#555" text-anchor="middle">0.07</text>
<text x="498.3" y="468.3" font-size="3.3" fill="#555" text-anchor="middle">0.02</text>
<text x="507.1" y="468.3" font-size="3.3" fill="#555" text-anchor="middle">0.05</text>
<text x="515.9" y="468.3" font-size="3.3" fill="#555" text-anchor="middle">0.00</text>
<text x="524.7" y="468.3" font-size="3.3" fill="#555" text-anchor="middle">0.00</text>
<text x="533.5" y="468.3" font-size="3.3" fill="#555" text-anchor="middle">0.18</text>
<text x="542.3" y="468.3" font-size="3.3" fill="#555" text-anchor="middle">0.02</text>
<text x="551.1" y="468.3" font-size="3.3" fill="#555" text-anchor="middle">0.00</text>
<text x="559.9" y="468.3" font-size="3.3" fill="#555" text-anchor="middle">0.00</text>
<text x="568.7" y="468.3" font-size="3.3" fill="#555" text-anchor="middle">0.01</text>
<text x="577.5" y="468.3" font-size="3.3" fill="#555" text-anchor="middle">0.00</text>
<text x="586.3" y="468.3" font-size="3.3" fill="#334" text-anchor="middle">0.66</text>
<text x="592.2" y="284.0" font-size="4.1" fill="#333">T Cells</text>
<text x="592.2" y="292.8" font-size="4.1" fill="#333">B Cells</text>
<text x="592.2" y="301.6" font-size="4.1" fill="#333">NK Cells</text>
<text x="592.2" y="310.4" font-size="4.1" fill="#333">CD14 Mono</text>
<text x="592.2" y="319.2" font-size="4.1" fill="#333">Early Eryth</text>
<text x="592.2" y="328.0" font-size="4.1" fill="#333">GMP</text>
<text x="592.2" y="336.8" font-size="4.1" fill="#333">HSC</text>
<text x="592.2" y="345.6" font-size="4.1" fill="#333">LMPP</text>
<text x="592.2" y="354.4" font-size="4.1" fill="#333">Late Eryth</text>
<text x="592.2" y="363.2" font-size="4.1" fill="#333">EMP</text>
<text x="592.2" y="372.0" font-size="4.1" fill="#333">pre−mDC</text>
<text x="592.2" y="380.8" font-size="4.1" fill="#333">pre B</text>
<text x="592.2" y="389.6" font-size="4.1" fill="#333">CD16 Mono</text>
<text x="592.2" y="398.4" font-size="4.1" fill="#333">pre−pDC</text>
<text x="592.2" y="407.2" font-size="4.1" fill="#333">cDC</text>
<text x="592.2" y="416.0" font-size="4.1" fill="#333">Prog Mk</text>
<text x="592.2" y="424.8" font-size="4.1" fill="#333">Plasma</text>
<text x="592.2" y="433.6" font-size="4.1" fill="#333">CLP</text>
<text x="592.2" y="442.4" font-size="4.1" fill="#333">pDC</text>
<text x="592.2" y="451.2" font-size="4.1" fill="#333">pro B</text>
<text x="592.2" y="460.0" font-size="4.1" fill="#333">ASDC</text>
<text x="592.2" y="468.8" font-size="4.1" fill="#333">BaEoMa</text>
<text x="400.0" y="473.5" font-size="4.1" fill="#333" transform="rotate(90 400.0 473.5)">T Cells</text>
<text x="408.8" y="473.5" font-size="4.1" fill="#333" transform="rotate(90 408.8 473.5)">B Cells</text>
<text x="417.6" y="473.5" font-size="4.1" fill="#333" transform="rotate(90 417.6 473.5)">NK Cells</text>
<text x="426.4" y="473.5" font-size="4.1" fill="#333" transform="rotate(90 426.4 473.5)">CD14 Mono</text>
<text x="435.2" y="473.5" font-size="4.1" fill="#333" transform="rotate(90 435.2 473.5)">Early Eryth</text>
<text x="444.0" y="473.5" font-size="4.1" fill="#333" transform="rotate(90 444.0 473.5)">GMP</text>
<text x="452.8" y="473.5" font-size="4.1" fill="#333" transform="rotate(90 452.8 473.5)">HSC</text>
<text x="461.6" y="473.5" font-size="4.1" fill="#333" transform="rotate(90 461.6 473.5)">LMPP</text>
<text x="470.4" y="473.5" font-size="4.1" fill="#333" transform="rotate(90 470.4 473.5)">Late Eryth</text>
<text x="479.2" y="473.5" font-size="4.1" fill="#333" transform="rotate(90 479.2 473.5)">EMP</text>
<text x="488.0" y="473.5" font-size="4.1" fill="#333" transform="rotate(90 488.0 473.5)">pre−mDC</text>
<text x="496.8" y="473.5" font-size="4.1" fill="#333" transform="rotate(90 496.8 473.5)">pre B</text>
<text x="505.6" y="473.5" font-size="4.1" fill="#333" transform="rotate(90 505.6 473.5)">CD16 Mono</text>
<text x="514.4" y="473.5" font-size="4.1" fill="#333" transform="rotate(90 514.4 473.5)">pre−pDC</text>
<text x="523.2" y="473.5" font-size="4.1" fill="#333" transform="rotate(90 523.2 473.5)">cDC</text>
<text x="532.0" y="473.5" font-size="4.1" fill="#333" transform="rotate(90 532.0 473.5)">Prog Mk</text>
<text x="540.8" y="473.5" font-size="4.1" fill="#333" transform="rotate(90 540.8 473.5)">Plasma</text>
<text x="549.6" y="473.5" font-size="4.1" fill="#333" transform="rotate(90 549.6 473.5)">CLP</text>
<text x="558.4" y="473.5" font-size="4.1" fill="#333" transform="rotate(90 558.4 473.5)">pDC</text>
<text x="567.2" y="473.5" font-size="4.1" fill="#333" transform="rotate(90 567.2 473.5)">pro B</text>
<text x="576.0" y="473.5" font-size="4.1" fill="#333" transform="rotate(90 576.0 473.5)">ASDC</text>
<text x="584.8" y="473.5" font-size="4.1" fill="#333" transform="rotate(90 584.8 473.5)">BaEoMa</text>
<defs><linearGradient id="cb" x1="0" y1="1" x2="0" y2="0"><stop offset="0" stop-color="#f0f6fc"/><stop offset="0.1" stop-color="#deebf7"/><stop offset="0.2" stop-color="#c6dbef"/><stop offset="0.4" stop-color="#8dc0de"/><stop offset="0.6" stop-color="#529bcd"/><stop offset="0.8" stop-color="#2a76bc"/><stop offset="1.0" stop-color="#144c9e"/></linearGradient></defs>
<rect x="618" y="278" width="6.3" height="87.8" fill="url(#cb)"/>
<text x="626" y="295.9" font-size="4.2" fill="#333">0.8</text>
<text x="626" y="313.9" font-size="4.2" fill="#333">0.6</text>
<text x="626" y="331.7" font-size="4.2" fill="#333">0.4</text>
<text x="626" y="349.59999999999997" font-size="4.2" fill="#333">0.2</text>
<text x="626" y="367.7" font-size="4.2" fill="#333">0</text>
<text x="386.5" y="378.7" font-size="6.4" fill="#222" text-anchor="middle" transform="rotate(-90 386.5 378.7)">Simulated Pseudobulks</text>
<text x="395" y="378.7" font-size="6.4" fill="#222" text-anchor="middle" transform="rotate(-90 395 378.7)">(n = 1000 cells)</text>
<text x="4.9" y="506.8" font-size="17.5" fill="#111" font-weight="bold">e</text>
<text x="33" y="506" font-size="10.9" fill="#222">Comparison of flow cytometry and estimated cell composition</text>
<text x="45" y="529.5" font-size="7.4" fill="#222">Flow Cytometry (EuroFlow / Fresh Material)</text>
<rect x="44.5" y="534.4" width="235.3" height="193.89999999999998" fill="#fff" stroke="#444" stroke-width="0.6"/>
<line x1="55.10" y1="534.4" x2="55.10" y2="728.3" stroke="#ebebeb" stroke-width="0.5"/>
<line x1="108.48" y1="534.4" x2="108.48" y2="728.3" stroke="#ebebeb" stroke-width="0.5"/>
<line x1="161.85" y1="534.4" x2="161.85" y2="728.3" stroke="#ebebeb" stroke-width="0.5"/>
<line x1="215.23" y1="534.4" x2="215.23" y2="728.3" stroke="#ebebeb" stroke-width="0.5"/>
<line x1="268.60" y1="534.4" x2="268.60" y2="728.3" stroke="#ebebeb" stroke-width="0.5"/>
<line x1="44.5" y1="539.50" x2="279.8" y2="539.50" stroke="#ebebeb" stroke-width="0.5"/>
<line x1="44.5" y1="548.25" x2="279.8" y2="548.25" stroke="#ebebeb" stroke-width="0.5"/>
<line x1="44.5" y1="557.00" x2="279.8" y2="557.00" stroke="#ebebeb" stroke-width="0.5"/>
<line x1="44.5" y1="565.75" x2="279.8" y2="565.75" stroke="#ebebeb" stroke-width="0.5"/>
<line x1="44.5" y1="574.50" x2="279.8" y2="574.50" stroke="#ebebeb" stroke-width="0.5"/>
<line x1="44.5" y1="583.25" x2="279.8" y2="583.25" stroke="#ebebeb" stroke-width="0.5"/>
<line x1="44.5" y1="592.00" x2="279.8" y2="592.00" stroke="#ebebeb" stroke-width="0.5"/>
<line x1="44.5" y1="600.75" x2="279.8" y2="600.75" stroke="#ebebeb" stroke-width="0.5"/>
<line x1="44.5" y1="609.50" x2="279.8" y2="609.50" stroke="#ebebeb" stroke-width="0.5"/>
<line x1="44.5" y1="618.25" x2="279.8" y2="618.25" stroke="#ebebeb" stroke-width="0.5"/>
<line x1="44.5" y1="627.00" x2="279.8" y2="627.00" stroke="#ebebeb" stroke-width="0.5"/>
<line x1="44.5" y1="635.75" x2="279.8" y2="635.75" stroke="#ebebeb" stroke-width="0.5"/>
<line x1="44.5" y1="644.50" x2="279.8" y2="644.50" stroke="#ebebeb" stroke-width="0.5"/>
<line x1="44.5" y1="653.25" x2="279.8" y2="653.25" stroke="#ebebeb" stroke-width="0.5"/>
<line x1="44.5" y1="662.00" x2="279.8" y2="662.00" stroke="#ebebeb" stroke-width="0.5"/>
<line x1="44.5" y1="670.75" x2="279.8" y2="670.75" stroke="#ebebeb" stroke-width="0.5"/>
<line x1="44.5" y1="679.50" x2="279.8" y2="679.50" stroke="#ebebeb" stroke-width="0.5"/>
<line x1="44.5" y1="688.25" x2="279.8" y2="688.25" stroke="#ebebeb" stroke-width="0.5"/>
<line x1="44.5" y1="697.00" x2="279.8" y2="697.00" stroke="#ebebeb" stroke-width="0.5"/>
<line x1="44.5" y1="705.75" x2="279.8" y2="705.75" stroke="#ebebeb" stroke-width="0.5"/>
<line x1="44.5" y1="714.50" x2="279.8" y2="714.50" stroke="#ebebeb" stroke-width="0.5"/>
<line x1="44.5" y1="723.25" x2="279.8" y2="723.25" stroke="#ebebeb" stroke-width="0.5"/>
<rect x="55.1" y="535.62" width="213.50" height="7.75" fill="#9a9ca1"/>
<rect x="55.1" y="535.62" width="213.50" height="7.75" fill="#c4c5c8"/>
<rect x="55.1" y="535.62" width="189.80" height="7.75" fill="#9a2d30"/>
<line x1="43.0" y1="539.50" x2="44.5" y2="539.50" stroke="#444" stroke-width="0.5"/>
<text x="42.3" y="541.4" font-size="5.4" fill="#444" text-anchor="end">102581−08</text>
<rect x="55.1" y="544.38" width="213.50" height="7.75" fill="#9a9ca1"/>
<rect x="55.1" y="544.38" width="213.50" height="7.75" fill="#c4c5c8"/>
<rect x="55.1" y="544.38" width="205.81" height="7.75" fill="#9a2d30"/>
<line x1="43.0" y1="548.25" x2="44.5" y2="548.25" stroke="#444" stroke-width="0.5"/>
<text x="42.3" y="550.15" font-size="5.4" fill="#444" text-anchor="end">102581−04</text>
<rect x="55.1" y="553.12" width="213.50" height="7.75" fill="#9a9ca1"/>
<rect x="55.1" y="553.12" width="210.72" height="7.75" fill="#c4c5c8"/>
<rect x="55.1" y="553.12" width="204.75" height="7.75" fill="#9a2d30"/>
<line x1="43.0" y1="557.00" x2="44.5" y2="557.00" stroke="#444" stroke-width="0.5"/>
<text x="42.3" y="558.9" font-size="5.4" fill="#444" text-anchor="end">102581−03</text>
<rect x="55.1" y="561.88" width="213.50" height="7.75" fill="#9a9ca1"/>
<rect x="55.1" y="561.88" width="210.08" height="7.75" fill="#c4c5c8"/>
<rect x="55.1" y="561.88" width="196.21" height="7.75" fill="#9a2d30"/>
<line x1="43.0" y1="565.75" x2="44.5" y2="565.75" stroke="#444" stroke-width="0.5"/>
<text x="42.3" y="567.65" font-size="5.4" fill="#444" text-anchor="end">102581−003−041</text>
<rect x="55.1" y="570.62" width="213.50" height="7.75" fill="#9a9ca1"/>
<rect x="55.1" y="570.62" width="201.97" height="7.75" fill="#c4c5c8"/>
<rect x="55.1" y="570.62" width="143.47" height="7.75" fill="#9a2d30"/>
<line x1="43.0" y1="574.50" x2="44.5" y2="574.50" stroke="#444" stroke-width="0.5"/>
<text x="42.3" y="576.4" font-size="5.4" fill="#444" text-anchor="end">102581−003−040</text>
<rect x="55.1" y="579.38" width="213.50" height="7.75" fill="#9a9ca1"/>
<rect x="55.1" y="579.38" width="203.89" height="7.75" fill="#c4c5c8"/>
<rect x="55.1" y="579.38" width="194.07" height="7.75" fill="#9a2d30"/>
<line x1="43.0" y1="583.25" x2="44.5" y2="583.25" stroke="#444" stroke-width="0.5"/>
<text x="42.3" y="585.15" font-size="5.4" fill="#444" text-anchor="end">102581−003−039</text>
<rect x="55.1" y="588.12" width="213.50" height="7.75" fill="#9a9ca1"/>
<rect x="55.1" y="588.12" width="202.18" height="7.75" fill="#c4c5c8"/>
<rect x="55.1" y="588.12" width="147.96" height="7.75" fill="#9a2d30"/>
<line x1="43.0" y1="592.00" x2="44.5" y2="592.00" stroke="#444" stroke-width="0.5"/>
<text x="42.3" y="593.9" font-size="5.4" fill="#444" text-anchor="end">102581−003−038</text>
<rect x="55.1" y="596.88" width="213.50" height="7.75" fill="#9a9ca1"/>
<rect x="55.1" y="596.88" width="208.80" height="7.75" fill="#c4c5c8"/>
<rect x="55.1" y="596.88" width="190.87" height="7.75" fill="#9a2d30"/>
<line x1="43.0" y1="600.75" x2="44.5" y2="600.75" stroke="#444" stroke-width="0.5"/>
<text x="42.3" y="602.65" font-size="5.4" fill="#444" text-anchor="end">102581−003−037</text>
<rect x="55.1" y="605.62" width="213.50" height="7.75" fill="#9a9ca1"/>
<rect x="55.1" y="605.62" width="213.50" height="7.75" fill="#c4c5c8"/>
<rect x="55.1" y="605.62" width="207.95" height="7.75" fill="#9a2d30"/>
<line x1="43.0" y1="609.50" x2="44.5" y2="609.50" stroke="#444" stroke-width="0.5"/>
<text x="42.3" y="611.4" font-size="5.4" fill="#444" text-anchor="end">102581−003−035</text>
<rect x="55.1" y="614.38" width="213.50" height="7.75" fill="#9a9ca1"/>
<rect x="55.1" y="614.38" width="213.50" height="7.75" fill="#c4c5c8"/>
<rect x="55.1" y="614.38" width="209.02" height="7.75" fill="#9a2d30"/>
<line x1="43.0" y1="618.25" x2="44.5" y2="618.25" stroke="#444" stroke-width="0.5"/>
<text x="42.3" y="620.15" font-size="5.4" fill="#444" text-anchor="end">102581−003−034</text>
<rect x="55.1" y="623.12" width="213.50" height="7.75" fill="#9a9ca1"/>
<rect x="55.1" y="623.12" width="211.37" height="7.75" fill="#c4c5c8"/>
<rect x="55.1" y="623.12" width="194.93" height="7.75" fill="#9a2d30"/>
<line x1="43.0" y1="627.00" x2="44.5" y2="627.00" stroke="#444" stroke-width="0.5"/>
<text x="42.3" y="628.9" font-size="5.4" fill="#444" text-anchor="end">102581−003−033</text>
<rect x="55.1" y="631.88" width="213.50" height="7.75" fill="#9a9ca1"/>
<rect x="55.1" y="631.88" width="210.94" height="7.75" fill="#c4c5c8"/>
<rect x="55.1" y="631.88" width="195.35" height="7.75" fill="#9a2d30"/>
<line x1="43.0" y1="635.75" x2="44.5" y2="635.75" stroke="#444" stroke-width="0.5"/>
<text x="42.3" y="637.65" font-size="5.4" fill="#444" text-anchor="end">102581−003−032</text>
<rect x="55.1" y="640.62" width="213.50" height="7.75" fill="#9a9ca1"/>
<rect x="55.1" y="640.62" width="209.87" height="7.75" fill="#c4c5c8"/>
<rect x="55.1" y="640.62" width="198.34" height="7.75" fill="#9a2d30"/>
<line x1="43.0" y1="644.50" x2="44.5" y2="644.50" stroke="#444" stroke-width="0.5"/>
<text x="42.3" y="646.4" font-size="5.4" fill="#444" text-anchor="end">102581−003−031</text>
<rect x="55.1" y="649.38" width="213.50" height="7.75" fill="#9a9ca1"/>
<rect x="55.1" y="649.38" width="209.66" height="7.75" fill="#c4c5c8"/>
<rect x="55.1" y="649.38" width="184.89" height="7.75" fill="#9a2d30"/>
<line x1="43.0" y1="653.25" x2="44.5" y2="653.25" stroke="#444" stroke-width="0.5"/>
<text x="42.3" y="655.15" font-size="5.4" fill="#444" text-anchor="end">102581−003−030</text>
<rect x="55.1" y="658.12" width="213.50" height="7.75" fill="#9a9ca1"/>
<rect x="55.1" y="658.12" width="207.95" height="7.75" fill="#c4c5c8"/>
<rect x="55.1" y="658.12" width="174.00" height="7.75" fill="#9a2d30"/>
<line x1="43.0" y1="662.00" x2="44.5" y2="662.00" stroke="#444" stroke-width="0.5"/>
<text x="42.3" y="663.9" font-size="5.4" fill="#444" text-anchor="end">102581−003−029</text>
<rect x="55.1" y="666.88" width="213.50" height="7.75" fill="#9a9ca1"/>
<rect x="55.1" y="666.88" width="209.66" height="7.75" fill="#c4c5c8"/>
<rect x="55.1" y="666.88" width="197.49" height="7.75" fill="#9a2d30"/>
<line x1="43.0" y1="670.75" x2="44.5" y2="670.75" stroke="#444" stroke-width="0.5"/>
<text x="42.3" y="672.65" font-size="5.4" fill="#444" text-anchor="end">102581−003−028</text>
<rect x="55.1" y="675.62" width="213.50" height="7.75" fill="#9a9ca1"/>
<rect x="55.1" y="675.62" width="206.45" height="7.75" fill="#c4c5c8"/>
<rect x="55.1" y="675.62" width="181.90" height="7.75" fill="#9a2d30"/>
<line x1="43.0" y1="679.50" x2="44.5" y2="679.50" stroke="#444" stroke-width="0.5"/>
<text x="42.3" y="681.4" font-size="5.4" fill="#444" text-anchor="end">102581−003−027</text>
<rect x="55.1" y="684.38" width="213.50" height="7.75" fill="#9a9ca1"/>
<rect x="55.1" y="684.38" width="207.74" height="7.75" fill="#c4c5c8"/>
<rect x="55.1" y="684.38" width="187.45" height="7.75" fill="#9a2d30"/>
<line x1="43.0" y1="688.25" x2="44.5" y2="688.25" stroke="#444" stroke-width="0.5"/>
<text x="42.3" y="690.15" font-size="5.4" fill="#444" text-anchor="end">102581−003−026</text>
<rect x="55.1" y="693.12" width="213.50" height="7.75" fill="#9a9ca1"/>
<rect x="55.1" y="693.12" width="210.30" height="7.75" fill="#c4c5c8"/>
<rect x="55.1" y="693.12" width="205.81" height="7.75" fill="#9a2d30"/>
<line x1="43.0" y1="697.00" x2="44.5" y2="697.00" stroke="#444" stroke-width="0.5"/>
<text x="42.3" y="698.9" font-size="5.4" fill="#444" text-anchor="end">102581−003−025</text>
<rect x="55.1" y="701.88" width="213.50" height="7.75" fill="#9a9ca1"/>
<rect x="55.1" y="701.88" width="209.87" height="7.75" fill="#c4c5c8"/>
<rect x="55.1" y="701.88" width="204.32" height="7.75" fill="#9a2d30"/>
<line x1="43.0" y1="705.75" x2="44.5" y2="705.75" stroke="#444" stroke-width="0.5"/>
<text x="42.3" y="707.65" font-size="5.4" fill="#444" text-anchor="end">102581−002−053</text>
<rect x="55.1" y="710.62" width="213.50" height="7.75" fill="#9a9ca1"/>
<rect x="55.1" y="710.62" width="207.31" height="7.75" fill="#c4c5c8"/>
<rect x="55.1" y="710.62" width="172.51" height="7.75" fill="#9a2d30"/>
<line x1="43.0" y1="714.50" x2="44.5" y2="714.50" stroke="#444" stroke-width="0.5"/>
<text x="42.3" y="716.4" font-size="5.4" fill="#444" text-anchor="end">102581−002−052</text>
<rect x="55.1" y="719.38" width="213.50" height="7.75" fill="#9a9ca1"/>
<rect x="55.1" y="719.38" width="209.44" height="7.75" fill="#c4c5c8"/>
<rect x="55.1" y="719.38" width="190.44" height="7.75" fill="#9a2d30"/>
<line x1="43.0" y1="723.25" x2="44.5" y2="723.25" stroke="#444" stroke-width="0.5"/>
<text x="42.3" y="725.15" font-size="5.4" fill="#444" text-anchor="end">102581−002−051</text>
<line x1="55.10" y1="728.3" x2="55.10" y2="729.8" stroke="#444" stroke-width="0.5"/>
<text x="55.1" y="734.9" font-size="5.0" fill="#444" text-anchor="middle">0</text>
<line x1="108.48" y1="728.3" x2="108.48" y2="729.8" stroke="#444" stroke-width="0.5"/>
<text x="108.48" y="734.9" font-size="5.0" fill="#444" text-anchor="middle">25</text>
<line x1="161.85" y1="728.3" x2="161.85" y2="729.8" stroke="#444" stroke-width="0.5"/>
<text x="161.85" y="734.9" font-size="5.0" fill="#444" text-anchor="middle">50</text>
<line x1="215.23" y1="728.3" x2="215.23" y2="729.8" stroke="#444" stroke-width="0.5"/>
<text x="215.23" y="734.9" font-size="5.0" fill="#444" text-anchor="middle">75</text>
<line x1="268.60" y1="728.3" x2="268.60" y2="729.8" stroke="#444" stroke-width="0.5"/>
<text x="268.6" y="734.9" font-size="5.0" fill="#444" text-anchor="middle">100</text>
<text x="161.85" y="742.5" font-size="6.2" fill="#222" text-anchor="middle">Cell Type %</text>
<text x="393.5" y="528.3" font-size="7.4" fill="#222">Estimated Cell Composition (RNA-seq / Thawed)</text>
<rect x="393.4" y="533.1" width="234.80000000000007" height="193.5" fill="#fff" stroke="#444" stroke-width="0.6"/>
<line x1="404.00" y1="533.1" x2="404.00" y2="726.6" stroke="#ebebeb" stroke-width="0.5"/>
<line x1="457.43" y1="533.1" x2="457.43" y2="726.6" stroke="#ebebeb" stroke-width="0.5"/>
<line x1="510.85" y1="533.1" x2="510.85" y2="726.6" stroke="#ebebeb" stroke-width="0.5"/>
<line x1="564.28" y1="533.1" x2="564.28" y2="726.6" stroke="#ebebeb" stroke-width="0.5"/>
<line x1="617.70" y1="533.1" x2="617.70" y2="726.6" stroke="#ebebeb" stroke-width="0.5"/>
<line x1="393.4" y1="538.40" x2="628.2" y2="538.40" stroke="#ebebeb" stroke-width="0.5"/>
<line x1="393.4" y1="547.13" x2="628.2" y2="547.13" stroke="#ebebeb" stroke-width="0.5"/>
<line x1="393.4" y1="555.86" x2="628.2" y2="555.86" stroke="#ebebeb" stroke-width="0.5"/>
<line x1="393.4" y1="564.59" x2="628.2" y2="564.59" stroke="#ebebeb" stroke-width="0.5"/>
<line x1="393.4" y1="573.32" x2="628.2" y2="573.32" stroke="#ebebeb" stroke-width="0.5"/>
<line x1="393.4" y1="582.05" x2="628.2" y2="582.05" stroke="#ebebeb" stroke-width="0.5"/>
<line x1="393.4" y1="590.78" x2="628.2" y2="590.78" stroke="#ebebeb" stroke-width="0.5"/>
<line x1="393.4" y1="599.51" x2="628.2" y2="599.51" stroke="#ebebeb" stroke-width="0.5"/>
<line x1="393.4" y1="608.24" x2="628.2" y2="608.24" stroke="#ebebeb" stroke-width="0.5"/>
<line x1="393.4" y1="616.97" x2="628.2" y2="616.97" stroke="#ebebeb" stroke-width="0.5"/>
<line x1="393.4" y1="625.70" x2="628.2" y2="625.70" stroke="#ebebeb" stroke-width="0.5"/>
<line x1="393.4" y1="634.43" x2="628.2" y2="634.43" stroke="#ebebeb" stroke-width="0.5"/>
<line x1="393.4" y1="643.16" x2="628.2" y2="643.16" stroke="#ebebeb" stroke-width="0.5"/>
<line x1="393.4" y1="651.89" x2="628.2" y2="651.89" stroke="#ebebeb" stroke-width="0.5"/>
<line x1="393.4" y1="660.62" x2="628.2" y2="660.62" stroke="#ebebeb" stroke-width="0.5"/>
<line x1="393.4" y1="669.35" x2="628.2" y2="669.35" stroke="#ebebeb" stroke-width="0.5"/>
<line x1="393.4" y1="678.08" x2="628.2" y2="678.08" stroke="#ebebeb" stroke-width="0.5"/>
<line x1="393.4" y1="686.81" x2="628.2" y2="686.81" stroke="#ebebeb" stroke-width="0.5"/>
<line x1="393.4" y1="695.54" x2="628.2" y2="695.54" stroke="#ebebeb" stroke-width="0.5"/>
<line x1="393.4" y1="704.27" x2="628.2" y2="704.27" stroke="#ebebeb" stroke-width="0.5"/>
<line x1="393.4" y1="713.00" x2="628.2" y2="713.00" stroke="#ebebeb" stroke-width="0.5"/>
<line x1="393.4" y1="721.73" x2="628.2" y2="721.73" stroke="#ebebeb" stroke-width="0.5"/>
<rect x="404" y="534.53" width="213.70" height="7.73" fill="#9a9ca1"/>
<rect x="404" y="534.53" width="213.70" height="7.73" fill="#c4c5c8"/>
<rect x="404" y="534.53" width="209.21" height="7.73" fill="#9a2d30"/>
<line x1="391.9" y1="538.40" x2="393.4" y2="538.40" stroke="#444" stroke-width="0.5"/>
<text x="391.2" y="540.3" font-size="5.4" fill="#444" text-anchor="end">102581−08</text>
<rect x="404" y="543.26" width="213.70" height="7.73" fill="#9a9ca1"/>
<rect x="404" y="543.26" width="213.70" height="7.73" fill="#c4c5c8"/>
<rect x="404" y="543.26" width="213.70" height="7.73" fill="#9a2d30"/>
<line x1="391.9" y1="547.13" x2="393.4" y2="547.13" stroke="#444" stroke-width="0.5"/>
<text x="391.2" y="549.03" font-size="5.4" fill="#444" text-anchor="end">102581−04</text>
<rect x="404" y="552.00" width="213.70" height="7.73" fill="#9a9ca1"/>
<rect x="404" y="552.00" width="213.70" height="7.73" fill="#c4c5c8"/>
<rect x="404" y="552.00" width="184.21" height="7.73" fill="#9a2d30"/>
<line x1="391.9" y1="555.86" x2="393.4" y2="555.86" stroke="#444" stroke-width="0.5"/>
<text x="391.2" y="557.76" font-size="5.4" fill="#444" text-anchor="end">102581−03</text>
<rect x="404" y="560.73" width="213.70" height="7.73" fill="#9a9ca1"/>
<rect x="404" y="560.73" width="213.70" height="7.73" fill="#c4c5c8"/>
<rect x="404" y="560.73" width="213.70" height="7.73" fill="#9a2d30"/>
<line x1="391.9" y1="564.59" x2="393.4" y2="564.59" stroke="#444" stroke-width="0.5"/>
<text x="391.2" y="566.49" font-size="5.4" fill="#444" text-anchor="end">102581−003−041</text>
<rect x="404" y="569.45" width="213.70" height="7.73" fill="#9a9ca1"/>
<rect x="404" y="569.45" width="193.18" height="7.73" fill="#c4c5c8"/>
<rect x="404" y="569.45" width="96.59" height="7.73" fill="#9a2d30"/>
<line x1="391.9" y1="573.32" x2="393.4" y2="573.32" stroke="#444" stroke-width="0.5"/>
<text x="391.2" y="575.22" font-size="5.4" fill="#444" text-anchor="end">102581−003−040</text>
<rect x="404" y="578.18" width="213.70" height="7.73" fill="#9a9ca1"/>
<rect x="404" y="578.18" width="200.66" height="7.73" fill="#c4c5c8"/>
<rect x="404" y="578.18" width="198.10" height="7.73" fill="#9a2d30"/>
<line x1="391.9" y1="582.05" x2="393.4" y2="582.05" stroke="#444" stroke-width="0.5"/>
<text x="391.2" y="583.95" font-size="5.4" fill="#444" text-anchor="end">102581−003−039</text>
<rect x="404" y="586.91" width="213.70" height="7.73" fill="#9a9ca1"/>
<rect x="404" y="586.91" width="184.64" height="7.73" fill="#c4c5c8"/>
<rect x="404" y="586.91" width="115.18" height="7.73" fill="#9a2d30"/>
<line x1="391.9" y1="590.78" x2="393.4" y2="590.78" stroke="#444" stroke-width="0.5"/>
<text x="391.2" y="592.68" font-size="5.4" fill="#444" text-anchor="end">102581−003−038</text>
<rect x="404" y="595.64" width="213.70" height="7.73" fill="#9a9ca1"/>
<rect x="404" y="595.64" width="213.70" height="7.73" fill="#c4c5c8"/>
<rect x="404" y="595.64" width="184.21" height="7.73" fill="#9a2d30"/>
<line x1="391.9" y1="599.51" x2="393.4" y2="599.51" stroke="#444" stroke-width="0.5"/>
<text x="391.2" y="601.41" font-size="5.4" fill="#444" text-anchor="end">102581−003−037</text>
<rect x="404" y="604.38" width="213.70" height="7.73" fill="#9a9ca1"/>
<rect x="404" y="604.38" width="212.20" height="7.73" fill="#c4c5c8"/>
<rect x="404" y="604.38" width="194.25" height="7.73" fill="#9a2d30"/>
<line x1="391.9" y1="608.24" x2="393.4" y2="608.24" stroke="#444" stroke-width="0.5"/>
<text x="391.2" y="610.14" font-size="5.4" fill="#444" text-anchor="end">102581−003−035</text>
<rect x="404" y="613.11" width="213.70" height="7.73" fill="#9a9ca1"/>
<rect x="404" y="613.11" width="213.70" height="7.73" fill="#c4c5c8"/>
<rect x="404" y="613.11" width="203.23" height="7.73" fill="#9a2d30"/>
<line x1="391.9" y1="616.97" x2="393.4" y2="616.97" stroke="#444" stroke-width="0.5"/>
<text x="391.2" y="618.87" font-size="5.4" fill="#444" text-anchor="end">102581−003−034</text>
<rect x="404" y="621.84" width="213.70" height="7.73" fill="#9a9ca1"/>
<rect x="404" y="621.84" width="213.70" height="7.73" fill="#c4c5c8"/>
<rect x="404" y="621.84" width="212.85" height="7.73" fill="#9a2d30"/>
<line x1="391.9" y1="625.70" x2="393.4" y2="625.70" stroke="#444" stroke-width="0.5"/>
<text x="391.2" y="627.6" font-size="5.4" fill="#444" text-anchor="end">102581−003−033</text>
<rect x="404" y="630.56" width="213.70" height="7.73" fill="#9a9ca1"/>
<rect x="404" y="630.56" width="213.70" height="7.73" fill="#c4c5c8"/>
<rect x="404" y="630.56" width="210.71" height="7.73" fill="#9a2d30"/>
<line x1="391.9" y1="634.43" x2="393.4" y2="634.43" stroke="#444" stroke-width="0.5"/>
<text x="391.2" y="636.33" font-size="5.4" fill="#444" text-anchor="end">102581−003−032</text>
<rect x="404" y="639.29" width="213.70" height="7.73" fill="#9a9ca1"/>
<rect x="404" y="639.29" width="175.66" height="7.73" fill="#c4c5c8"/>
<rect x="404" y="639.29" width="174.59" height="7.73" fill="#9a2d30"/>
<line x1="391.9" y1="643.16" x2="393.4" y2="643.16" stroke="#444" stroke-width="0.5"/>
<text x="391.2" y="645.06" font-size="5.4" fill="#444" text-anchor="end">102581−003−031</text>
<rect x="404" y="648.02" width="213.70" height="7.73" fill="#9a9ca1"/>
<rect x="404" y="648.02" width="208.14" height="7.73" fill="#c4c5c8"/>
<rect x="404" y="648.02" width="196.60" height="7.73" fill="#9a2d30"/>
<line x1="391.9" y1="651.89" x2="393.4" y2="651.89" stroke="#444" stroke-width="0.5"/>
<text x="391.2" y="653.79" font-size="5.4" fill="#444" text-anchor="end">102581−003−030</text>
<rect x="404" y="656.75" width="213.70" height="7.73" fill="#9a9ca1"/>
<rect x="404" y="656.75" width="205.79" height="7.73" fill="#c4c5c8"/>
<rect x="404" y="656.75" width="197.25" height="7.73" fill="#9a2d30"/>
<line x1="391.9" y1="660.62" x2="393.4" y2="660.62" stroke="#444" stroke-width="0.5"/>
<text x="391.2" y="662.52" font-size="5.4" fill="#444" text-anchor="end">102581−003−029</text>
<rect x="404" y="665.49" width="213.70" height="7.73" fill="#9a9ca1"/>
<rect x="404" y="665.49" width="205.79" height="7.73" fill="#c4c5c8"/>
<rect x="404" y="665.49" width="204.72" height="7.73" fill="#9a2d30"/>
<line x1="391.9" y1="669.35" x2="393.4" y2="669.35" stroke="#444" stroke-width="0.5"/>
<text x="391.2" y="671.25" font-size="5.4" fill="#444" text-anchor="end">102581−003−028</text>
<rect x="404" y="674.21" width="213.70" height="7.73" fill="#9a9ca1"/>
<rect x="404" y="674.21" width="212.20" height="7.73" fill="#c4c5c8"/>
<rect x="404" y="674.21" width="206.22" height="7.73" fill="#9a2d30"/>
<line x1="391.9" y1="678.08" x2="393.4" y2="678.08" stroke="#444" stroke-width="0.5"/>
<text x="391.2" y="679.98" font-size="5.4" fill="#444" text-anchor="end">102581−003−027</text>
<rect x="404" y="682.94" width="213.70" height="7.73" fill="#9a9ca1"/>
<rect x="404" y="682.94" width="190.83" height="7.73" fill="#c4c5c8"/>
<rect x="404" y="682.94" width="190.19" height="7.73" fill="#9a2d30"/>
<line x1="391.9" y1="686.81" x2="393.4" y2="686.81" stroke="#444" stroke-width="0.5"/>
<text x="391.2" y="688.71" font-size="5.4" fill="#444" text-anchor="end">102581−003−026</text>
<rect x="404" y="691.67" width="213.70" height="7.73" fill="#9a9ca1"/>
<rect x="404" y="691.67" width="213.70" height="7.73" fill="#c4c5c8"/>
<rect x="404" y="691.67" width="213.70" height="7.73" fill="#9a2d30"/>
<line x1="391.9" y1="695.54" x2="393.4" y2="695.54" stroke="#444" stroke-width="0.5"/>
<text x="391.2" y="697.44" font-size="5.4" fill="#444" text-anchor="end">102581−003−025</text>
<rect x="404" y="700.40" width="213.70" height="7.73" fill="#9a9ca1"/>
<rect x="404" y="700.40" width="213.70" height="7.73" fill="#c4c5c8"/>
<rect x="404" y="700.40" width="212.20" height="7.73" fill="#9a2d30"/>
<line x1="391.9" y1="704.27" x2="393.4" y2="704.27" stroke="#444" stroke-width="0.5"/>
<text x="391.2" y="706.17" font-size="5.4" fill="#444" text-anchor="end">102581−002−053</text>
<rect x="404" y="709.13" width="213.70" height="7.73" fill="#9a9ca1"/>
<rect x="404" y="709.13" width="166.26" height="7.73" fill="#c4c5c8"/>
<rect x="404" y="709.13" width="101.08" height="7.73" fill="#9a2d30"/>
<line x1="391.9" y1="713.00" x2="393.4" y2="713.00" stroke="#444" stroke-width="0.5"/>
<text x="391.2" y="714.9" font-size="5.4" fill="#444" text-anchor="end">102581−002−052</text>
<rect x="404" y="717.87" width="213.70" height="7.73" fill="#9a9ca1"/>
<rect x="404" y="717.87" width="213.70" height="7.73" fill="#c4c5c8"/>
<rect x="404" y="717.87" width="205.15" height="7.73" fill="#9a2d30"/>
<line x1="391.9" y1="721.73" x2="393.4" y2="721.73" stroke="#444" stroke-width="0.5"/>
<text x="391.2" y="723.63" font-size="5.4" fill="#444" text-anchor="end">102581−002−051</text>
<line x1="404.00" y1="726.6" x2="404.00" y2="728.1" stroke="#444" stroke-width="0.5"/>
<text x="404.0" y="733.2" font-size="5.0" fill="#444" text-anchor="middle">0</text>
<line x1="457.43" y1="726.6" x2="457.43" y2="728.1" stroke="#444" stroke-width="0.5"/>
<text x="457.43" y="733.2" font-size="5.0" fill="#444" text-anchor="middle">25</text>
<line x1="510.85" y1="726.6" x2="510.85" y2="728.1" stroke="#444" stroke-width="0.5"/>
<text x="510.85" y="733.2" font-size="5.0" fill="#444" text-anchor="middle">50</text>
<line x1="564.28" y1="726.6" x2="564.28" y2="728.1" stroke="#444" stroke-width="0.5"/>
<text x="564.28" y="733.2" font-size="5.0" fill="#444" text-anchor="middle">75</text>
<line x1="617.70" y1="726.6" x2="617.70" y2="728.1" stroke="#444" stroke-width="0.5"/>
<text x="617.7" y="733.2" font-size="5.0" fill="#444" text-anchor="middle">100</text>
<text x="510.85" y="740.8000000000001" font-size="6.2" fill="#222" text-anchor="middle">Cell Type %</text>
<text x="636.5" y="617.9" font-size="6.1" fill="#222">Cell Type</text>
<rect x="636.9" y="622.05" width="8" height="7.7" fill="#8e8e92"/>
<text x="648.9" y="627.6999999999999" font-size="5.2" fill="#333">B cells</text>
<rect x="636.9" y="630.75" width="8" height="7.7" fill="#bfbfc1"/>
<text x="648.9" y="636.4" font-size="5.2" fill="#333">T/NK cells</text>
<rect x="636.9" y="639.85" width="8" height="7.7" fill="#a5282c"/>
<text x="648.9" y="645.5" font-size="5.2" fill="#333">Myeloid cells</text>
<text x="4.8" y="773.4" font-size="17.5" fill="#111" font-weight="bold">f</text>
<text x="41.5" y="772.5" font-size="10.9" fill="#222">CD14+ Monocyte percentage with flow cytometry and ECC</text>
<rect x="46.3" y="782.5" width="233.09999999999997" height="193.60000000000002" fill="#fff"/>
<line x1="83.15" y1="782.5" x2="83.15" y2="976.1" stroke="#f2f2f2" stroke-width="0.4"/>
<line x1="46.3" y1="945.14" x2="279.4" y2="945.14" stroke="#f2f2f2" stroke-width="0.4"/>
<line x1="136.25" y1="782.5" x2="136.25" y2="976.1" stroke="#f2f2f2" stroke-width="0.4"/>
<line x1="46.3" y1="901.21" x2="279.4" y2="901.21" stroke="#f2f2f2" stroke-width="0.4"/>
<line x1="189.35" y1="782.5" x2="189.35" y2="976.1" stroke="#f2f2f2" stroke-width="0.4"/>
<line x1="46.3" y1="857.29" x2="279.4" y2="857.29" stroke="#f2f2f2" stroke-width="0.4"/>
<line x1="242.45" y1="782.5" x2="242.45" y2="976.1" stroke="#f2f2f2" stroke-width="0.4"/>
<line x1="46.3" y1="813.36" x2="279.4" y2="813.36" stroke="#f2f2f2" stroke-width="0.4"/>
<line x1="56.60" y1="782.5" x2="56.60" y2="976.1" stroke="#e4e4e4" stroke-width="0.6"/>
<line x1="46.3" y1="967.10" x2="279.4" y2="967.10" stroke="#e4e4e4" stroke-width="0.6"/>
<line x1="109.70" y1="782.5" x2="109.70" y2="976.1" stroke="#e4e4e4" stroke-width="0.6"/>
<line x1="46.3" y1="923.17" x2="279.4" y2="923.17" stroke="#e4e4e4" stroke-width="0.6"/>
<line x1="162.80" y1="782.5" x2="162.80" y2="976.1" stroke="#e4e4e4" stroke-width="0.6"/>
<line x1="46.3" y1="879.25" x2="279.4" y2="879.25" stroke="#e4e4e4" stroke-width="0.6"/>
<line x1="215.90" y1="782.5" x2="215.90" y2="976.1" stroke="#e4e4e4" stroke-width="0.6"/>
<line x1="46.3" y1="835.33" x2="279.4" y2="835.33" stroke="#e4e4e4" stroke-width="0.6"/>
<line x1="269.00" y1="782.5" x2="269.00" y2="976.1" stroke="#e4e4e4" stroke-width="0.6"/>
<line x1="46.3" y1="791.40" x2="279.4" y2="791.40" stroke="#e4e4e4" stroke-width="0.6"/>
<polygon points="59,923.4 68.7,917.4 78.1,909.9 87.5,902.4 96.8,893 106.2,879.9 115.6,867.7 124.9,855.6 134.3,844.3 143.7,833.1 153,820 162.4,806.9 172.7,794.7 172.7,857.4 162.4,863.1 153,868.7 143.7,874.3 134.3,881.8 124.9,889.3 115.6,897.7 106.2,906.1 96.8,915.5 87.5,926.8 78.1,938 68.7,949.2 59,963.3" fill="#c9c9c9" opacity="0.85"/>
<line x1="48.10" y1="974.13" x2="276.65" y2="785.07" stroke="#b0b0b0" stroke-width="0.6" stroke-dasharray="2.2,1.6"/>
<line x1="58.3" y1="944.6" x2="206.4" y2="790.8" stroke="#111" stroke-width="0.7"/>
<ellipse cx="108.4" cy="791.9" rx="2.1" ry="1.7" fill="#000"/>
<ellipse cx="210" cy="790.8" rx="2.1" ry="1.7" fill="#000"/>
<ellipse cx="204.3" cy="808.8" rx="2.1" ry="1.7" fill="#000"/>
<ellipse cx="81.1" cy="854.6" rx="2.1" ry="1.7" fill="#000"/>
<ellipse cx="115.6" cy="848.4" rx="2.1" ry="1.7" fill="#000"/>
<ellipse cx="116.7" cy="851" rx="2.1" ry="1.7" fill="#000"/>
<ellipse cx="178" cy="879.4" rx="2.1" ry="1.7" fill="#000"/>
<ellipse cx="96.6" cy="884.5" rx="2.1" ry="1.7" fill="#000"/>
<ellipse cx="96.6" cy="893.5" rx="2.1" ry="1.7" fill="#000"/>
<ellipse cx="84.7" cy="904.3" rx="2.1" ry="1.7" fill="#000"/>
<ellipse cx="98.4" cy="907.5" rx="2.1" ry="1.7" fill="#000"/>
<ellipse cx="87.2" cy="920.5" rx="2.1" ry="1.7" fill="#000"/>
<ellipse cx="68.8" cy="933.5" rx="2.1" ry="1.7" fill="#000"/>
<ellipse cx="58.7" cy="942.5" rx="2.1" ry="1.7" fill="#000"/>
<ellipse cx="87.9" cy="945.7" rx="2.1" ry="1.7" fill="#000"/>
<ellipse cx="86.8" cy="946.8" rx="2.1" ry="1.7" fill="#000"/>
<ellipse cx="56.2" cy="964.8" rx="2.1" ry="1.7" fill="#000"/>
<ellipse cx="56.2" cy="967.3" rx="2.1" ry="1.7" fill="#000"/>
<ellipse cx="60.5" cy="967.3" rx="2.1" ry="1.7" fill="#000"/>
<rect x="46.3" y="782.5" width="233.09999999999997" height="193.60000000000002" fill="none" stroke="#333" stroke-width="0.7"/>
<line x1="56.60" y1="976.1" x2="56.60" y2="977.6" stroke="#333" stroke-width="0.5"/>
<text x="56.6" y="981.9" font-size="4.9" fill="#444" text-anchor="middle">0</text>
<line x1="44.8" y1="967.10" x2="46.3" y2="967.10" stroke="#333" stroke-width="0.5"/>
<text x="43.0" y="968.9" font-size="4.9" fill="#444" text-anchor="end">0</text>
<line x1="109.70" y1="976.1" x2="109.70" y2="977.6" stroke="#333" stroke-width="0.5"/>
<text x="109.7" y="981.9" font-size="4.9" fill="#444" text-anchor="middle">25</text>
<line x1="44.8" y1="923.17" x2="46.3" y2="923.17" stroke="#333" stroke-width="0.5"/>
<text x="43.0" y="924.97" font-size="4.9" fill="#444" text-anchor="end">25</text>
<line x1="162.80" y1="976.1" x2="162.80" y2="977.6" stroke="#333" stroke-width="0.5"/>
<text x="162.8" y="981.9" font-size="4.9" fill="#444" text-anchor="middle">50</text>
<line x1="44.8" y1="879.25" x2="46.3" y2="879.25" stroke="#333" stroke-width="0.5"/>
<text x="43.0" y="881.05" font-size="4.9" fill="#444" text-anchor="end">50</text>
<line x1="215.90" y1="976.1" x2="215.90" y2="977.6" stroke="#333" stroke-width="0.5"/>
<text x="215.9" y="981.9" font-size="4.9" fill="#444" text-anchor="middle">75</text>
<line x1="44.8" y1="835.33" x2="46.3" y2="835.33" stroke="#333" stroke-width="0.5"/>
<text x="43.0" y="837.12" font-size="4.9" fill="#444" text-anchor="end">75</text>
<line x1="269.00" y1="976.1" x2="269.00" y2="977.6" stroke="#333" stroke-width="0.5"/>
<text x="269.0" y="981.9" font-size="4.9" fill="#444" text-anchor="middle">100</text>
<line x1="44.8" y1="791.40" x2="46.3" y2="791.40" stroke="#333" stroke-width="0.5"/>
<text x="43.0" y="793.2" font-size="4.9" fill="#444" text-anchor="end">100</text>
<text x="163.9" y="989.2" font-size="6.4" fill="#222" text-anchor="middle">Monocytic % (EuroFlow)</text>
<text x="28.8" y="877" font-size="6.3" fill="#222" text-anchor="middle" transform="rotate(-90 28.8 877)">CD14+ Monocyte % (ECC)</text>
<text x="199.6" y="967" font-size="6.2" fill="#222">R</text>
<text x="204.6" y="964.2" font-size="3.4" fill="#222">2</text>
<text x="208.5" y="967" font-size="6.2" fill="#222">= 0.64</text>
<text x="236.8" y="967" font-size="6.2" fill="#222">P &lt; 0.001</text>
<text x="373" y="772.3" font-size="17.5" fill="#111" font-weight="bold">g</text>
<text x="399.5" y="772.3" font-size="10.9" fill="#222">ECCs of TARGET-AML&#160; and -ALL</text>
<line x1="405.84" y1="946.69" x2="582.33" y2="946.69" stroke="#e9e9e9" stroke-width="0.45"/>
<line x1="572.49" y1="963.70" x2="484.56" y2="810.61" stroke="#e9e9e9" stroke-width="0.45"/>
<line x1="415.61" y1="963.70" x2="504.17" y2="810.61" stroke="#e9e9e9" stroke-width="0.45"/>
<line x1="415.68" y1="929.68" x2="572.56" y2="929.68" stroke="#e9e9e9" stroke-width="0.45"/>
<line x1="552.88" y1="963.70" x2="474.72" y2="827.62" stroke="#e9e9e9" stroke-width="0.45"/>
<line x1="435.22" y1="963.70" x2="513.94" y2="827.62" stroke="#e9e9e9" stroke-width="0.45"/>
<line x1="425.52" y1="912.67" x2="562.79" y2="912.67" stroke="#e9e9e9" stroke-width="0.45"/>
<line x1="533.27" y1="963.70" x2="464.88" y2="844.63" stroke="#e9e9e9" stroke-width="0.45"/>
<line x1="454.83" y1="963.70" x2="523.71" y2="844.63" stroke="#e9e9e9" stroke-width="0.45"/>
<line x1="435.36" y1="895.66" x2="553.02" y2="895.66" stroke="#e9e9e9" stroke-width="0.45"/>
<line x1="513.66" y1="963.70" x2="455.04" y2="861.64" stroke="#e9e9e9" stroke-width="0.45"/>
<line x1="474.44" y1="963.70" x2="533.48" y2="861.64" stroke="#e9e9e9" stroke-width="0.45"/>
<line x1="445.20" y1="878.65" x2="543.25" y2="878.65" stroke="#e9e9e9" stroke-width="0.45"/>
<line x1="494.05" y1="963.70" x2="445.20" y2="878.65" stroke="#e9e9e9" stroke-width="0.45"/>
<line x1="494.05" y1="963.70" x2="543.25" y2="878.65" stroke="#e9e9e9" stroke-width="0.45"/>
<line x1="455.04" y1="861.64" x2="533.48" y2="861.64" stroke="#e9e9e9" stroke-width="0.45"/>
<line x1="474.44" y1="963.70" x2="435.36" y2="895.66" stroke="#e9e9e9" stroke-width="0.45"/>
<line x1="513.66" y1="963.70" x2="553.02" y2="895.66" stroke="#e9e9e9" stroke-width="0.45"/>
<line x1="464.88" y1="844.63" x2="523.71" y2="844.63" stroke="#e9e9e9" stroke-width="0.45"/>
<line x1="454.83" y1="963.70" x2="425.52" y2="912.67" stroke="#e9e9e9" stroke-width="0.45"/>
<line x1="533.27" y1="963.70" x2="562.79" y2="912.67" stroke="#e9e9e9" stroke-width="0.45"/>
<line x1="474.72" y1="827.62" x2="513.94" y2="827.62" stroke="#e9e9e9" stroke-width="0.45"/>
<line x1="435.22" y1="963.70" x2="415.68" y2="929.68" stroke="#e9e9e9" stroke-width="0.45"/>
<line x1="552.88" y1="963.70" x2="572.56" y2="929.68" stroke="#e9e9e9" stroke-width="0.45"/>
<line x1="484.56" y1="810.61" x2="504.17" y2="810.61" stroke="#e9e9e9" stroke-width="0.45"/>
<line x1="415.61" y1="963.70" x2="405.84" y2="946.69" stroke="#e9e9e9" stroke-width="0.45"/>
<line x1="572.49" y1="963.70" x2="582.33" y2="946.69" stroke="#e9e9e9" stroke-width="0.45"/>
<circle cx="527.2" cy="923.3" r="1.55" fill="#921b1b"/>
<circle cx="519.9" cy="902.2" r="1.55" fill="#921b1b"/>
<circle cx="554.7" cy="947.8" r="1.55" fill="#f0b42f"/>
<circle cx="580.6" cy="962.4" r="1.55" fill="#f0b42f"/>
<circle cx="505.0" cy="922.0" r="1.55" fill="#921b1b"/>
<circle cx="585.1" cy="958.5" r="1.55" fill="#f0b42f"/>
<circle cx="556.4" cy="919.2" r="1.55" fill="#f0b42f"/>
<circle cx="464.4" cy="953.2" r="1.55" fill="#921b1b"/>
<circle cx="488.2" cy="824.9" r="1.55" fill="#15a5c3"/>
<circle cx="497.3" cy="916.9" r="1.55" fill="#921b1b"/>
<circle cx="488.0" cy="907.6" r="1.55" fill="#921b1b"/>
<circle cx="493.0" cy="902.8" r="1.55" fill="#15a5c3"/>
<circle cx="510.9" cy="874.3" r="1.55" fill="#15a5c3"/>
<circle cx="508.7" cy="887.8" r="1.55" fill="#15a5c3"/>
<circle cx="569.4" cy="957.9" r="1.55" fill="#f0b42f"/>
<circle cx="521.1" cy="860.9" r="1.55" fill="#15a5c3"/>
<circle cx="506.0" cy="861.2" r="1.55" fill="#15a5c3"/>
<circle cx="495.5" cy="795.7" r="1.55" fill="#15a5c3"/>
<circle cx="529.7" cy="862.0" r="1.55" fill="#15a5c3"/>
<circle cx="444.1" cy="884.1" r="1.55" fill="#15a5c3"/>
<circle cx="487.7" cy="937.2" r="1.55" fill="#921b1b"/>
<circle cx="586.8" cy="961.1" r="1.55" fill="#f0b42f"/>
<circle cx="507.6" cy="949.6" r="1.55" fill="#921b1b"/>
<circle cx="469.4" cy="880.8" r="1.55" fill="#15a5c3"/>
<circle cx="518.6" cy="942.2" r="1.55" fill="#921b1b"/>
<circle cx="585.2" cy="953.6" r="1.55" fill="#f0b42f"/>
<circle cx="572.1" cy="955.2" r="1.55" fill="#f0b42f"/>
<circle cx="498.1" cy="907.1" r="1.55" fill="#921b1b"/>
<circle cx="544.6" cy="948.3" r="1.55" fill="#f0b42f"/>
<circle cx="500.5" cy="913.0" r="1.55" fill="#15a5c3"/>
<circle cx="567.1" cy="950.7" r="1.55" fill="#f0b42f"/>
<circle cx="486.2" cy="897.4" r="1.55" fill="#15a5c3"/>
<circle cx="571.2" cy="942.2" r="1.55" fill="#f0b42f"/>
<circle cx="478.6" cy="911.8" r="1.55" fill="#921b1b"/>
<circle cx="478.9" cy="873.8" r="1.55" fill="#f0b42f"/>
<circle cx="500.4" cy="949.5" r="1.55" fill="#921b1b"/>
<circle cx="532.6" cy="936.7" r="1.55" fill="#921b1b"/>
<circle cx="520.9" cy="898.4" r="1.55" fill="#921b1b"/>
<circle cx="580.4" cy="960.1" r="1.55" fill="#f0b42f"/>
<circle cx="519.4" cy="877.5" r="1.55" fill="#15a5c3"/>
<circle cx="586.9" cy="957.9" r="1.55" fill="#f0b42f"/>
<circle cx="582.0" cy="959.8" r="1.55" fill="#f0b42f"/>
<circle cx="582.4" cy="962.4" r="1.55" fill="#f0b42f"/>
<circle cx="489.1" cy="907.1" r="1.55" fill="#15a5c3"/>
<circle cx="509.1" cy="949.6" r="1.55" fill="#921b1b"/>
<circle cx="518.3" cy="849.9" r="1.55" fill="#15a5c3"/>
<circle cx="585.7" cy="962.3" r="1.55" fill="#f0b42f"/>
<circle cx="589.1" cy="958.7" r="1.55" fill="#f0b42f"/>
<circle cx="427.1" cy="932.1" r="1.55" fill="#15a5c3"/>
<circle cx="459.6" cy="958.2" r="1.55" fill="#921b1b"/>
<circle cx="495.7" cy="807.0" r="1.55" fill="#15a5c3"/>
<circle cx="530.9" cy="961.0" r="1.55" fill="#921b1b"/>
<circle cx="461.0" cy="858.8" r="1.55" fill="#15a5c3"/>
<circle cx="579.5" cy="957.4" r="1.55" fill="#f0b42f"/>
<circle cx="513.0" cy="876.8" r="1.55" fill="#921b1b"/>
<circle cx="570.2" cy="956.0" r="1.55" fill="#f0b42f"/>
<circle cx="549.1" cy="956.5" r="1.55" fill="#f0b42f"/>
<circle cx="527.0" cy="898.3" r="1.55" fill="#921b1b"/>
<circle cx="489.7" cy="901.7" r="1.55" fill="#921b1b"/>
<circle cx="459.7" cy="877.4" r="1.55" fill="#15a5c3"/>
<circle cx="583.5" cy="960.9" r="1.55" fill="#f0b42f"/>
<circle cx="488.5" cy="860.5" r="1.55" fill="#f0b42f"/>
<circle cx="583.4" cy="959.9" r="1.55" fill="#f0b42f"/>
<circle cx="455.9" cy="908.1" r="1.55" fill="#921b1b"/>
<circle cx="577.2" cy="961.4" r="1.55" fill="#f0b42f"/>
<circle cx="578.9" cy="959.5" r="1.55" fill="#f0b42f"/>
<circle cx="469.2" cy="958.6" r="1.55" fill="#921b1b"/>
<circle cx="518.2" cy="839.6" r="1.55" fill="#15a5c3"/>
<circle cx="476.4" cy="872.0" r="1.55" fill="#921b1b"/>
<circle cx="440.3" cy="898.1" r="1.55" fill="#15a5c3"/>
<circle cx="469.6" cy="951.4" r="1.55" fill="#921b1b"/>
<circle cx="574.6" cy="958.3" r="1.55" fill="#f0b42f"/>
<circle cx="508.0" cy="864.1" r="1.55" fill="#15a5c3"/>
<circle cx="505.8" cy="947.4" r="1.55" fill="#921b1b"/>
<circle cx="500.5" cy="869.4" r="1.55" fill="#15a5c3"/>
<circle cx="472.9" cy="837.1" r="1.55" fill="#15a5c3"/>
<circle cx="447.9" cy="926.9" r="1.55" fill="#921b1b"/>
<circle cx="523.2" cy="961.1" r="1.55" fill="#921b1b"/>
<circle cx="579.1" cy="956.7" r="1.55" fill="#f0b42f"/>
<circle cx="588.1" cy="962.8" r="1.55" fill="#f0b42f"/>
<circle cx="579.3" cy="954.7" r="1.55" fill="#f0b42f"/>
<circle cx="572.2" cy="960.4" r="1.55" fill="#f0b42f"/>
<circle cx="492.1" cy="835.1" r="1.55" fill="#15a5c3"/>
<circle cx="488.1" cy="814.6" r="1.55" fill="#15a5c3"/>
<circle cx="559.1" cy="960.0" r="1.55" fill="#f0b42f"/>
<circle cx="545.9" cy="962.9" r="1.55" fill="#921b1b"/>
<circle cx="507.6" cy="885.4" r="1.55" fill="#921b1b"/>
<circle cx="493.9" cy="955.3" r="1.55" fill="#921b1b"/>
<circle cx="517.9" cy="851.3" r="1.55" fill="#15a5c3"/>
<circle cx="479.8" cy="895.4" r="1.55" fill="#15a5c3"/>
<circle cx="458.7" cy="899.3" r="1.55" fill="#15a5c3"/>
<circle cx="576.9" cy="962.9" r="1.55" fill="#f0b42f"/>
<circle cx="445.5" cy="932.9" r="1.55" fill="#921b1b"/>
<circle cx="505.5" cy="851.3" r="1.55" fill="#15a5c3"/>
<circle cx="556.6" cy="960.6" r="1.55" fill="#f0b42f"/>
<circle cx="564.3" cy="940.9" r="1.55" fill="#f0b42f"/>
<circle cx="490.8" cy="907.5" r="1.55" fill="#15a5c3"/>
<circle cx="488.7" cy="861.6" r="1.55" fill="#921b1b"/>
<circle cx="549.2" cy="957.2" r="1.55" fill="#f0b42f"/>
<circle cx="476.1" cy="935.8" r="1.55" fill="#921b1b"/>
<circle cx="572.2" cy="943.0" r="1.55" fill="#f0b42f"/>
<circle cx="560.1" cy="941.2" r="1.55" fill="#f0b42f"/>
<circle cx="579.3" cy="962.2" r="1.55" fill="#f0b42f"/>
<circle cx="473.4" cy="857.9" r="1.55" fill="#15a5c3"/>
<circle cx="512.5" cy="868.0" r="1.55" fill="#15a5c3"/>
<circle cx="562.0" cy="947.0" r="1.55" fill="#f0b42f"/>
<circle cx="472.8" cy="869.7" r="1.55" fill="#15a5c3"/>
<circle cx="489.9" cy="841.7" r="1.55" fill="#15a5c3"/>
<circle cx="509.7" cy="944.5" r="1.55" fill="#921b1b"/>
<circle cx="478.7" cy="891.0" r="1.55" fill="#921b1b"/>
<circle cx="506.1" cy="962.3" r="1.55" fill="#921b1b"/>
<circle cx="494.6" cy="814.7" r="1.55" fill="#15a5c3"/>
<circle cx="503.4" cy="869.6" r="1.55" fill="#15a5c3"/>
<circle cx="550.3" cy="954.4" r="1.55" fill="#f0b42f"/>
<circle cx="514.8" cy="954.8" r="1.55" fill="#921b1b"/>
<circle cx="488.8" cy="811.6" r="1.55" fill="#15a5c3"/>
<circle cx="481.2" cy="948.0" r="1.55" fill="#921b1b"/>
<circle cx="520.1" cy="961.3" r="1.55" fill="#921b1b"/>
<circle cx="493.4" cy="926.8" r="1.55" fill="#921b1b"/>
<circle cx="573.3" cy="957.3" r="1.55" fill="#f0b42f"/>
<circle cx="498.3" cy="879.4" r="1.55" fill="#921b1b"/>
<circle cx="576.2" cy="961.9" r="1.55" fill="#f0b42f"/>
<circle cx="484.0" cy="920.9" r="1.55" fill="#921b1b"/>
<circle cx="562.9" cy="939.8" r="1.55" fill="#f0b42f"/>
<circle cx="486.1" cy="824.8" r="1.55" fill="#15a5c3"/>
<circle cx="494.3" cy="797.1" r="1.55" fill="#15a5c3"/>
<circle cx="489.5" cy="863.5" r="1.55" fill="#921b1b"/>
<circle cx="483.6" cy="899.7" r="1.55" fill="#15a5c3"/>
<circle cx="516.3" cy="959.7" r="1.55" fill="#921b1b"/>
<circle cx="583.0" cy="956.0" r="1.55" fill="#f0b42f"/>
<circle cx="521.6" cy="842.1" r="1.55" fill="#15a5c3"/>
<circle cx="489.2" cy="838.7" r="1.55" fill="#921b1b"/>
<circle cx="545.2" cy="904.8" r="1.55" fill="#f0b42f"/>
<circle cx="574.7" cy="956.0" r="1.55" fill="#f0b42f"/>
<circle cx="590.9" cy="962.4" r="1.55" fill="#f0b42f"/>
<circle cx="455.2" cy="950.1" r="1.55" fill="#921b1b"/>
<circle cx="494.2" cy="957.3" r="1.55" fill="#921b1b"/>
<circle cx="462.2" cy="902.7" r="1.55" fill="#921b1b"/>
<circle cx="467.9" cy="893.0" r="1.55" fill="#921b1b"/>
<circle cx="518.2" cy="942.7" r="1.55" fill="#921b1b"/>
<circle cx="498.8" cy="866.0" r="1.55" fill="#921b1b"/>
<circle cx="493.3" cy="818.4" r="1.55" fill="#15a5c3"/>
<circle cx="446.2" cy="956.5" r="1.55" fill="#921b1b"/>
<circle cx="425.0" cy="922.5" r="1.55" fill="#15a5c3"/>
<circle cx="491.5" cy="948.9" r="1.55" fill="#921b1b"/>
<circle cx="442.1" cy="961.0" r="1.55" fill="#921b1b"/>
<circle cx="484.7" cy="854.2" r="1.55" fill="#15a5c3"/>
<circle cx="584.8" cy="956.4" r="1.55" fill="#f0b42f"/>
<circle cx="522.3" cy="852.3" r="1.55" fill="#15a5c3"/>
<circle cx="546.2" cy="955.8" r="1.55" fill="#921b1b"/>
<circle cx="496.6" cy="879.6" r="1.55" fill="#15a5c3"/>
<circle cx="499.6" cy="947.4" r="1.55" fill="#921b1b"/>
<circle cx="521.4" cy="954.8" r="1.55" fill="#921b1b"/>
<circle cx="535.0" cy="949.5" r="1.55" fill="#921b1b"/>
<circle cx="583.8" cy="961.6" r="1.55" fill="#f0b42f"/>
<circle cx="580.6" cy="958.2" r="1.55" fill="#f0b42f"/>
<circle cx="502.2" cy="820.0" r="1.55" fill="#15a5c3"/>
<circle cx="538.5" cy="920.0" r="1.55" fill="#921b1b"/>
<circle cx="507.7" cy="904.9" r="1.55" fill="#921b1b"/>
<circle cx="578.4" cy="963.3" r="1.55" fill="#f0b42f"/>
<circle cx="481.8" cy="931.8" r="1.55" fill="#921b1b"/>
<circle cx="502.2" cy="873.9" r="1.55" fill="#921b1b"/>
<circle cx="502.8" cy="926.7" r="1.55" fill="#921b1b"/>
<circle cx="577.4" cy="953.6" r="1.55" fill="#f0b42f"/>
<circle cx="560.2" cy="944.2" r="1.55" fill="#f0b42f"/>
<circle cx="439.6" cy="945.7" r="1.55" fill="#921b1b"/>
<circle cx="579.1" cy="953.9" r="1.55" fill="#f0b42f"/>
<circle cx="547.9" cy="954.9" r="1.55" fill="#f0b42f"/>
<circle cx="450.4" cy="931.3" r="1.55" fill="#921b1b"/>
<circle cx="489.4" cy="905.1" r="1.55" fill="#921b1b"/>
<circle cx="563.5" cy="936.7" r="1.55" fill="#f0b42f"/>
<circle cx="564.9" cy="946.3" r="1.55" fill="#f0b42f"/>
<circle cx="494.9" cy="887.3" r="1.55" fill="#921b1b"/>
<circle cx="575.0" cy="956.3" r="1.55" fill="#f0b42f"/>
<circle cx="586.0" cy="956.3" r="1.55" fill="#f0b42f"/>
<circle cx="484.9" cy="842.4" r="1.55" fill="#15a5c3"/>
<circle cx="571.2" cy="954.0" r="1.55" fill="#f0b42f"/>
<circle cx="452.3" cy="925.2" r="1.55" fill="#15a5c3"/>
<circle cx="572.0" cy="943.9" r="1.55" fill="#f0b42f"/>
<circle cx="541.0" cy="886.4" r="1.55" fill="#f0b42f"/>
<circle cx="525.6" cy="903.3" r="1.55" fill="#921b1b"/>
<circle cx="487.3" cy="872.6" r="1.55" fill="#921b1b"/>
<circle cx="488.7" cy="839.3" r="1.55" fill="#15a5c3"/>
<circle cx="495.4" cy="808.3" r="1.55" fill="#15a5c3"/>
<circle cx="577.7" cy="962.3" r="1.55" fill="#f0b42f"/>
<circle cx="577.4" cy="961.4" r="1.55" fill="#f0b42f"/>
<circle cx="585.2" cy="962.1" r="1.55" fill="#f0b42f"/>
<circle cx="571.9" cy="955.7" r="1.55" fill="#f0b42f"/>
<circle cx="465.3" cy="937.5" r="1.55" fill="#921b1b"/>
<circle cx="521.5" cy="960.8" r="1.55" fill="#921b1b"/>
<circle cx="465.3" cy="874.5" r="1.55" fill="#15a5c3"/>
<circle cx="573.2" cy="955.6" r="1.55" fill="#f0b42f"/>
<circle cx="507.7" cy="895.8" r="1.55" fill="#921b1b"/>
<circle cx="472.5" cy="941.3" r="1.55" fill="#921b1b"/>
<circle cx="507.8" cy="870.8" r="1.55" fill="#f0b42f"/>
<circle cx="495.4" cy="857.4" r="1.55" fill="#921b1b"/>
<circle cx="503.9" cy="931.6" r="1.55" fill="#921b1b"/>
<circle cx="459.1" cy="939.3" r="1.55" fill="#15a5c3"/>
<circle cx="558.2" cy="915.7" r="1.55" fill="#f0b42f"/>
<circle cx="490.6" cy="808.2" r="1.55" fill="#15a5c3"/>
<circle cx="568.5" cy="945.8" r="1.55" fill="#f0b42f"/>
<circle cx="575.2" cy="955.1" r="1.55" fill="#f0b42f"/>
<circle cx="576.4" cy="957.0" r="1.55" fill="#f0b42f"/>
<circle cx="504.7" cy="880.0" r="1.55" fill="#15a5c3"/>
<circle cx="520.8" cy="921.7" r="1.55" fill="#921b1b"/>
<circle cx="455.6" cy="955.5" r="1.55" fill="#921b1b"/>
<circle cx="476.6" cy="873.2" r="1.55" fill="#15a5c3"/>
<circle cx="587.0" cy="957.9" r="1.55" fill="#f0b42f"/>
<circle cx="571.0" cy="957.6" r="1.55" fill="#f0b42f"/>
<circle cx="512.0" cy="883.9" r="1.55" fill="#921b1b"/>
<circle cx="583.0" cy="957.8" r="1.55" fill="#f0b42f"/>
<circle cx="494.3" cy="926.4" r="1.55" fill="#921b1b"/>
<circle cx="556.4" cy="957.0" r="1.55" fill="#f0b42f"/>
<circle cx="588.0" cy="962.4" r="1.55" fill="#f0b42f"/>
<circle cx="570.6" cy="957.7" r="1.55" fill="#f0b42f"/>
<circle cx="480.4" cy="950.1" r="1.55" fill="#921b1b"/>
<circle cx="547.9" cy="946.9" r="1.55" fill="#f0b42f"/>
<circle cx="480.1" cy="879.6" r="1.55" fill="#15a5c3"/>
<circle cx="483.8" cy="879.7" r="1.55" fill="#15a5c3"/>
<circle cx="555.5" cy="931.9" r="1.55" fill="#f0b42f"/>
<circle cx="469.8" cy="929.2" r="1.55" fill="#921b1b"/>
<circle cx="436.3" cy="962.3" r="1.55" fill="#921b1b"/>
<circle cx="514.3" cy="937.6" r="1.55" fill="#921b1b"/>
<circle cx="482.2" cy="839.2" r="1.55" fill="#15a5c3"/>
<circle cx="485.5" cy="908.0" r="1.55" fill="#15a5c3"/>
<circle cx="512.3" cy="957.6" r="1.55" fill="#921b1b"/>
<circle cx="589.9" cy="961.7" r="1.55" fill="#f0b42f"/>
<circle cx="441.9" cy="949.6" r="1.55" fill="#921b1b"/>
<circle cx="510.8" cy="889.6" r="1.55" fill="#921b1b"/>
<circle cx="513.3" cy="859.5" r="1.55" fill="#15a5c3"/>
<circle cx="514.3" cy="952.2" r="1.55" fill="#921b1b"/>
<circle cx="472.9" cy="925.1" r="1.55" fill="#15a5c3"/>
<circle cx="494.8" cy="912.5" r="1.55" fill="#921b1b"/>
<circle cx="503.1" cy="949.2" r="1.55" fill="#15a5c3"/>
<circle cx="471.3" cy="948.1" r="1.55" fill="#921b1b"/>
<circle cx="491.3" cy="954.7" r="1.55" fill="#921b1b"/>
<circle cx="442.5" cy="944.7" r="1.55" fill="#921b1b"/>
<circle cx="469.0" cy="924.2" r="1.55" fill="#921b1b"/>
<circle cx="483.0" cy="873.8" r="1.55" fill="#921b1b"/>
<circle cx="577.7" cy="958.6" r="1.55" fill="#f0b42f"/>
<circle cx="544.5" cy="954.4" r="1.55" fill="#921b1b"/>
<circle cx="555.4" cy="943.0" r="1.55" fill="#f0b42f"/>
<circle cx="465.0" cy="884.2" r="1.55" fill="#15a5c3"/>
<circle cx="477.2" cy="844.6" r="1.55" fill="#15a5c3"/>
<circle cx="485.6" cy="955.5" r="1.55" fill="#921b1b"/>
<circle cx="579.9" cy="955.4" r="1.55" fill="#f0b42f"/>
<circle cx="588.9" cy="960.7" r="1.55" fill="#f0b42f"/>
<circle cx="504.4" cy="896.2" r="1.55" fill="#15a5c3"/>
<circle cx="509.8" cy="957.0" r="1.55" fill="#921b1b"/>
<circle cx="563.3" cy="931.5" r="1.55" fill="#f0b42f"/>
<circle cx="519.2" cy="905.9" r="1.55" fill="#921b1b"/>
<circle cx="462.1" cy="911.6" r="1.55" fill="#921b1b"/>
<circle cx="446.2" cy="961.0" r="1.55" fill="#921b1b"/>
<circle cx="540.2" cy="930.0" r="1.55" fill="#921b1b"/>
<circle cx="481.8" cy="865.6" r="1.55" fill="#15a5c3"/>
<circle cx="556.0" cy="959.8" r="1.55" fill="#f0b42f"/>
<circle cx="565.9" cy="960.6" r="1.55" fill="#f0b42f"/>
<circle cx="453.9" cy="960.6" r="1.55" fill="#921b1b"/>
<circle cx="477.9" cy="854.5" r="1.55" fill="#15a5c3"/>
<circle cx="571.9" cy="954.5" r="1.55" fill="#f0b42f"/>
<circle cx="587.5" cy="962.7" r="1.55" fill="#f0b42f"/>
<circle cx="467.5" cy="944.6" r="1.55" fill="#921b1b"/>
<circle cx="448.4" cy="895.2" r="1.55" fill="#15a5c3"/>
<circle cx="502.7" cy="817.0" r="1.55" fill="#15a5c3"/>
<circle cx="485.3" cy="904.8" r="1.55" fill="#15a5c3"/>
<circle cx="486.1" cy="877.9" r="1.55" fill="#15a5c3"/>
<circle cx="581.9" cy="963.1" r="1.55" fill="#f0b42f"/>
<circle cx="586.9" cy="956.6" r="1.55" fill="#f0b42f"/>
<circle cx="585.9" cy="961.4" r="1.55" fill="#f0b42f"/>
<circle cx="469.4" cy="951.3" r="1.55" fill="#921b1b"/>
<circle cx="578.7" cy="960.6" r="1.55" fill="#f0b42f"/>
<circle cx="582.6" cy="961.0" r="1.55" fill="#f0b42f"/>
<circle cx="546.7" cy="953.6" r="1.55" fill="#f0b42f"/>
<circle cx="540.9" cy="891.6" r="1.55" fill="#f0b42f"/>
<circle cx="477.2" cy="875.5" r="1.55" fill="#921b1b"/>
<circle cx="517.8" cy="880.0" r="1.55" fill="#15a5c3"/>
<circle cx="574.9" cy="958.0" r="1.55" fill="#f0b42f"/>
<circle cx="519.3" cy="903.4" r="1.55" fill="#921b1b"/>
<circle cx="454.3" cy="888.6" r="1.55" fill="#15a5c3"/>
<circle cx="484.0" cy="962.6" r="1.55" fill="#921b1b"/>
<circle cx="503.5" cy="819.9" r="1.55" fill="#15a5c3"/>
<circle cx="588.7" cy="961.7" r="1.55" fill="#f0b42f"/>
<circle cx="450.8" cy="933.2" r="1.55" fill="#921b1b"/>
<circle cx="464.6" cy="962.4" r="1.55" fill="#921b1b"/>
<circle cx="497.1" cy="932.8" r="1.55" fill="#921b1b"/>
<circle cx="503.1" cy="904.3" r="1.55" fill="#921b1b"/>
<circle cx="482.0" cy="870.6" r="1.55" fill="#15a5c3"/>
<circle cx="491.5" cy="946.1" r="1.55" fill="#921b1b"/>
<circle cx="473.5" cy="963.5" r="1.55" fill="#921b1b"/>
<circle cx="550.5" cy="949.0" r="1.55" fill="#f0b42f"/>
<circle cx="572.0" cy="960.4" r="1.55" fill="#f0b42f"/>
<circle cx="478.6" cy="854.9" r="1.55" fill="#15a5c3"/>
<circle cx="565.5" cy="920.8" r="1.55" fill="#f0b42f"/>
<circle cx="574.2" cy="958.9" r="1.55" fill="#f0b42f"/>
<circle cx="562.1" cy="963.0" r="1.55" fill="#f0b42f"/>
<circle cx="574.9" cy="960.0" r="1.55" fill="#f0b42f"/>
<circle cx="465.9" cy="958.4" r="1.55" fill="#921b1b"/>
<circle cx="493.0" cy="846.8" r="1.55" fill="#921b1b"/>
<circle cx="578.1" cy="958.9" r="1.55" fill="#f0b42f"/>
<circle cx="551.6" cy="934.8" r="1.55" fill="#f0b42f"/>
<circle cx="550.0" cy="912.3" r="1.55" fill="#f0b42f"/>
<circle cx="501.7" cy="845.1" r="1.55" fill="#15a5c3"/>
<circle cx="440.1" cy="889.1" r="1.55" fill="#15a5c3"/>
<circle cx="575.9" cy="963.4" r="1.55" fill="#f0b42f"/>
<circle cx="437.3" cy="900.5" r="1.55" fill="#15a5c3"/>
<circle cx="583.4" cy="954.6" r="1.55" fill="#f0b42f"/>
<circle cx="470.9" cy="926.2" r="1.55" fill="#921b1b"/>
<circle cx="568.5" cy="953.6" r="1.55" fill="#f0b42f"/>
<circle cx="570.4" cy="955.4" r="1.55" fill="#f0b42f"/>
<circle cx="553.5" cy="919.6" r="1.55" fill="#f0b42f"/>
<circle cx="430.1" cy="908.7" r="1.55" fill="#15a5c3"/>
<circle cx="463.3" cy="956.6" r="1.55" fill="#15a5c3"/>
<circle cx="578.9" cy="963.5" r="1.55" fill="#f0b42f"/>
<circle cx="496.5" cy="870.0" r="1.55" fill="#f0b42f"/>
<circle cx="589.9" cy="963.0" r="1.55" fill="#f0b42f"/>
<circle cx="488.5" cy="932.3" r="1.55" fill="#921b1b"/>
<circle cx="516.5" cy="855.9" r="1.55" fill="#15a5c3"/>
<circle cx="452.0" cy="959.3" r="1.55" fill="#921b1b"/>
<circle cx="477.9" cy="936.6" r="1.55" fill="#921b1b"/>
<circle cx="583.2" cy="957.6" r="1.55" fill="#f0b42f"/>
<circle cx="514.5" cy="847.2" r="1.55" fill="#15a5c3"/>
<circle cx="578.9" cy="959.3" r="1.55" fill="#f0b42f"/>
<circle cx="503.5" cy="868.1" r="1.55" fill="#15a5c3"/>
<circle cx="497.7" cy="887.3" r="1.55" fill="#15a5c3"/>
<circle cx="451.9" cy="950.5" r="1.55" fill="#921b1b"/>
<circle cx="449.3" cy="930.8" r="1.55" fill="#921b1b"/>
<circle cx="566.3" cy="941.1" r="1.55" fill="#f0b42f"/>
<circle cx="533.1" cy="923.3" r="1.55" fill="#921b1b"/>
<circle cx="497.2" cy="928.6" r="1.55" fill="#921b1b"/>
<circle cx="451.2" cy="922.0" r="1.55" fill="#15a5c3"/>
<circle cx="565.1" cy="939.8" r="1.55" fill="#f0b42f"/>
<circle cx="578.4" cy="954.5" r="1.55" fill="#f0b42f"/>
<circle cx="569.0" cy="955.5" r="1.55" fill="#f0b42f"/>
<circle cx="487.0" cy="928.2" r="1.55" fill="#921b1b"/>
<circle cx="479.9" cy="960.2" r="1.55" fill="#921b1b"/>
<circle cx="562.8" cy="939.4" r="1.55" fill="#f0b42f"/>
<circle cx="532.5" cy="927.7" r="1.55" fill="#921b1b"/>
<circle cx="505.8" cy="907.7" r="1.55" fill="#921b1b"/>
<circle cx="496.8" cy="872.6" r="1.55" fill="#15a5c3"/>
<circle cx="558.0" cy="941.9" r="1.55" fill="#f0b42f"/>
<circle cx="481.6" cy="839.2" r="1.55" fill="#15a5c3"/>
<circle cx="525.8" cy="957.4" r="1.55" fill="#921b1b"/>
<circle cx="553.6" cy="954.3" r="1.55" fill="#f0b42f"/>
<circle cx="497.8" cy="905.9" r="1.55" fill="#921b1b"/>
<circle cx="583.4" cy="960.2" r="1.55" fill="#f0b42f"/>
<circle cx="496.5" cy="806.8" r="1.55" fill="#15a5c3"/>
<circle cx="574.7" cy="935.4" r="1.55" fill="#f0b42f"/>
<circle cx="524.3" cy="927.7" r="1.55" fill="#921b1b"/>
<circle cx="589.4" cy="962.3" r="1.55" fill="#f0b42f"/>
<circle cx="477.9" cy="895.2" r="1.55" fill="#921b1b"/>
<circle cx="530.4" cy="869.2" r="1.55" fill="#15a5c3"/>
<circle cx="573.8" cy="957.0" r="1.55" fill="#f0b42f"/>
<circle cx="580.0" cy="958.3" r="1.55" fill="#f0b42f"/>
<circle cx="450.7" cy="922.0" r="1.55" fill="#15a5c3"/>
<circle cx="495.4" cy="795.4" r="1.55" fill="#15a5c3"/>
<circle cx="436.0" cy="938.7" r="1.55" fill="#15a5c3"/>
<circle cx="493.8" cy="820.2" r="1.55" fill="#15a5c3"/>
<circle cx="584.5" cy="955.1" r="1.55" fill="#f0b42f"/>
<circle cx="559.3" cy="917.1" r="1.55" fill="#f0b42f"/>
<circle cx="479.8" cy="950.3" r="1.55" fill="#921b1b"/>
<circle cx="495.3" cy="958.4" r="1.55" fill="#921b1b"/>
<circle cx="533.0" cy="921.5" r="1.55" fill="#921b1b"/>
<circle cx="573.6" cy="958.9" r="1.55" fill="#f0b42f"/>
<circle cx="508.0" cy="895.7" r="1.55" fill="#921b1b"/>
<circle cx="506.6" cy="839.8" r="1.55" fill="#15a5c3"/>
<circle cx="563.9" cy="946.8" r="1.55" fill="#f0b42f"/>
<circle cx="566.1" cy="945.6" r="1.55" fill="#f0b42f"/>
<circle cx="580.9" cy="957.0" r="1.55" fill="#f0b42f"/>
<circle cx="465.8" cy="921.9" r="1.55" fill="#921b1b"/>
<circle cx="490.5" cy="850.4" r="1.55" fill="#f0b42f"/>
<circle cx="502.2" cy="841.3" r="1.55" fill="#15a5c3"/>
<circle cx="451.3" cy="873.4" r="1.55" fill="#15a5c3"/>
<circle cx="586.6" cy="962.1" r="1.55" fill="#f0b42f"/>
<circle cx="562.4" cy="940.0" r="1.55" fill="#f0b42f"/>
<circle cx="580.5" cy="959.2" r="1.55" fill="#f0b42f"/>
<circle cx="484.3" cy="877.8" r="1.55" fill="#15a5c3"/>
<circle cx="577.5" cy="959.6" r="1.55" fill="#f0b42f"/>
<circle cx="556.7" cy="963.0" r="1.55" fill="#f0b42f"/>
<circle cx="572.3" cy="946.3" r="1.55" fill="#f0b42f"/>
<circle cx="516.5" cy="884.4" r="1.55" fill="#15a5c3"/>
<circle cx="585.8" cy="963.2" r="1.55" fill="#f0b42f"/>
<circle cx="464.5" cy="936.5" r="1.55" fill="#15a5c3"/>
<circle cx="567.4" cy="950.7" r="1.55" fill="#f0b42f"/>
<circle cx="537.4" cy="959.3" r="1.55" fill="#921b1b"/>
<circle cx="572.2" cy="941.9" r="1.55" fill="#f0b42f"/>
<circle cx="514.1" cy="951.4" r="1.55" fill="#921b1b"/>
<circle cx="554.7" cy="960.9" r="1.55" fill="#f0b42f"/>
<circle cx="485.5" cy="851.6" r="1.55" fill="#15a5c3"/>
<circle cx="469.7" cy="842.1" r="1.55" fill="#15a5c3"/>
<circle cx="568.0" cy="954.0" r="1.55" fill="#f0b42f"/>
<circle cx="559.8" cy="920.4" r="1.55" fill="#f0b42f"/>
<circle cx="534.5" cy="914.8" r="1.55" fill="#921b1b"/>
<circle cx="475.8" cy="840.0" r="1.55" fill="#15a5c3"/>
<circle cx="437.1" cy="956.8" r="1.55" fill="#921b1b"/>
<circle cx="467.5" cy="855.5" r="1.55" fill="#15a5c3"/>
<circle cx="450.9" cy="939.5" r="1.55" fill="#921b1b"/>
<circle cx="497.7" cy="851.4" r="1.55" fill="#15a5c3"/>
<circle cx="512.8" cy="887.6" r="1.55" fill="#15a5c3"/>
<circle cx="510.7" cy="825.8" r="1.55" fill="#15a5c3"/>
<circle cx="483.9" cy="904.2" r="1.55" fill="#921b1b"/>
<circle cx="566.8" cy="943.5" r="1.55" fill="#f0b42f"/>
<circle cx="588.5" cy="959.8" r="1.55" fill="#f0b42f"/>
<circle cx="580.3" cy="956.2" r="1.55" fill="#f0b42f"/>
<circle cx="576.1" cy="955.8" r="1.55" fill="#f0b42f"/>
<circle cx="535.7" cy="944.8" r="1.55" fill="#921b1b"/>
<circle cx="534.9" cy="914.6" r="1.55" fill="#921b1b"/>
<circle cx="460.1" cy="962.3" r="1.55" fill="#921b1b"/>
<circle cx="580.6" cy="960.6" r="1.55" fill="#f0b42f"/>
<circle cx="490.4" cy="912.6" r="1.55" fill="#15a5c3"/>
<circle cx="464.2" cy="935.9" r="1.55" fill="#921b1b"/>
<circle cx="464.9" cy="962.7" r="1.55" fill="#921b1b"/>
<circle cx="519.3" cy="875.1" r="1.55" fill="#15a5c3"/>
<circle cx="448.2" cy="930.4" r="1.55" fill="#15a5c3"/>
<circle cx="561.5" cy="926.2" r="1.55" fill="#f0b42f"/>
<circle cx="564.6" cy="934.8" r="1.55" fill="#f0b42f"/>
<circle cx="526.2" cy="869.7" r="1.55" fill="#15a5c3"/>
<circle cx="487.1" cy="839.3" r="1.55" fill="#f0b42f"/>
<circle cx="585.2" cy="959.2" r="1.55" fill="#f0b42f"/>
<circle cx="542.6" cy="940.3" r="1.55" fill="#921b1b"/>
<circle cx="493.7" cy="799.0" r="1.55" fill="#15a5c3"/>
<circle cx="459.2" cy="927.5" r="1.55" fill="#921b1b"/>
<circle cx="572.0" cy="958.2" r="1.55" fill="#f0b42f"/>
<circle cx="492.8" cy="882.5" r="1.55" fill="#921b1b"/>
<circle cx="493.4" cy="916.5" r="1.55" fill="#921b1b"/>
<circle cx="579.7" cy="960.0" r="1.55" fill="#f0b42f"/>
<circle cx="589.9" cy="963.4" r="1.55" fill="#f0b42f"/>
<circle cx="496.9" cy="807.2" r="1.55" fill="#15a5c3"/>
<circle cx="502.4" cy="896.5" r="1.55" fill="#921b1b"/>
<circle cx="485.1" cy="812.2" r="1.55" fill="#15a5c3"/>
<circle cx="464.8" cy="935.1" r="1.55" fill="#921b1b"/>
<circle cx="577.9" cy="962.2" r="1.55" fill="#f0b42f"/>
<circle cx="481.7" cy="939.8" r="1.55" fill="#921b1b"/>
<circle cx="501.5" cy="858.1" r="1.55" fill="#921b1b"/>
<circle cx="475.4" cy="890.2" r="1.55" fill="#15a5c3"/>
<circle cx="572.8" cy="956.4" r="1.55" fill="#f0b42f"/>
<circle cx="495.9" cy="852.1" r="1.55" fill="#921b1b"/>
<circle cx="454.7" cy="962.2" r="1.55" fill="#921b1b"/>
<circle cx="518.7" cy="878.2" r="1.55" fill="#921b1b"/>
<circle cx="520.6" cy="896.1" r="1.55" fill="#921b1b"/>
<circle cx="528.6" cy="922.8" r="1.55" fill="#921b1b"/>
<circle cx="521.6" cy="874.2" r="1.55" fill="#921b1b"/>
<circle cx="571.7" cy="956.4" r="1.55" fill="#f0b42f"/>
<circle cx="572.7" cy="961.3" r="1.55" fill="#f0b42f"/>
<circle cx="520.1" cy="932.7" r="1.55" fill="#921b1b"/>
<circle cx="574.3" cy="963.2" r="1.55" fill="#f0b42f"/>
<circle cx="458.4" cy="951.6" r="1.55" fill="#921b1b"/>
<circle cx="517.1" cy="863.6" r="1.55" fill="#15a5c3"/>
<circle cx="497.7" cy="822.1" r="1.55" fill="#15a5c3"/>
<circle cx="560.9" cy="958.4" r="1.55" fill="#f0b42f"/>
<circle cx="582.1" cy="963.5" r="1.55" fill="#f0b42f"/>
<circle cx="507.3" cy="882.8" r="1.55" fill="#921b1b"/>
<circle cx="495.2" cy="938.4" r="1.55" fill="#921b1b"/>
<circle cx="573.8" cy="935.3" r="1.55" fill="#f0b42f"/>
<circle cx="496.9" cy="947.6" r="1.55" fill="#921b1b"/>
<circle cx="525.9" cy="894.1" r="1.55" fill="#921b1b"/>
<circle cx="582.4" cy="961.2" r="1.55" fill="#f0b42f"/>
<circle cx="416.5" cy="931.2" r="1.55" fill="#15a5c3"/>
<circle cx="579.3" cy="962.6" r="1.55" fill="#f0b42f"/>
<circle cx="555.4" cy="932.0" r="1.55" fill="#f0b42f"/>
<circle cx="585.9" cy="959.4" r="1.55" fill="#f0b42f"/>
<circle cx="501.6" cy="842.8" r="1.55" fill="#15a5c3"/>
<circle cx="586.2" cy="954.2" r="1.55" fill="#f0b42f"/>
<circle cx="586.3" cy="957.9" r="1.55" fill="#f0b42f"/>
<circle cx="479.0" cy="938.6" r="1.55" fill="#921b1b"/>
<circle cx="532.1" cy="944.2" r="1.55" fill="#921b1b"/>
<circle cx="575.1" cy="957.6" r="1.55" fill="#f0b42f"/>
<circle cx="498.0" cy="852.5" r="1.55" fill="#15a5c3"/>
<circle cx="489.1" cy="816.9" r="1.55" fill="#15a5c3"/>
<circle cx="495.1" cy="917.1" r="1.55" fill="#921b1b"/>
<circle cx="505.0" cy="947.3" r="1.55" fill="#15a5c3"/>
<circle cx="559.6" cy="958.2" r="1.55" fill="#f0b42f"/>
<circle cx="514.1" cy="844.8" r="1.55" fill="#15a5c3"/>
<circle cx="407.7" cy="956.4" r="1.55" fill="#921b1b"/>
<circle cx="580.6" cy="961.7" r="1.55" fill="#f0b42f"/>
<circle cx="588.8" cy="960.3" r="1.55" fill="#f0b42f"/>
<circle cx="505.1" cy="890.4" r="1.55" fill="#921b1b"/>
<circle cx="496.5" cy="925.3" r="1.55" fill="#921b1b"/>
<circle cx="492.1" cy="830.4" r="1.55" fill="#15a5c3"/>
<circle cx="508.4" cy="885.6" r="1.55" fill="#15a5c3"/>
<circle cx="442.3" cy="948.1" r="1.55" fill="#921b1b"/>
<circle cx="499.8" cy="855.3" r="1.55" fill="#15a5c3"/>
<circle cx="582.5" cy="953.7" r="1.55" fill="#f0b42f"/>
<circle cx="469.5" cy="957.0" r="1.55" fill="#921b1b"/>
<circle cx="485.7" cy="963.5" r="1.55" fill="#921b1b"/>
<circle cx="555.7" cy="924.8" r="1.55" fill="#f0b42f"/>
<circle cx="571.9" cy="957.2" r="1.55" fill="#f0b42f"/>
<circle cx="482.5" cy="892.2" r="1.55" fill="#15a5c3"/>
<circle cx="588.4" cy="960.8" r="1.55" fill="#f0b42f"/>
<circle cx="489.7" cy="900.4" r="1.55" fill="#921b1b"/>
<circle cx="586.7" cy="961.0" r="1.55" fill="#f0b42f"/>
<circle cx="572.1" cy="956.9" r="1.55" fill="#f0b42f"/>
<circle cx="533.8" cy="921.2" r="1.55" fill="#921b1b"/>
<circle cx="478.3" cy="838.3" r="1.55" fill="#15a5c3"/>
<circle cx="496.8" cy="929.2" r="1.55" fill="#921b1b"/>
<circle cx="461.9" cy="960.6" r="1.55" fill="#921b1b"/>
<circle cx="482.9" cy="824.3" r="1.55" fill="#15a5c3"/>
<circle cx="591.2" cy="962.8" r="1.55" fill="#f0b42f"/>
<circle cx="497.1" cy="848.1" r="1.55" fill="#15a5c3"/>
<circle cx="415.2" cy="952.5" r="1.55" fill="#921b1b"/>
<circle cx="589.0" cy="961.8" r="1.55" fill="#f0b42f"/>
<circle cx="453.5" cy="890.5" r="1.55" fill="#15a5c3"/>
<circle cx="487.2" cy="949.8" r="1.55" fill="#921b1b"/>
<circle cx="583.2" cy="956.8" r="1.55" fill="#f0b42f"/>
<circle cx="544.2" cy="906.5" r="1.55" fill="#f0b42f"/>
<circle cx="557.1" cy="913.7" r="1.55" fill="#f0b42f"/>
<circle cx="575.2" cy="957.0" r="1.55" fill="#f0b42f"/>
<circle cx="555.2" cy="905.6" r="1.55" fill="#f0b42f"/>
<circle cx="584.6" cy="959.0" r="1.55" fill="#f0b42f"/>
<circle cx="527.5" cy="890.1" r="1.55" fill="#921b1b"/>
<circle cx="493.4" cy="821.4" r="1.55" fill="#15a5c3"/>
<circle cx="554.4" cy="957.0" r="1.55" fill="#f0b42f"/>
<circle cx="562.2" cy="949.0" r="1.55" fill="#f0b42f"/>
<circle cx="571.9" cy="959.2" r="1.55" fill="#f0b42f"/>
<circle cx="493.6" cy="800.9" r="1.55" fill="#15a5c3"/>
<circle cx="438.2" cy="961.3" r="1.55" fill="#921b1b"/>
<circle cx="544.9" cy="947.2" r="1.55" fill="#f0b42f"/>
<circle cx="459.1" cy="952.7" r="1.55" fill="#921b1b"/>
<circle cx="538.6" cy="953.8" r="1.55" fill="#921b1b"/>
<circle cx="467.7" cy="897.1" r="1.55" fill="#15a5c3"/>
<circle cx="445.2" cy="900.8" r="1.55" fill="#15a5c3"/>
<circle cx="476.8" cy="890.6" r="1.55" fill="#15a5c3"/>
<circle cx="536.7" cy="951.2" r="1.55" fill="#921b1b"/>
<circle cx="458.6" cy="953.0" r="1.55" fill="#15a5c3"/>
<circle cx="492.5" cy="874.4" r="1.55" fill="#921b1b"/>
<circle cx="503.8" cy="932.6" r="1.55" fill="#921b1b"/>
<circle cx="457.2" cy="883.5" r="1.55" fill="#15a5c3"/>
<circle cx="580.8" cy="961.3" r="1.55" fill="#f0b42f"/>
<circle cx="511.4" cy="882.8" r="1.55" fill="#921b1b"/>
<circle cx="459.2" cy="958.6" r="1.55" fill="#15a5c3"/>
<circle cx="470.5" cy="890.8" r="1.55" fill="#921b1b"/>
<circle cx="475.2" cy="937.4" r="1.55" fill="#921b1b"/>
<circle cx="460.4" cy="905.6" r="1.55" fill="#921b1b"/>
<circle cx="516.6" cy="858.9" r="1.55" fill="#15a5c3"/>
<circle cx="547.2" cy="952.6" r="1.55" fill="#f0b42f"/>
<circle cx="565.6" cy="951.4" r="1.55" fill="#f0b42f"/>
<circle cx="535.9" cy="933.3" r="1.55" fill="#921b1b"/>
<circle cx="477.3" cy="926.0" r="1.55" fill="#921b1b"/>
<circle cx="509.5" cy="947.2" r="1.55" fill="#921b1b"/>
<circle cx="580.0" cy="955.3" r="1.55" fill="#f0b42f"/>
<circle cx="577.6" cy="962.8" r="1.55" fill="#f0b42f"/>
<circle cx="574.6" cy="961.9" r="1.55" fill="#f0b42f"/>
<circle cx="586.1" cy="954.4" r="1.55" fill="#f0b42f"/>
<circle cx="507.9" cy="961.7" r="1.55" fill="#921b1b"/>
<circle cx="550.1" cy="959.0" r="1.55" fill="#921b1b"/>
<circle cx="563.0" cy="960.1" r="1.55" fill="#f0b42f"/>
<circle cx="489.6" cy="902.3" r="1.55" fill="#921b1b"/>
<circle cx="472.6" cy="911.6" r="1.55" fill="#15a5c3"/>
<circle cx="495.7" cy="803.5" r="1.55" fill="#15a5c3"/>
<circle cx="583.4" cy="960.0" r="1.55" fill="#f0b42f"/>
<circle cx="460.5" cy="896.2" r="1.55" fill="#921b1b"/>
<circle cx="576.6" cy="961.9" r="1.55" fill="#f0b42f"/>
<circle cx="441.9" cy="951.5" r="1.55" fill="#921b1b"/>
<circle cx="557.8" cy="957.5" r="1.55" fill="#f0b42f"/>
<circle cx="498.8" cy="888.0" r="1.55" fill="#15a5c3"/>
<circle cx="584.4" cy="954.5" r="1.55" fill="#f0b42f"/>
<circle cx="446.7" cy="944.8" r="1.55" fill="#921b1b"/>
<circle cx="530.1" cy="963.7" r="1.55" fill="#921b1b"/>
<circle cx="587.7" cy="959.3" r="1.55" fill="#f0b42f"/>
<circle cx="538.2" cy="915.3" r="1.55" fill="#921b1b"/>
<circle cx="491.0" cy="897.1" r="1.55" fill="#921b1b"/>
<circle cx="586.9" cy="954.7" r="1.55" fill="#f0b42f"/>
<circle cx="487.8" cy="806.5" r="1.55" fill="#15a5c3"/>
<circle cx="547.5" cy="951.1" r="1.55" fill="#921b1b"/>
<circle cx="548.4" cy="948.6" r="1.55" fill="#f0b42f"/>
<circle cx="477.6" cy="871.0" r="1.55" fill="#921b1b"/>
<circle cx="482.2" cy="815.4" r="1.55" fill="#15a5c3"/>
<circle cx="586.6" cy="954.4" r="1.55" fill="#f0b42f"/>
<circle cx="577.1" cy="961.2" r="1.55" fill="#f0b42f"/>
<circle cx="509.6" cy="865.7" r="1.55" fill="#15a5c3"/>
<circle cx="461.6" cy="927.1" r="1.55" fill="#921b1b"/>
<circle cx="548.1" cy="959.0" r="1.55" fill="#f0b42f"/>
<circle cx="495.5" cy="796.3" r="1.55" fill="#15a5c3"/>
<circle cx="525.3" cy="949.2" r="1.55" fill="#921b1b"/>
<circle cx="570.0" cy="944.1" r="1.55" fill="#f0b42f"/>
<circle cx="455.0" cy="866.6" r="1.55" fill="#15a5c3"/>
<circle cx="553.7" cy="935.9" r="1.55" fill="#f0b42f"/>
<circle cx="556.2" cy="930.1" r="1.55" fill="#f0b42f"/>
<circle cx="466.9" cy="941.4" r="1.55" fill="#15a5c3"/>
<circle cx="550.0" cy="907.2" r="1.55" fill="#f0b42f"/>
<circle cx="427.5" cy="950.9" r="1.55" fill="#15a5c3"/>
<circle cx="498.9" cy="842.3" r="1.55" fill="#15a5c3"/>
<circle cx="584.0" cy="959.6" r="1.55" fill="#f0b42f"/>
<circle cx="518.8" cy="903.3" r="1.55" fill="#921b1b"/>
<circle cx="463.9" cy="928.0" r="1.55" fill="#921b1b"/>
<circle cx="506.2" cy="866.6" r="1.55" fill="#921b1b"/>
<circle cx="487.6" cy="935.7" r="1.55" fill="#921b1b"/>
<circle cx="556.6" cy="942.6" r="1.55" fill="#f0b42f"/>
<circle cx="573.6" cy="956.0" r="1.55" fill="#f0b42f"/>
<circle cx="497.6" cy="881.6" r="1.55" fill="#921b1b"/>
<circle cx="475.9" cy="833.9" r="1.55" fill="#15a5c3"/>
<circle cx="582.1" cy="958.0" r="1.55" fill="#f0b42f"/>
<circle cx="548.3" cy="952.9" r="1.55" fill="#921b1b"/>
<circle cx="586.2" cy="958.5" r="1.55" fill="#f0b42f"/>
<circle cx="522.3" cy="960.0" r="1.55" fill="#921b1b"/>
<circle cx="475.9" cy="961.9" r="1.55" fill="#921b1b"/>
<circle cx="480.3" cy="841.6" r="1.55" fill="#15a5c3"/>
<circle cx="580.2" cy="963.1" r="1.55" fill="#f0b42f"/>
<circle cx="492.5" cy="954.5" r="1.55" fill="#921b1b"/>
<circle cx="478.1" cy="873.0" r="1.55" fill="#921b1b"/>
<circle cx="500.1" cy="905.2" r="1.55" fill="#15a5c3"/>
<circle cx="570.2" cy="957.2" r="1.55" fill="#f0b42f"/>
<circle cx="496.9" cy="941.7" r="1.55" fill="#921b1b"/>
<circle cx="449.5" cy="953.8" r="1.55" fill="#15a5c3"/>
<circle cx="497.9" cy="804.1" r="1.55" fill="#15a5c3"/>
<circle cx="508.6" cy="857.8" r="1.55" fill="#15a5c3"/>
<circle cx="548.1" cy="905.0" r="1.55" fill="#f0b42f"/>
<circle cx="489.6" cy="802.6" r="1.55" fill="#15a5c3"/>
<circle cx="469.8" cy="868.4" r="1.55" fill="#15a5c3"/>
<circle cx="561.7" cy="958.5" r="1.55" fill="#f0b42f"/>
<circle cx="509.7" cy="830.0" r="1.55" fill="#15a5c3"/>
<circle cx="578.5" cy="955.7" r="1.55" fill="#f0b42f"/>
<circle cx="463.3" cy="900.5" r="1.55" fill="#921b1b"/>
<circle cx="581.8" cy="960.9" r="1.55" fill="#f0b42f"/>
<circle cx="448.6" cy="957.3" r="1.55" fill="#921b1b"/>
<circle cx="575.2" cy="936.2" r="1.55" fill="#f0b42f"/>
<circle cx="496.5" cy="821.3" r="1.55" fill="#f0b42f"/>
<circle cx="495.9" cy="868.2" r="1.55" fill="#15a5c3"/>
<circle cx="466.9" cy="916.2" r="1.55" fill="#921b1b"/>
<circle cx="507.8" cy="941.2" r="1.55" fill="#921b1b"/>
<circle cx="558.2" cy="948.6" r="1.55" fill="#f0b42f"/>
<circle cx="527.2" cy="949.3" r="1.55" fill="#921b1b"/>
<circle cx="445.1" cy="927.6" r="1.55" fill="#921b1b"/>
<circle cx="445.9" cy="904.6" r="1.55" fill="#15a5c3"/>
<circle cx="570.8" cy="958.6" r="1.55" fill="#f0b42f"/>
<circle cx="583.6" cy="955.7" r="1.55" fill="#f0b42f"/>
<circle cx="436.9" cy="939.1" r="1.55" fill="#921b1b"/>
<circle cx="495.7" cy="799.1" r="1.55" fill="#15a5c3"/>
<circle cx="509.8" cy="928.2" r="1.55" fill="#921b1b"/>
<circle cx="460.1" cy="919.1" r="1.55" fill="#15a5c3"/>
<circle cx="572.1" cy="937.1" r="1.55" fill="#f0b42f"/>
<circle cx="477.0" cy="960.6" r="1.55" fill="#921b1b"/>
<circle cx="582.6" cy="957.3" r="1.55" fill="#f0b42f"/>
<circle cx="561.5" cy="915.4" r="1.55" fill="#f0b42f"/>
<circle cx="573.6" cy="958.6" r="1.55" fill="#f0b42f"/>
<circle cx="516.0" cy="875.1" r="1.55" fill="#15a5c3"/>
<circle cx="445.6" cy="932.3" r="1.55" fill="#15a5c3"/>
<circle cx="570.9" cy="959.5" r="1.55" fill="#f0b42f"/>
<circle cx="499.8" cy="915.7" r="1.55" fill="#15a5c3"/>
<circle cx="485.6" cy="930.8" r="1.55" fill="#921b1b"/>
<circle cx="570.9" cy="958.3" r="1.55" fill="#f0b42f"/>
<circle cx="477.1" cy="881.1" r="1.55" fill="#921b1b"/>
<circle cx="458.2" cy="952.5" r="1.55" fill="#921b1b"/>
<circle cx="580.1" cy="957.9" r="1.55" fill="#f0b42f"/>
<circle cx="491.5" cy="898.7" r="1.55" fill="#15a5c3"/>
<circle cx="455.5" cy="949.6" r="1.55" fill="#921b1b"/>
<circle cx="556.4" cy="951.9" r="1.55" fill="#f0b42f"/>
<circle cx="562.9" cy="921.7" r="1.55" fill="#f0b42f"/>
<circle cx="456.5" cy="905.8" r="1.55" fill="#921b1b"/>
<circle cx="440.2" cy="941.5" r="1.55" fill="#921b1b"/>
<circle cx="411.9" cy="955.1" r="1.55" fill="#921b1b"/>
<circle cx="502.6" cy="926.0" r="1.55" fill="#921b1b"/>
<circle cx="475.5" cy="846.7" r="1.55" fill="#15a5c3"/>
<circle cx="439.5" cy="963.1" r="1.55" fill="#921b1b"/>
<circle cx="446.1" cy="933.0" r="1.55" fill="#15a5c3"/>
<circle cx="576.1" cy="957.9" r="1.55" fill="#f0b42f"/>
<circle cx="580.5" cy="954.2" r="1.55" fill="#f0b42f"/>
<circle cx="491.3" cy="819.6" r="1.55" fill="#15a5c3"/>
<circle cx="484.4" cy="923.4" r="1.55" fill="#921b1b"/>
<circle cx="466.7" cy="949.1" r="1.55" fill="#921b1b"/>
<circle cx="490.0" cy="877.6" r="1.55" fill="#15a5c3"/>
<circle cx="584.3" cy="956.9" r="1.55" fill="#f0b42f"/>
<circle cx="479.3" cy="948.1" r="1.55" fill="#921b1b"/>
<circle cx="507.9" cy="935.4" r="1.55" fill="#921b1b"/>
<circle cx="488.5" cy="852.1" r="1.55" fill="#921b1b"/>
<circle cx="499.1" cy="822.8" r="1.55" fill="#15a5c3"/>
<circle cx="439.4" cy="893.8" r="1.55" fill="#15a5c3"/>
<circle cx="435.4" cy="917.6" r="1.55" fill="#15a5c3"/>
<circle cx="499.5" cy="838.4" r="1.55" fill="#15a5c3"/>
<circle cx="461.5" cy="917.9" r="1.55" fill="#15a5c3"/>
<circle cx="476.1" cy="950.1" r="1.55" fill="#921b1b"/>
<circle cx="540.3" cy="879.6" r="1.55" fill="#f0b42f"/>
<circle cx="553.7" cy="963.0" r="1.55" fill="#f0b42f"/>
<circle cx="488.7" cy="914.6" r="1.55" fill="#921b1b"/>
<circle cx="484.4" cy="954.1" r="1.55" fill="#921b1b"/>
<circle cx="439.6" cy="940.4" r="1.55" fill="#921b1b"/>
<circle cx="496.4" cy="930.0" r="1.55" fill="#921b1b"/>
<circle cx="469.7" cy="888.7" r="1.55" fill="#15a5c3"/>
<circle cx="583.3" cy="955.2" r="1.55" fill="#f0b42f"/>
<circle cx="571.4" cy="958.1" r="1.55" fill="#f0b42f"/>
<circle cx="500.3" cy="808.6" r="1.55" fill="#15a5c3"/>
<circle cx="486.2" cy="843.6" r="1.55" fill="#921b1b"/>
<circle cx="565.5" cy="945.7" r="1.55" fill="#f0b42f"/>
<circle cx="527.0" cy="903.2" r="1.55" fill="#921b1b"/>
<circle cx="534.0" cy="943.8" r="1.55" fill="#921b1b"/>
<circle cx="486.6" cy="853.8" r="1.55" fill="#f0b42f"/>
<circle cx="456.4" cy="953.6" r="1.55" fill="#921b1b"/>
<circle cx="522.1" cy="887.6" r="1.55" fill="#921b1b"/>
<circle cx="565.5" cy="922.6" r="1.55" fill="#f0b42f"/>
<circle cx="469.8" cy="897.0" r="1.55" fill="#15a5c3"/>
<circle cx="513.6" cy="939.5" r="1.55" fill="#921b1b"/>
<circle cx="551.9" cy="957.6" r="1.55" fill="#f0b42f"/>
<circle cx="441.7" cy="892.1" r="1.55" fill="#15a5c3"/>
<circle cx="562.7" cy="941.7" r="1.55" fill="#f0b42f"/>
<circle cx="551.8" cy="963.5" r="1.55" fill="#921b1b"/>
<circle cx="582.7" cy="961.4" r="1.55" fill="#f0b42f"/>
<circle cx="461.0" cy="878.2" r="1.55" fill="#15a5c3"/>
<circle cx="574.1" cy="957.5" r="1.55" fill="#f0b42f"/>
<circle cx="472.6" cy="889.0" r="1.55" fill="#921b1b"/>
<circle cx="474.7" cy="940.4" r="1.55" fill="#921b1b"/>
<circle cx="502.1" cy="863.6" r="1.55" fill="#921b1b"/>
<circle cx="448.7" cy="937.3" r="1.55" fill="#921b1b"/>
<circle cx="564.0" cy="929.7" r="1.55" fill="#f0b42f"/>
<circle cx="547.4" cy="958.7" r="1.55" fill="#921b1b"/>
<circle cx="517.4" cy="905.5" r="1.55" fill="#921b1b"/>
<circle cx="553.2" cy="951.7" r="1.55" fill="#f0b42f"/>
<circle cx="546.3" cy="900.1" r="1.55" fill="#f0b42f"/>
<circle cx="502.1" cy="951.6" r="1.55" fill="#921b1b"/>
<circle cx="585.7" cy="956.9" r="1.55" fill="#f0b42f"/>
<circle cx="493.6" cy="959.2" r="1.55" fill="#921b1b"/>
<circle cx="469.0" cy="919.9" r="1.55" fill="#921b1b"/>
<circle cx="447.0" cy="926.2" r="1.55" fill="#921b1b"/>
<circle cx="504.5" cy="821.5" r="1.55" fill="#15a5c3"/>
<circle cx="575.1" cy="958.4" r="1.55" fill="#f0b42f"/>
<circle cx="515.5" cy="955.8" r="1.55" fill="#921b1b"/>
<circle cx="553.4" cy="951.5" r="1.55" fill="#f0b42f"/>
<circle cx="444.9" cy="941.0" r="1.55" fill="#15a5c3"/>
<circle cx="513.5" cy="836.9" r="1.55" fill="#15a5c3"/>
<circle cx="573.1" cy="957.9" r="1.55" fill="#f0b42f"/>
<circle cx="556.7" cy="921.8" r="1.55" fill="#f0b42f"/>
<polygon points="494.4,793.6 396,963.7 592.1,963.7" fill="none" stroke="#222" stroke-width="0.8"/>
<text x="576.6" y="931.2" font-size="4.9" fill="#444">20</text>
<text x="433.2" y="968.7" font-size="4.9" fill="#444" transform="rotate(60 433.2 968.7)">20</text>
<text x="470.7" y="826.6" font-size="4.9" fill="#444" text-anchor="end" transform="rotate(-60 470.7 826.6)">20</text>
<text x="557.0" y="897.2" font-size="4.9" fill="#444">40</text>
<text x="472.4" y="968.7" font-size="4.9" fill="#444" transform="rotate(60 472.4 968.7)">40</text>
<text x="451.0" y="860.6" font-size="4.9" fill="#444" text-anchor="end" transform="rotate(-60 451.0 860.6)">40</text>
<text x="537.5" y="863.1" font-size="4.9" fill="#444">60</text>
<text x="511.7" y="968.7" font-size="4.9" fill="#444" transform="rotate(60 511.7 968.7)">60</text>
<text x="431.4" y="894.7" font-size="4.9" fill="#444" text-anchor="end" transform="rotate(-60 431.4 894.7)">60</text>
<text x="517.9" y="829.1" font-size="4.9" fill="#444">80</text>
<text x="550.9" y="968.7" font-size="4.9" fill="#444" transform="rotate(60 550.9 968.7)">80</text>
<text x="411.7" y="928.7" font-size="4.9" fill="#444" text-anchor="end" transform="rotate(-60 411.7 928.7)">80</text>
<text x="498.4" y="795.1" font-size="4.9" fill="#444">100</text>
<text x="590.1" y="968.7" font-size="4.9" fill="#444" transform="rotate(60 590.1 968.7)">100</text>
<text x="392.0" y="962.7" font-size="4.9" fill="#444" text-anchor="end" transform="rotate(-60 392.0 962.7)">100</text>
<text x="494.4" y="785.6" font-size="6.5" fill="#222" text-anchor="middle">Myeloid cells</text>
<text x="377" y="972.3" font-size="6.6" fill="#222" text-anchor="middle">T cells</text>
<text x="609.5" y="972.3" font-size="6.6" fill="#222" text-anchor="middle">B cells</text>
<line x1="444.5" y1="836" x2="406.6" y2="902.5" stroke="#777" stroke-width="0.5"/>
<polyline points="406.95,899.52 406.6,902.5 408.98,900.68" fill="none" stroke="#777" stroke-width="0.5"/>
<line x1="582.1" y1="904" x2="542.8" y2="836" stroke="#777" stroke-width="0.5"/>
<polyline points="545.19,837.81 542.8,836 543.17,838.98" fill="none" stroke="#777" stroke-width="0.5"/>
<line x1="454.4" y1="983.3" x2="533.7" y2="983.3" stroke="#777" stroke-width="0.5"/>
<polyline points="530.94,984.47 533.7,983.3 530.94,982.13" fill="none" stroke="#777" stroke-width="0.5"/>
<text x="423.3" y="870.5" font-size="5.5" fill="#444" text-anchor="middle" transform="rotate(-60 423.3 870.5)">T cells</text>
<text x="564.5" y="868.5" font-size="5.5" fill="#444" text-anchor="middle" transform="rotate(60 564.5 868.5)">Myeloid cells</text>
<text x="494.4" y="989.3" font-size="5.5" fill="#444" text-anchor="middle">B cells</text>
<polygon points="626.3,813.2 605,849.2 647.4,849.2" fill="none" stroke="#222" stroke-width="0.5"/>
<polyline points="615.5,831.5 620.7,840.8 616.7,849.2" fill="none" stroke="#222" stroke-width="0.4"/>
<line x1="620.7" y1="840.8" x2="644" y2="840.8" stroke="#ccc" stroke-width="0.9"/>
<circle cx="620.7" cy="840.8" r="1.5" fill="#111"/>
<text x="611.7" y="831.4" font-size="4.8" fill="#333" text-anchor="middle">60</text>
<text x="647.6" y="842.6" font-size="4.8" fill="#333">15</text>
<text x="615.2" y="855" font-size="4.8" fill="#333" text-anchor="middle">25</text>
<text x="661.2" y="829.8" font-size="4.8" fill="#333">T cells - 60%</text>
<text x="661.2" y="835.8" font-size="4.8" fill="#333">B cells - 25%</text>
<text x="661.2" y="841.4" font-size="4.8" fill="#333">M. cells - 15%</text>
<text x="602.7" y="874" font-size="6.8" fill="#222">Primary Diagnosis</text>
<circle cx="607.2" cy="882.1" r="1.9" fill="#15a5c3"/>
<circle cx="607.2" cy="898.2" r="1.9" fill="#f0b42f"/>
<circle cx="607.2" cy="915.1" r="1.9" fill="#921b1b"/>
<text x="615.8" y="882.2" font-size="5.6" fill="#222">Acute Myeloid Leukemia</text>
<text x="615.8" y="888.8" font-size="5.6" fill="#222">(n=187)</text>
<text x="615.8" y="899.3" font-size="5.6" fill="#222">Precursor B−cell lymphoblastic</text>
<text x="615.8" y="906.1" font-size="5.6" fill="#222">leukemia (n = 267)</text>
<text x="615.8" y="915.8" font-size="5.6" fill="#222">T lymphoblastic leukemia</text>
<text x="615.8" y="922.2" font-size="5.6" fill="#222">(n = 265)</text>
</svg></body></html>
